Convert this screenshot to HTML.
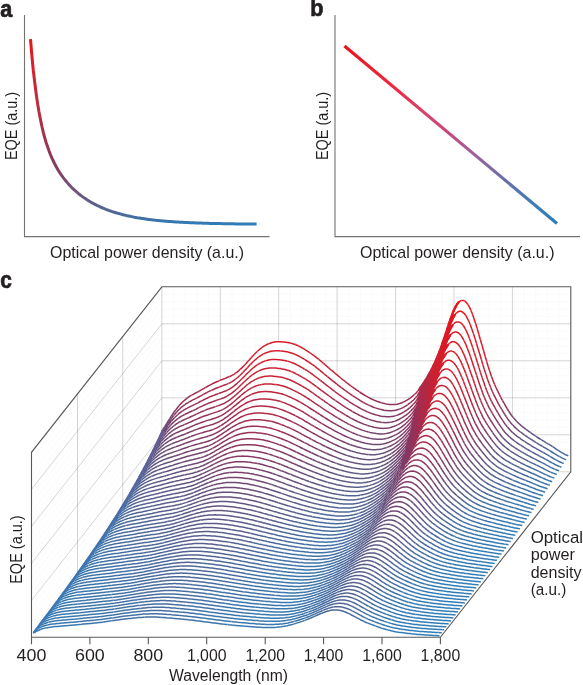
<!DOCTYPE html>
<html><head><meta charset="utf-8"><style>html,body{margin:0;padding:0;background:#fff;width:583px;height:685px;overflow:hidden}svg{display:block}</style></head>
<body><svg width="583" height="685" viewBox="0 0 583 685">
<defs><linearGradient id="ga" gradientUnits="userSpaceOnUse" x1="0" y1="224.4" x2="0" y2="39.3"><stop offset="0.0" stop-color="#2f7db9"/><stop offset="0.05" stop-color="#4a6a9a"/><stop offset="0.15" stop-color="#6a5a80"/><stop offset="0.33" stop-color="#8a3a5a"/><stop offset="0.5" stop-color="#a53248"/><stop offset="0.64" stop-color="#ba2e3e"/><stop offset="0.83" stop-color="#d6202e"/><stop offset="1.0" stop-color="#e8141c"/></linearGradient><linearGradient id="gb" gradientUnits="userSpaceOnUse" x1="344.5" y1="46" x2="557" y2="223.5"><stop offset="0.0" stop-color="#e8141c"/><stop offset="0.24" stop-color="#ec2a45"/><stop offset="0.37" stop-color="#d8426a"/><stop offset="0.5" stop-color="#c24a80"/><stop offset="0.6" stop-color="#a0609a"/><stop offset="0.75" stop-color="#6a6ea8"/><stop offset="0.9" stop-color="#3c7db8"/><stop offset="1.0" stop-color="#2e7eb6"/></linearGradient></defs>
<text x="0.3" y="16.5" font-size="23" font-weight="bold" fill="#231f20" stroke="#231f20" stroke-width="0.7" font-family="Liberation Sans, Arial, sans-serif" textLength="12" lengthAdjust="spacingAndGlyphs">a</text>
<text x="310.3" y="16.3" font-size="23" font-weight="bold" fill="#231f20" stroke="#231f20" stroke-width="0.7" font-family="Liberation Sans, Arial, sans-serif" textLength="13.2" lengthAdjust="spacingAndGlyphs">b</text>
<text x="0.3" y="287.8" font-size="23" font-weight="bold" fill="#231f20" stroke="#231f20" stroke-width="0.7" font-family="Liberation Sans, Arial, sans-serif" textLength="11.6" lengthAdjust="spacingAndGlyphs">c</text>
<path d="M24.5 15V236.6H269.5" stroke="#737373" stroke-width="1.1" fill="none"/>
<path d="M30.5 39.2 31.9 55.9 33.3 70.4 34.8 83 36.2 94 37.6 103.6 39 112.1 40.5 119.6 41.9 126.3 43.3 132.3 44.7 137.6 46.1 142.5 47.6 146.8 49 150.8 50.4 154.5 51.8 157.9 53.3 161 54.7 163.8 56.1 166.5 57.5 169 58.9 171.4 60.4 173.6 61.8 175.6 63.2 177.6 64.6 179.4 66.1 181.2 67.5 182.9 68.9 184.5 70.3 186 71.7 187.5 73.2 188.9 74.6 190.2 76 191.5 77.4 192.7 78.8 193.9 80.3 195 81.7 196.1 83.1 197.1 84.5 198.1 86 199.1 87.4 200 88.8 200.9 90.2 201.7 91.6 202.6 93.1 203.3 94.5 204.1 95.9 204.8 97.3 205.6 98.8 206.2 100.2 206.9 101.6 207.5 103 208.1 104.4 208.7 105.9 209.3 107.3 209.8 108.7 210.4 110.1 210.9 111.6 211.4 113 211.8 114.4 212.3 115.8 212.7 117.2 213.1 118.7 213.5 120.1 213.9 121.5 214.3 122.9 214.7 124.4 215 125.8 215.4 127.2 215.7 128.6 216 130 216.3 131.5 216.6 132.9 216.9 134.3 217.2 135.7 217.4 137.2 217.7 138.6 217.9 140 218.1 141.4 218.4 142.8 218.6 144.3 218.8 145.7 219 147.1 219.2 148.5 219.4 149.9 219.6 151.4 219.7 152.8 219.9 154.2 220.1 155.6 220.2 157.1 220.4 158.5 220.5 159.9 220.7 161.3 220.8 162.7 220.9 164.2 221 165.6 221.2 167 221.3 168.4 221.4 169.9 221.5 171.3 221.6 172.7 221.7 174.1 221.8 175.5 221.9 177 222 178.4 222.1 179.8 222.2 181.2 222.2 182.7 222.3 184.1 222.4 185.5 222.5 186.9 222.5 188.3 222.6 189.8 222.7 191.2 222.7 192.6 222.8 194 222.8 195.5 222.9 196.9 223 198.3 223 199.7 223.1 201.1 223.1 202.6 223.2 204 223.2 205.4 223.2 206.8 223.3 208.3 223.3 209.7 223.4 211.1 223.4 212.5 223.4 213.9 223.5 215.4 223.5 216.8 223.5 218.2 223.6 219.6 223.6 221 223.6 222.5 223.7 223.9 223.7 225.3 223.7 226.7 223.7 228.2 223.8 229.6 223.8 231 223.8 232.4 223.8 233.8 223.8 235.3 223.9 236.7 223.9 238.1 223.9 239.5 223.9 241 223.9 242.4 224 243.8 224 245.2 224 246.6 224 248.1 224 249.5 224 250.9 224 252.3 224.1 253.8 224.1 255.2 224.1 256.6 224.1" stroke="url(#ga)" stroke-width="3" fill="none"/>
<text x="50" y="257.9" font-size="16.2" fill="#231f20" font-family="Liberation Sans, Arial, sans-serif" textLength="194" lengthAdjust="spacingAndGlyphs">Optical power density (a.u.)</text>
<text transform="translate(17.2,160) rotate(-90)" font-size="16" fill="#231f20" font-family="Liberation Sans, Arial, sans-serif" textLength="68" lengthAdjust="spacingAndGlyphs">EQE (a.u.)</text>
<path d="M335 15V236.6H580" stroke="#737373" stroke-width="1.1" fill="none"/>
<path d="M344.5 46L557 223.5" stroke="url(#gb)" stroke-width="3.2" fill="none"/>
<text x="360" y="257.9" font-size="16.2" fill="#231f20" font-family="Liberation Sans, Arial, sans-serif" textLength="194.5" lengthAdjust="spacingAndGlyphs">Optical power density (a.u.)</text>
<text transform="translate(327.7,160) rotate(-90)" font-size="16" fill="#231f20" font-family="Liberation Sans, Arial, sans-serif" textLength="68" lengthAdjust="spacingAndGlyphs">EQE (a.u.)</text>
<path d="M173.6 286.8V471.8M185.3 286.8V471.8M196.9 286.8V471.8M208.6 286.8V471.8M232 286.8V471.8M243.7 286.8V471.8M255.4 286.8V471.8M267 286.8V471.8M290.4 286.8V471.8M302.1 286.8V471.8M313.8 286.8V471.8M325.5 286.8V471.8M348.8 286.8V471.8M360.5 286.8V471.8M372.2 286.8V471.8M383.9 286.8V471.8M407.2 286.8V471.8M418.9 286.8V471.8M430.6 286.8V471.8M442.3 286.8V471.8M465.7 286.8V471.8M477.3 286.8V471.8M489 286.8V471.8M500.7 286.8V471.8M524.1 286.8V471.8M535.8 286.8V471.8M547.4 286.8V471.8M559.1 286.8V471.8M161.9 464.4H570.8M161.9 457H570.8M161.9 449.6H570.8M161.9 442.2H570.8M161.9 427.4H570.8M161.9 420H570.8M161.9 412.6H570.8M161.9 405.2H570.8M161.9 390.4H570.8M161.9 383H570.8M161.9 375.6H570.8M161.9 368.2H570.8M161.9 353.4H570.8M161.9 346H570.8M161.9 338.6H570.8M161.9 331.2H570.8M161.9 316.4H570.8M161.9 309H570.8M161.9 301.6H570.8M161.9 294.2H570.8M31.5 629.9L161.9 464.4M31.5 622.5L161.9 457M31.5 615.1L161.9 449.6M31.5 607.7L161.9 442.2M31.5 592.9L161.9 427.4M31.5 585.5L161.9 420M31.5 578.1L161.9 412.6M31.5 570.7L161.9 405.2M31.5 555.9L161.9 390.4M31.5 548.5L161.9 383M31.5 541.1L161.9 375.6M31.5 533.7L161.9 368.2M31.5 518.9L161.9 353.4M31.5 511.5L161.9 346M31.5 504.1L161.9 338.6M31.5 496.7L161.9 331.2M31.5 481.9L161.9 316.4M31.5 474.5L161.9 309M31.5 467.1L161.9 301.6M31.5 459.7L161.9 294.2" stroke="#eceef0" stroke-width="0.7" stroke-dasharray="0.8 1.4" fill="none"/>
<path d="M161.9 286.8V471.8M220.3 286.8V471.8M278.7 286.8V471.8M337.1 286.8V471.8M395.6 286.8V471.8M454 286.8V471.8M512.4 286.8V471.8M161.9 471.8H570.8M161.9 434.8H570.8M161.9 397.8H570.8M161.9 360.8H570.8M161.9 323.8H570.8M31.5 600.3L161.9 434.8M31.5 563.3L161.9 397.8M31.5 526.3L161.9 360.8M31.5 489.3L161.9 323.8M77.5 578.9L77.5 393.9M122.8 521.4L122.8 336.4" stroke="#000" stroke-opacity="0.19" stroke-width="0.9" fill="none"/>
<path d="M161.8 431.3 163.3 428.8 164.9 426.3 166.5 423.8 168 421.3 169.6 418.8 171.2 416.4 172.7 414.1 174.3 411.8 175.9 409.7 177.5 407.7 179 405.8 180.6 404 182.2 402.4 183.7 401 185.3 399.6 186.9 398.4 188.4 397.2 190 396.2 191.6 395.2 193.2 394.3 194.7 393.5 196.3 392.6 197.9 391.8 199.4 391 201 390.1 202.6 389.2 204.1 388.3 205.7 387.4 207.3 386.5 208.9 385.6 210.4 384.8 212 384 213.6 383.2 215.1 382.5 216.7 381.8 218.3 381.1 219.8 380.4 221.4 379.8 223 379.2 224.6 378.6 226.1 378 227.7 377.3 229.3 376.7 230.8 376 232.4 375.2 234 374.3 235.5 373.2 237.1 372.1 238.7 370.8 240.2 369.4 241.8 367.9 243.4 366.3 245 364.7 246.5 363 248.1 361.2 249.7 359.5 251.2 357.7 252.8 356 254.4 354.3 255.9 352.7 257.5 351.2 259.1 349.8 260.7 348.5 262.2 347.3 263.8 346.2 265.4 345.3 266.9 344.5 268.5 343.8 270.1 343.2 271.6 342.7 273.2 342.3 274.8 342 276.4 341.8 277.9 341.7 279.5 341.7 281.1 341.8 282.6 341.9 284.2 342.1 285.8 342.3 287.3 342.5 288.9 342.8 290.5 343.1 292 343.5 293.6 344 295.2 344.5 296.8 345.2 298.3 345.9 299.9 346.7 301.5 347.5 303 348.4 304.6 349.4 306.2 350.3 307.7 351.4 309.3 352.4 310.9 353.5 312.5 354.6 314 355.7 315.6 356.9 317.2 358.1 318.7 359.4 320.3 360.7 321.9 362 323.4 363.4 325 364.7 326.6 366.1 328.2 367.4 329.7 368.8 331.3 370.1 332.9 371.4 334.4 372.7 336 374.1 337.6 375.4 339.1 376.7 340.7 378 342.3 379.3 343.9 380.5 345.4 381.7 347 383 348.6 384.1 350.1 385.3 351.7 386.5 353.3 387.6 354.8 388.7 356.4 389.9 358 390.9 359.5 392 361.1 393 362.7 394 364.3 395 365.8 395.9 367.4 396.8 369 397.7 370.5 398.5 372.1 399.2 373.7 400 375.2 400.6 376.8 401.3 378.4 401.8 380 402.3 381.5 402.8 383.1 403.3 384.7 403.6 386.2 404 387.8 404.2 389.4 404.5 390.9 404.6 392.5 404.6 394.1 404.6 395.7 404.4 397.2 404.2 398.8 403.8 400.4 403.3 401.9 402.7 403.5 402 405.1 401.2 406.6 400.4 408.2 399.4 409.8 398.3 411.3 397.2 412.9 395.9 414.5 394.5 416.1 393 417.6 391.3 419.2 389.4 420.8 387.3 422.3 385.1 423.9 382.8 425.5 380.3 427 377.8 428.6 375.1 430.2 372.2 431.8 369.2 433.3 366 434.9 362.7 436.5 359.1 438 355.4 439.6 351.4 441.2 347.2 442.7 342.7 444.3 338.1 445.9 333.3 447.5 328.5 449 323.7 450.6 319 452.2 314.6 453.7 310.7 455.3 307.3 456.9 304.5 458.4 302.4 460 301.1 461.6 300.4 463.2 300.4 464.7 301.1 466.3 302.4 467.9 304.5 469.4 307.2 471 310.5 472.6 314.5 474.1 318.9 475.7 323.7 477.3 328.9 478.8 334.2 480.4 339.7 482 345.2 483.6 350.8 485.1 356.3 486.7 361.6 488.3 366.8 489.8 371.6 491.4 376.2 493 380.4 494.5 384.2 496.1 387.8 497.7 391.2 499.3 394.3 500.8 397.3 502.4 400.3 504 403.1 505.5 405.8 507.1 408.5 508.7 411.1 510.2 413.5 511.8 415.7 513.4 417.7 515 419.5 516.5 421.2 518.1 422.7 519.7 424.2 521.2 425.6 522.8 426.9 524.4 428.1 525.9 429.3 527.5 430.4 529.1 431.6 530.6 432.7 532.2 433.8 533.8 434.9 535.4 436 536.9 437 538.5 438 540.1 439 541.6 440 543.2 440.9 544.8 441.9 546.3 442.8 547.9 443.8 549.5 444.7 551.1 445.7 552.6 446.7 554.2 447.7 555.8 448.8 557.3 449.8 558.9 450.9 560.5 451.8 562 452.8 563.6 453.7 565.2 454.5 566.8 455.2 568.3 455.9 568.3 455.9 566 459.7 563.7 463.5 561.4 467.2 559.1 470.9 556.8 474.5 554.5 478.1 552.2 481.7 549.9 485.3 547.6 488.8 545.3 492.2 543 495.7 540.7 499.1 538.4 502.5 536.1 505.9 533.8 509.2 531.5 512.5 529.2 515.8 526.9 519.1 524.6 522.4 522.3 525.6 520 528.8 517.7 532 515.4 535.2 513.1 538.4 510.8 541.6 508.5 544.7 506.2 547.9 503.9 551 501.6 554.1 499.3 557.2 497 560.3 494.7 563.4 492.4 566.5 490.1 569.6 487.8 572.7 485.5 575.7 483.2 578.8 480.9 581.8 478.6 584.8 476.3 587.9 474 590.9 471.7 593.9 469.4 596.9 467.1 599.9 464.8 602.9 462.5 605.9 460.2 608.9 457.9 611.9 455.6 614.9 453.3 617.9 451 620.9 448.7 623.9 446.4 626.8 444.1 629.8 441.8 632.8 439.5 635.8 439.5 637.3 33 637.3 33 633.1 35.3 630.1 37.6 627 39.9 624 42.2 621 44.5 617.9 46.8 614.8 49.1 611.8 51.4 608.7 53.7 605.6 56 602.5 58.3 599.4 60.6 596.3 62.9 593.1 65.2 590 67.5 586.8 69.8 583.7 72.1 580.5 74.4 577.3 76.7 574.1 79 570.9 81.3 567.6 83.6 564.4 85.9 561.1 88.2 557.8 90.5 554.5 92.8 551.1 95.1 547.8 97.4 544.4 99.7 541 102 537.5 104.3 534 106.6 530.5 108.9 527 111.2 523.4 113.5 519.8 115.8 516.2 118.1 512.5 120.4 508.8 122.7 505 125 501.2 127.3 497.4 129.6 493.5 131.9 489.5 134.2 485.5 136.5 481.4 138.8 477.2 141.1 473 143.4 468.7 145.7 464.4 148 459.9 150.3 455.4 152.6 450.8 154.9 446.1 157.2 441.3 159.5 436.3 161.8 431.3Z" fill="#fff"/>
<path d="M401.3 467.1L402.9 465.1M402.1 463.9L403.6 461.8M402.8 460.5L404.4 458.5" stroke="#7c3f6a" stroke-width="2.4" fill="none" stroke-linecap="round"/>
<path d="M402.2 468.3L403.8 466.3M402.9 465.1L404.5 462.9M404.5 462.9L406.1 460.8M403.6 461.8L405.2 459.6M404.4 458.5L405.9 456.3M403.5 457.1L405.1 455.1M405.1 455.1L406.7 452.9M405.8 451.6L407.4 449.5M406.6 448.1L408.1 446" stroke="#823b66" stroke-width="2.4" fill="none" stroke-linecap="round"/>
<path d="M406.1 460.8L407.6 458.7M405.2 459.6L406.8 457.4M406.8 457.4L408.4 455.2M405.9 456.3L407.5 454M407.5 454L409.1 451.7M406.7 452.9L408.2 450.7M408.2 450.7L409.8 448.3M407.4 449.5L409 447.2M409 447.2L410.5 444.9M408.1 446L409.7 443.7M407.3 444.5L408.9 442.4M408.9 442.4L410.4 440.2M408 440.8L409.6 438.7M409.6 438.7L411.2 436.5" stroke="#883761" stroke-width="2.4" fill="none" stroke-linecap="round"/>
<path d="M407.6 458.7L409.2 456.6M408.4 455.2L409.9 453M409.9 453L411.5 450.8M409.1 451.7L410.7 449.4M410.7 449.4L412.2 447.1M409.8 448.3L411.4 445.9M410.5 444.9L412.1 442.4M409.7 443.7L411.3 441.4M411.3 441.4L412.8 438.9M410.4 440.2L412 437.9M412 437.9L413.6 435.4M411.2 436.5L412.7 434.2M410.3 434.9L411.9 432.8M411.9 432.8L413.5 430.5M411.1 431.1L412.6 428.9M411.8 427.1L413.4 425" stroke="#8f345d" stroke-width="2.4" fill="none" stroke-linecap="round"/>
<path d="M412.2 447.1L413.8 444.9M411.4 445.9L413 443.5M413 443.5L414.5 441.1M412.1 442.4L413.7 439.9M412.8 438.9L414.4 436.4M413.6 435.4L415.1 432.8M412.7 434.2L414.3 431.8M414.3 431.8L415.9 429.2M413.5 430.5L415 428.1M412.6 428.9L414.2 426.7M414.2 426.7L415.8 424.3M413.4 425L414.9 422.8M414.9 422.8L416.5 420.4M412.5 423L414.1 420.9M414.1 420.9L415.7 418.7M413.2 418.8L414.8 416.8M414.8 416.8L416.4 414.6M414 414.5L415.5 412.5" stroke="#953259" stroke-width="2.4" fill="none" stroke-linecap="round"/>
<path d="M413.8 444.9L415.4 442.8M414.5 441.1L416.1 438.8M413.7 439.9L415.3 437.4M415.3 437.4L416.8 434.9M414.4 436.4L416 433.8M416 433.8L417.6 431.1M415.1 432.8L416.7 430.2M415.9 429.2L417.4 426.6M415 428.1L416.6 425.6M416.6 425.6L418.2 422.9M415.8 424.3L417.3 421.8M417.3 421.8L418.9 419.1M416.5 420.4L418.1 417.9M415.7 418.7L417.2 416.4M417.2 416.4L418.8 414M416.4 414.6L418 412.3M415.5 412.5L417.1 410.3M417.1 410.3L418.7 408.1M414.7 410.2L416.3 408.1M416.3 408.1L417.8 406" stroke="#9b3054" stroke-width="2.4" fill="none" stroke-linecap="round"/>
<path d="M416.1 438.8L417.7 436.6M416.8 434.9L418.4 432.4M417.6 431.1L419.1 428.5M416.7 430.2L418.3 427.4M418.3 427.4L419.9 424.7M417.4 426.6L419 423.8M418.2 422.9L419.7 420.1M418.9 419.1L420.5 416.4M418.1 417.9L419.6 415.3M419.6 415.3L421.2 412.5M418.8 414L420.4 411.4M418 412.3L419.5 409.9M419.5 409.9L421.1 407.3M418.7 408.1L420.3 405.7M417.8 406L419.4 403.7M419.4 403.7L421 401.3M417 403.6L418.6 401.5M418.6 401.5L420.1 399.2M417.7 399L419.3 396.9" stroke="#a22e50" stroke-width="2.4" fill="none" stroke-linecap="round"/>
<path d="M418.4 432.4L420 430.1M420 430.1L421.5 428.1M419.1 428.5L420.7 426M419.9 424.7L421.4 421.9M419 423.8L420.6 420.9M420.6 420.9L422.2 418M419.7 420.1L421.3 417.2M420.5 416.4L422 413.4M421.2 412.5L422.8 409.6M420.4 411.4L421.9 408.6M421.9 408.6L423.5 405.7M421.1 407.3L422.7 404.6M420.3 405.7L421.8 403.1M421.8 403.1L423.4 400.4M421 401.3L422.6 398.8M420.1 399.2L421.7 396.9M421.7 396.9L423.3 394.4M419.3 396.9L420.9 394.7M420.9 394.7L422.4 392.3M418.5 394.3L420 392.2M420 392.2L421.6 390M419.2 389.4L420.8 387.3" stroke="#a82c4c" stroke-width="2.4" fill="none" stroke-linecap="round"/>
<path d="M420.7 426L422.3 423.6M422.3 423.6L423.8 421.4M421.4 421.9L423 419.3M422.2 418L423.7 415.1M421.3 417.2L422.9 414.2M422.9 414.2L424.5 411.2M422 413.4L423.6 410.4M422.8 409.6L424.3 406.6M423.5 405.7L425.1 402.7M422.7 404.6L424.2 401.7M423.4 400.4L425 397.6M422.6 398.8L424.1 396.2M424.1 396.2L425.7 393.4M423.3 394.4L424.9 391.8M422.4 392.3L424 389.8M421.6 390L423.2 387.6M423.2 387.6L424.7 385.2M420.8 387.3L422.3 385.1M422.3 385.1L423.9 382.8" stroke="#ad2a48" stroke-width="2.4" fill="none" stroke-linecap="round"/>
<path d="M423 419.3L424.6 416.8M424.6 416.8L426.1 414.5M423.7 415.1L425.3 412.4M424.5 411.2L426 408.2M423.6 410.4L425.2 407.2M425.2 407.2L426.8 404.1M424.3 406.6L425.9 403.4M425.1 402.7L426.6 399.5M424.2 401.7L425.8 398.7M425.8 398.7L427.4 395.5M425 397.6L426.5 394.6M425.7 393.4L427.3 390.4M424.9 391.8L426.4 389M424 389.8L425.6 387.2M425.6 387.2L427.2 384.5M424.7 385.2L426.3 382.6M423.9 382.8L425.5 380.3" stroke="#b32944" stroke-width="2.4" fill="none" stroke-linecap="round"/>
<path d="M425.3 412.4L426.9 409.7M426.9 409.7L428.4 407.4M426 408.2L427.6 405.2M426.8 404.1L428.3 401M425.9 403.4L427.5 400.1M426.6 399.5L428.2 396.1M427.4 395.5L428.9 392.2M426.5 394.6L428.1 391.5M427.3 390.4L428.8 387.3M426.4 389L428 386.1M428 386.1L429.6 383M427.2 384.5L428.7 381.6M426.3 382.6L427.9 379.9M425.5 380.3L427 377.8M427 377.8L428.6 375.1" stroke="#b82740" stroke-width="2.4" fill="none" stroke-linecap="round"/>
<path d="M428.4 407.4L430 405.3M427.6 405.2L429.2 402.5M428.3 401L429.9 397.9M427.5 400.1L429.1 396.8M428.2 396.1L429.8 392.7M428.9 392.2L430.5 388.7M428.1 391.5L429.7 388.1M429.7 388.1L431.2 384.6M428.8 387.3L430.4 384M429.6 383L431.1 379.7M428.7 381.6L430.3 378.5M427.9 379.9L429.5 377M429.5 377L431 374M428.6 375.1L430.2 372.2" stroke="#be253b" stroke-width="2.4" fill="none" stroke-linecap="round"/>
<path d="M429.2 402.5L430.7 400M430.7 400L432.3 397.9M429.9 397.9L431.5 395M429.1 396.8L430.6 393.5M430.6 393.5L432.2 390.3M429.8 392.7L431.4 389.2M430.5 388.7L432.1 385.1M431.2 384.6L432.8 380.9M430.4 384L432 380.5M431.1 379.7L432.7 376.2M430.3 378.5L431.9 375.3M431 374L432.6 370.7M430.2 372.2L431.8 369.2" stroke="#c42337" stroke-width="2.4" fill="none" stroke-linecap="round"/>
<path d="M431.5 395L433 392.4M432.2 390.3L433.8 387.3M431.4 389.2L432.9 385.8M432.1 385.1L433.7 381.5M432.8 380.9L434.4 377.2M432 380.5L433.5 376.8M432.7 376.2L434.3 372.6M431.9 375.3L433.4 371.9M432.6 370.7L434.2 367.3M431.8 369.2L433.3 366" stroke="#c82234" stroke-width="2.4" fill="none" stroke-linecap="round"/>
<path d="M433 392.4L434.6 390.2M433.8 387.3L435.3 384.6M432.9 385.8L434.5 382.5M433.7 381.5L435.2 377.9M434.4 377.2L436 373.4M433.5 376.8L435.1 373M434.3 372.6L435.8 368.7M433.4 371.9L435 368.2M434.2 367.3L435.7 363.7M433.3 366L434.9 362.7M434.9 362.7L436.5 359.1" stroke="#cb2132" stroke-width="2.4" fill="none" stroke-linecap="round"/>
<path d="M435.3 384.6L436.9 382.2M434.5 382.5L436.1 379.3M435.2 377.9L436.8 374.3M435.1 373L436.7 369M435.8 368.7L437.4 364.7M435 368.2L436.6 364.4M435.7 363.7L437.3 359.9M436.5 359.1L438 355.4" stroke="#ce2030" stroke-width="2.4" fill="none" stroke-linecap="round"/>
<path d="M436.1 379.3L437.6 376.5M437.6 376.5L439.2 374M436.8 374.3L438.4 371M436 373.4L437.5 369.6M436.7 369L438.3 365M437.4 364.7L439 360.6M436.6 364.4L438.1 360.4M437.3 359.9L438.9 355.9M438 355.4L439.6 351.4" stroke="#d01f2f" stroke-width="2.4" fill="none" stroke-linecap="round"/>
<path d="M438.4 371L439.9 368.1M437.5 369.6L439.1 365.9M438.3 365L439.8 361.1M439 360.6L440.6 356.4M438.1 360.4L439.7 356.1M438.9 355.9L440.4 351.7" stroke="#d21e2d" stroke-width="2.4" fill="none" stroke-linecap="round"/>
<path d="M439.9 368.1L441.5 365.5M439.1 365.9L440.7 362.5M439.8 361.1L441.4 357.2M439.7 356.1L441.3 351.8M440.4 351.7L442 347.3M439.6 351.4L441.2 347.2" stroke="#d51d2b" stroke-width="2.4" fill="none" stroke-linecap="round"/>
<path d="M441.5 365.5L443.1 363.4M440.7 362.5L442.2 359.4M442.2 359.4L443.8 356.7M441.4 357.2L443 353.6M440.6 356.4L442.1 352.2M441.3 351.8L442.9 347.4M442 347.3L443.6 342.7M441.2 347.2L442.7 342.7" stroke="#d81c2a" stroke-width="2.4" fill="none" stroke-linecap="round"/>
<path d="M443.8 356.7L445.4 354.5M443 353.6L444.5 350.3M442.1 352.2L443.7 348.2M442.9 347.4L444.4 343.1M442.7 342.7L444.3 338.1" stroke="#da1b28" stroke-width="2.4" fill="none" stroke-linecap="round"/>
<path d="M444.5 350.3L446.1 347.5M443.7 348.2L445.3 344.4M444.4 343.1L446 338.8M443.6 342.7L445.2 338.1M444.3 338.1L445.9 333.3" stroke="#dc1a26" stroke-width="2.4" fill="none" stroke-linecap="round"/>
<path d="M446.1 347.5L447.7 345.2M445.3 344.4L446.8 341M445.2 338.1L446.7 333.6" stroke="#df1925" stroke-width="2.4" fill="none" stroke-linecap="round"/>
<path d="M446.8 341L448.4 338M446 338.8L447.6 334.9M446.7 333.6L448.3 329.1M445.9 333.3L447.5 328.5" stroke="#e01924" stroke-width="2.4" fill="none" stroke-linecap="round"/>
<path d="M448.4 338L450 335.6M447.6 334.9L449.1 331.3M448.3 329.1L449.9 324.9M447.5 328.5L449 323.7" stroke="#e11823" stroke-width="2.4" fill="none" stroke-linecap="round"/>
<path d="M449.1 331.3L450.7 328.2M449 323.7L450.6 319" stroke="#e21822" stroke-width="2.4" fill="none" stroke-linecap="round"/>
<path d="M450.7 328.2L452.3 325.6M449.9 324.9L451.4 321.2M450.6 319L452.2 314.6" stroke="#e31721" stroke-width="2.4" fill="none" stroke-linecap="round"/>
<path d="M451.4 321.2L453 317.9" stroke="#e41720" stroke-width="2.4" fill="none" stroke-linecap="round"/>
<path d="M453 317.9L454.6 315.3M452.2 314.6L453.7 310.7" stroke="#e5161f" stroke-width="2.4" fill="none" stroke-linecap="round"/>
<path d="M453.7 310.7L455.3 307.3" stroke="#e6161e" stroke-width="2.4" fill="none" stroke-linecap="round"/>
<path d="M455.3 307.3L456.9 304.5M456.9 304.5L458.4 302.4" stroke="#e6151e" stroke-width="2.4" fill="none" stroke-linecap="round"/>
<path d="M434.8 635.5 436.4 635.6 438 635.7 439.5 635.8M438.7 632.6 440.3 632.7 441.8 632.8M442.6 629.7 444.1 629.8M444.9 626.7 446.4 626.8M448.7 623.9M451 620.9" stroke="#2f7db9" stroke-width="1.5" fill="none" stroke-linejoin="round"/>
<path d="M33 633.1 34.5 632.3 36.1 631.4M397.1 631.9 398.7 632.2 400.3 632.4 401.8 632.6 403.4 632.8 405 633 406.6 633.2 408.1 633.4 409.7 633.6 411.3 633.8 412.8 633.9 414.4 634.1 416 634.2 417.5 634.4 419.1 634.5 420.7 634.6 422.3 634.7 423.8 634.8 425.4 634.9 427 635 428.5 635.1 430.1 635.2 431.7 635.3 433.2 635.4 434.8 635.5M35.3 630.1 36.8 629.2 38.4 628.4M401 629.1 402.6 629.4 404.1 629.6 405.7 629.8 407.3 630 408.9 630.2 410.4 630.4 412 630.6 413.6 630.8 415.1 630.9 416.7 631.1 418.3 631.2 419.8 631.4 421.4 631.5 423 631.6 424.6 631.7 426.1 631.8 427.7 632 429.3 632.1 430.8 632.1 432.4 632.2 434 632.3 435.5 632.4 437.1 632.5 438.7 632.6M37.6 627 39.1 626.2 40.7 625.3M403.3 626.1 404.9 626.3 406.4 626.6 408 626.8 409.6 627 411.2 627.2 412.7 627.4 414.3 627.6 415.9 627.7 417.4 627.9 419 628.1 420.6 628.2 422.1 628.4 423.7 628.5 425.3 628.6 426.9 628.7 428.4 628.9 430 629 431.6 629.1 433.1 629.2 434.7 629.3 436.3 629.3 437.8 629.4 439.4 629.5 441 629.6 442.6 629.7M39.9 624 41.4 623.1 43 622.3M407.2 623.3 408.7 623.5 410.3 623.7 411.9 624 413.5 624.2 415 624.4 416.6 624.5 418.2 624.7 419.7 624.9 421.3 625.1 422.9 625.2 424.4 625.3 426 625.5 427.6 625.6 429.2 625.7 430.7 625.9 432.3 626 433.9 626.1 435.4 626.2 437 626.3 438.6 626.4 440.1 626.5 441.7 626.6 443.3 626.7 444.9 626.7M42.2 621 43.7 620.1M409.5 620.3 411 620.5 412.6 620.7 414.2 620.9 415.8 621.1 417.3 621.3 418.9 621.5 420.5 621.7 422 621.9 423.6 622 425.2 622.2 426.7 622.3 428.3 622.5 429.9 622.6 431.5 622.7 433 622.8 434.6 623 436.2 623.1 437.7 623.2 439.3 623.3 440.9 623.4 442.4 623.5 444 623.6 445.6 623.7 447.2 623.8 448.7 623.9M44.5 617.9 46 617M413.3 617.4 414.9 617.7 416.5 617.9 418.1 618.1 419.6 618.3 421.2 618.5 422.8 618.7 424.3 618.8 425.9 619 427.5 619.2 429 619.3 430.6 619.5 432.2 619.6 433.8 619.7 435.3 619.8 436.9 620 438.5 620.1 440 620.2 441.6 620.3 443.2 620.4 444.7 620.5 446.3 620.6 447.9 620.7 449.5 620.8 451 620.9M46.8 614.8 48.3 613.9M415.6 614.4 417.2 614.6 418.8 614.8 420.4 615 421.9 615.2 423.5 615.4 425.1 615.6 426.6 615.8 428.2 616 429.8 616.1 431.3 616.3 432.9 616.4 434.5 616.6 436.1 616.7 437.6 616.8 439.2 616.9 440.8 617.1 442.3 617.2 443.9 617.3 445.5 617.4 447 617.5 448.6 617.6 450.2 617.7 451.8 617.8 453.3 617.9M49.1 611.8 50.6 610.9M419.5 611.5 421.1 611.8 422.7 612 424.2 612.2 425.8 612.4 427.4 612.6 428.9 612.8 430.5 612.9 432.1 613.1 433.6 613.3 435.2 613.4 436.8 613.5 438.4 613.7 439.9 613.8 441.5 613.9 443.1 614.1 444.6 614.2 446.2 614.3 447.8 614.4 449.3 614.5 450.9 614.6 452.5 614.7 454.1 614.8 455.6 614.9M51.4 608.7 52.9 607.8M421.8 608.5 423.4 608.7 425 608.9 426.5 609.1 428.1 609.3 429.7 609.5 431.2 609.7 432.8 609.9 434.4 610.1 435.9 610.2 437.5 610.4 439.1 610.5 440.7 610.7 442.2 610.8 443.8 610.9 445.4 611 446.9 611.2 448.5 611.3 450.1 611.4 451.6 611.5 453.2 611.6 454.8 611.7 456.4 611.8 457.9 611.9M53.7 605.6 55.2 604.7M425.7 605.6 427.3 605.9 428.8 606.1 430.4 606.3 432 606.5 433.5 606.7 435.1 606.8 436.7 607 438.2 607.2 439.8 607.3 441.4 607.5 443 607.6 444.5 607.8 446.1 607.9 447.7 608 449.2 608.1 450.8 608.3 452.4 608.4 453.9 608.5 455.5 608.6 457.1 608.7 458.7 608.8 460.2 608.9M429.6 602.8 431.1 603 432.7 603.2 434.3 603.4 435.8 603.6 437.4 603.8 439 604 440.5 604.1 442.1 604.3 443.7 604.4 445.3 604.6 446.8 604.7 448.4 604.9 450 605 451.5 605.1 453.1 605.2 454.7 605.4 456.2 605.5 457.8 605.6 459.4 605.7 461 605.8 462.5 605.9M433.4 599.9 435 600.1 436.6 600.3 438.1 600.5 439.7 600.7 441.3 600.9 442.8 601.1 444.4 601.2 446 601.4 447.6 601.5 449.1 601.7 450.7 601.8 452.3 602 453.8 602.1 455.4 602.2 457 602.3 458.5 602.5 460.1 602.6 461.7 602.7 463.3 602.8 464.8 602.9M435.7 596.8 437.3 597 438.9 597.2 440.4 597.4 442 597.6 443.6 597.8 445.1 598 446.7 598.2 448.3 598.3 449.9 598.5 451.4 598.6 453 598.8 454.6 598.9 456.1 599.1 457.7 599.2 459.3 599.3 460.8 599.5 462.4 599.6 464 599.7 465.6 599.8 467.1 599.9M439.6 593.9 441.2 594.2 442.7 594.4 444.3 594.6 445.9 594.7 447.4 594.9 449 595.1 450.6 595.3 452.2 595.4 453.7 595.6 455.3 595.7 456.9 595.9 458.4 596 460 596.2 461.6 596.3 463.1 596.4 464.7 596.6 466.3 596.7 467.9 596.8 469.4 596.9M443.5 591.1 445 591.3 446.6 591.5 448.2 591.7 449.7 591.8 451.3 592 452.9 592.2 454.5 592.4 456 592.5 457.6 592.7 459.2 592.8 460.7 593 462.3 593.1 463.9 593.3 465.4 593.4 467 593.5 468.6 593.7 470.2 593.8 471.7 593.9M447.3 588.2 448.9 588.4 450.5 588.6 452 588.8 453.6 588.9 455.2 589.1 456.8 589.3 458.3 589.4 459.9 589.6 461.5 589.8 463 589.9 464.6 590.1 466.2 590.2 467.7 590.4 469.3 590.5 470.9 590.6 472.5 590.8 474 590.9M451.2 585.3 452.8 585.5 454.3 585.7 455.9 585.8 457.5 586 459.1 586.2 460.6 586.4 462.2 586.5 463.8 586.7 465.3 586.9 466.9 587 468.5 587.2 470 587.3 471.6 587.5 473.2 587.6 474.8 587.7 476.3 587.9M455.1 582.3 456.6 582.5 458.2 582.7 459.8 582.9 461.4 583.1 462.9 583.3 464.5 583.5 466.1 583.6 467.6 583.8 469.2 584 470.8 584.1 472.3 584.3 473.9 584.4 475.5 584.6 477.1 584.7 478.6 584.8M458.9 579.4 460.5 579.6 462.1 579.8 463.7 580 465.2 580.2 466.8 580.4 468.4 580.5 469.9 580.7 471.5 580.9 473.1 581.1 474.6 581.2 476.2 581.4 477.8 581.5 479.4 581.7 480.9 581.8M462.8 576.5 464.4 576.7 466 576.9 467.5 577.1 469.1 577.3 470.7 577.5 472.2 577.6 473.8 577.8 475.4 578 476.9 578.1 478.5 578.3 480.1 578.5 481.7 578.6 483.2 578.8M466.7 573.6 468.3 573.8 469.8 574 471.4 574.2 473 574.4 474.5 574.5 476.1 574.7 477.7 574.9 479.2 575.1 480.8 575.2 482.4 575.4 484 575.6 485.5 575.7M470.6 570.6 472.1 570.8 473.7 571 475.3 571.2 476.8 571.4 478.4 571.6 480 571.8 481.5 572 483.1 572.2 484.7 572.3 486.3 572.5 487.8 572.7M474.4 567.7 476 567.9 477.6 568.1 479.1 568.3 480.7 568.5 482.3 568.7 483.8 568.9 485.4 569.1 487 569.3 488.6 569.4 490.1 569.6M478.3 564.8 479.9 565 481.4 565.2 483 565.4 484.6 565.6 486.1 565.8 487.7 566 489.3 566.2 490.9 566.4 492.4 566.5M482.2 561.8 483.7 562.1 485.3 562.3 486.9 562.5 488.4 562.7 490 562.9 491.6 563.1 493.2 563.3 494.7 563.4M486 558.9 487.6 559.1 489.2 559.4 490.7 559.6 492.3 559.8 493.9 560 495.5 560.2 497 560.3M489.9 556 491.5 556.2 493 556.4 494.6 556.7 496.2 556.9 497.8 557.1 499.3 557.2M493.8 553.1 495.3 553.3 496.9 553.5 498.5 553.7 500.1 553.9 501.6 554.1M497.6 550.2 499.2 550.4 500.8 550.6 502.4 550.8 503.9 551M501.5 547.2 503.1 547.5 504.7 547.7 506.2 547.9M505.4 544.3 507 544.5 508.5 544.7M509.3 541.4 510.8 541.6M513.1 538.4" stroke="#327cb6" stroke-width="1.5" fill="none" stroke-linejoin="round"/>
<path d="M36.1 631.4 37.7 630.7 39.2 630 40.8 629.4 42.4 628.8 43.9 628.4 45.5 628M383 628.6 384.6 629 386.2 629.5 387.7 629.9 389.3 630.3 390.9 630.7 392.4 631.1 394 631.4 395.6 631.7 397.1 631.9M38.4 628.4 40 627.6 41.5 626.9 43.1 626.3 44.7 625.8 46.2 625.3 47.8 624.9M385.3 625.5 386.9 626 388.5 626.4 390 626.9 391.6 627.3 393.2 627.7 394.7 628 396.3 628.3 397.9 628.6 399.4 628.9 401 629.1M40.7 625.3 42.3 624.6 43.8 623.9 45.4 623.3 47 622.7 48.5 622.2M387.6 622.4 389.2 622.9 390.8 623.4 392.3 623.8 393.9 624.2 395.5 624.6 397 625 398.6 625.3 400.2 625.6 401.7 625.9 403.3 626.1M43 622.3 44.6 621.5 46.1 620.8 47.7 620.2 49.3 619.6 50.8 619.2M391.5 619.8 393.1 620.3 394.6 620.8 396.2 621.2 397.8 621.6 399.3 621.9 400.9 622.2 402.5 622.5 404 622.8 405.6 623.1 407.2 623.3M43.7 620.1 45.3 619.2 46.9 618.4 48.4 617.7 50 617.1 51.6 616.6 53.1 616.1M393.8 616.8 395.4 617.2 396.9 617.7 398.5 618.1 400.1 618.5 401.6 618.9 403.2 619.2 404.8 619.5 406.3 619.8 407.9 620 409.5 620.3M46 617 47.6 616.2 49.2 615.4 50.7 614.7 52.3 614 53.9 613.5M396.1 613.7 397.7 614.2 399.2 614.6 400.8 615 402.4 615.4 403.9 615.8 405.5 616.1 407.1 616.4 408.6 616.7 410.2 617 411.8 617.2 413.3 617.4M48.3 613.9 49.9 613.1 51.5 612.3 53 611.6 54.6 610.9 56.2 610.4M400 611.1 401.5 611.5 403.1 611.9 404.7 612.3 406.2 612.7 407.8 613 409.4 613.3 410.9 613.6 412.5 613.9 414.1 614.1 415.6 614.4M50.6 610.9 52.2 610 53.8 609.2 55.3 608.5 56.9 607.8 58.5 607.2M402.3 608 403.8 608.4 405.4 608.9 407 609.3 408.5 609.6 410.1 610 411.7 610.3 413.2 610.6 414.8 610.8 416.4 611.1 417.9 611.3 419.5 611.5M52.9 607.8 54.5 606.9 56.1 606.1 57.6 605.4 59.2 604.7M404.6 604.8 406.1 605.3 407.7 605.7 409.3 606.2 410.8 606.5 412.4 606.9 414 607.2 415.5 607.5 417.1 607.7 418.7 608 420.2 608.2 421.8 608.5M55.2 604.7 56.8 603.8 58.4 603 59.9 602.2 61.5 601.6M408.4 602.2 410 602.6 411.6 603 413.1 603.4 414.7 603.8 416.3 604.1 417.8 604.4 419.4 604.7 421 604.9 422.5 605.2 424.1 605.4 425.7 605.6M56 602.5 57.5 601.6 59.1 600.7 60.7 599.9 62.2 599.1 63.8 598.4M410.7 599.1 412.3 599.5 413.9 599.9 415.4 600.3 417 600.7 418.6 601 420.1 601.3 421.7 601.6 423.3 601.8 424.8 602.1 426.4 602.3 428 602.5 429.6 602.8M58.3 599.4 59.8 598.5 61.4 597.6 63 596.7 64.5 596M414.6 596.4 416.2 596.8 417.7 597.2 419.3 597.5 420.9 597.9 422.4 598.2 424 598.4 425.6 598.7 427.1 599 428.7 599.2 430.3 599.5 431.9 599.7 433.4 599.9M60.6 596.3 62.1 595.3 63.7 594.4 65.3 593.6 66.8 592.8M416.9 593.2 418.5 593.6 420 594 421.6 594.4 423.2 594.7 424.7 595 426.3 595.3 427.9 595.6 429.4 595.9 431 596.1 432.6 596.4 434.2 596.6 435.7 596.8M62.9 593.1 64.4 592.2 66 591.3 67.6 590.4 69.1 589.6M420.8 590.5 422.3 590.9 423.9 591.3 425.5 591.6 427 591.9 428.6 592.2 430.2 592.5 431.7 592.7 433.3 593 434.9 593.2 436.5 593.5 438 593.7 439.6 593.9M65.2 590 66.7 589 68.3 588.1 69.9 587.2M423.1 587.3 424.6 587.7 426.2 588.1 427.8 588.4 429.3 588.8 430.9 589.1 432.5 589.3 434 589.6 435.6 589.9 437.2 590.1 438.8 590.4 440.3 590.6 441.9 590.8 443.5 591.1M67.5 586.8 69 585.9 70.6 584.9 72.2 584.1M426.9 584.6 428.5 584.9 430.1 585.3 431.6 585.6 433.2 585.9 434.8 586.2 436.3 586.5 437.9 586.7 439.5 587 441.1 587.2 442.6 587.5 444.2 587.7 445.8 587.9 447.3 588.2M69.8 583.7 71.3 582.7 72.9 581.7 74.5 580.9M430.8 581.7 432.4 582.1 433.9 582.4 435.5 582.7 437.1 583 438.6 583.3 440.2 583.6 441.8 583.9 443.4 584.1 444.9 584.4 446.5 584.6 448.1 584.8 449.6 585 451.2 585.3M72.1 580.5 73.6 579.5 75.2 578.5 76.8 577.6M433.1 578.5 434.7 578.9 436.2 579.2 437.8 579.6 439.4 579.9 440.9 580.1 442.5 580.4 444.1 580.7 445.7 581 447.2 581.2 448.8 581.5 450.4 581.7 451.9 581.9 453.5 582.1 455.1 582.3M74.4 577.3 75.9 576.3 77.5 575.3M437 575.7 438.5 576 440.1 576.4 441.7 576.7 443.2 577 444.8 577.3 446.4 577.5 448 577.8 449.5 578.1 451.1 578.3 452.7 578.5 454.2 578.8 455.8 579 457.4 579.2 458.9 579.4M76.7 574.1 78.2 573.1 79.8 572.1M440.8 572.8 442.4 573.2 444 573.5 445.5 573.8 447.1 574.1 448.7 574.3 450.3 574.6 451.8 574.9 453.4 575.1 455 575.4 456.5 575.6 458.1 575.9 459.7 576.1 461.2 576.3 462.8 576.5M79 570.9 80.5 569.8 82.1 568.8M444.7 569.9 446.3 570.2 447.8 570.6 449.4 570.9 451 571.2 452.6 571.4 454.1 571.7 455.7 572 457.3 572.2 458.8 572.5 460.4 572.7 462 572.9 463.5 573.1 465.1 573.4 466.7 573.6M81.3 567.6 82.8 566.6M448.6 567 450.1 567.3 451.7 567.6 453.3 567.9 454.9 568.2 456.4 568.5 458 568.8 459.6 569 461.1 569.3 462.7 569.5 464.3 569.8 465.8 570 467.4 570.2 469 570.4 470.6 570.6M83.6 564.4 85.1 563.3M452.4 564.1 454 564.4 455.6 564.7 457.2 565 458.7 565.3 460.3 565.6 461.9 565.8 463.4 566.1 465 566.3 466.6 566.6 468.1 566.8 469.7 567 471.3 567.3 472.9 567.5 474.4 567.7M85.9 561.1 87.4 560M456.3 561.2 457.9 561.5 459.5 561.8 461 562.1 462.6 562.4 464.2 562.6 465.7 562.9 467.3 563.2 468.9 563.4 470.4 563.6 472 563.9 473.6 564.1 475.2 564.3 476.7 564.5 478.3 564.8M460.2 558.2 461.8 558.5 463.3 558.8 464.9 559.1 466.5 559.4 468 559.7 469.6 559.9 471.2 560.2 472.7 560.4 474.3 560.7 475.9 560.9 477.5 561.2 479 561.4 480.6 561.6 482.2 561.8M464.1 555.2 465.6 555.6 467.2 555.9 468.8 556.2 470.3 556.4 471.9 556.7 473.5 557 475 557.2 476.6 557.5 478.2 557.7 479.8 558 481.3 558.2 482.9 558.4 484.5 558.7 486 558.9M467.9 552.3 469.5 552.6 471.1 552.9 472.6 553.2 474.2 553.5 475.8 553.7 477.3 554 478.9 554.3 480.5 554.5 482.1 554.8 483.6 555 485.2 555.3 486.8 555.5 488.3 555.8 489.9 556M473.4 549.6 474.9 549.9 476.5 550.2 478.1 550.5 479.6 550.8 481.2 551 482.8 551.3 484.4 551.5 485.9 551.8 487.5 552.1 489.1 552.3 490.6 552.6 492.2 552.8 493.8 553.1M477.2 546.6 478.8 546.9 480.4 547.2 481.9 547.5 483.5 547.8 485.1 548 486.7 548.3 488.2 548.6 489.8 548.9 491.4 549.1 492.9 549.4 494.5 549.7 496.1 549.9 497.6 550.2M481.1 543.6 482.7 543.9 484.2 544.2 485.8 544.5 487.4 544.8 489 545.1 490.5 545.4 492.1 545.6 493.7 545.9 495.2 546.2 496.8 546.5 498.4 546.7 499.9 547 501.5 547.2M485 540.6 486.5 540.9 488.1 541.2 489.7 541.5 491.3 541.8 492.8 542.1 494.4 542.4 496 542.7 497.5 543 499.1 543.3 500.7 543.5 502.2 543.8 503.8 544.1 505.4 544.3M490.4 537.9 492 538.2 493.6 538.5 495.1 538.8 496.7 539.1 498.3 539.4 499.8 539.7 501.4 540 503 540.3 504.5 540.6 506.1 540.9 507.7 541.1 509.3 541.4M494.3 534.9 495.9 535.2 497.4 535.5 499 535.9 500.6 536.2 502.1 536.5 503.7 536.8 505.3 537.1 506.8 537.4 508.4 537.7 510 537.9 511.6 538.2 513.1 538.4M498.2 531.9 499.7 532.2 501.3 532.6 502.9 532.9 504.4 533.2 506 533.6 507.6 533.9 509.1 534.2 510.7 534.5 512.3 534.7 513.9 535 515.4 535.2M503.6 529.2 505.2 529.6 506.7 529.9 508.3 530.3 509.9 530.6 511.4 530.9 513 531.2 514.6 531.5 516.2 531.8 517.7 532M507.5 526.3 509 526.6 510.6 527 512.2 527.3 513.7 527.7 515.3 528 516.9 528.3 518.5 528.6 520 528.8M511.3 523.3 512.9 523.7 514.5 524 516 524.4 517.6 524.7 519.2 525 520.8 525.3 522.3 525.6M515.2 520.3 516.8 520.7 518.3 521.1 519.9 521.4 521.5 521.8 523.1 522.1 524.6 522.4M519.1 517.4 520.6 517.8 522.2 518.1 523.8 518.5 525.4 518.8 526.9 519.1M522.9 514.4 524.5 514.8 526.1 515.2 527.7 515.5 529.2 515.8M526.8 511.5 528.4 511.8 530 512.2 531.5 512.5M530.7 508.5 532.3 508.9 533.8 509.2M536.1 505.9" stroke="#357ab3" stroke-width="1.5" fill="none" stroke-linejoin="round"/>
<path d="M45.5 628 47.1 627.7 48.7 627.4 50.2 627.2 51.8 627 53.4 626.8 54.9 626.6 56.5 626.5 58.1 626.4 59.6 626.2 61.2 626.1 62.8 626 64.4 625.8 65.9 625.7 67.5 625.6 69.1 625.4 70.6 625.3 72.2 625.2 73.8 625 75.3 624.9 76.9 624.7 78.5 624.6 80.1 624.4M227.6 624.6 229.2 624.8 230.7 624.9 232.3 625.1 233.9 625.2 235.5 625.4 237 625.5 238.6 625.7 240.2 625.8 241.7 625.9 243.3 626.1 244.9 626.2 246.4 626.3 248 626.5 249.6 626.6 251.2 626.7 252.7 626.8 254.3 627 255.9 627.1 257.4 627.2 259 627.3 260.6 627.3 262.1 627.4 263.7 627.5 265.3 627.5 266.9 627.5 268.4 627.5 270 627.5 271.6 627.5 273.1 627.4 274.7 627.4 276.3 627.3 277.8 627.1 279.4 627 281 626.8 282.5 626.5 284.1 626.3 285.7 626 287.3 625.7 288.8 625.3 290.4 624.9 292 624.5M372 624.7 373.6 625.3 375.2 625.9 376.7 626.4 378.3 627 379.9 627.5 381.4 628.1 383 628.6M47.8 624.9 49.4 624.6 51 624.3 52.5 624.1 54.1 623.9 55.7 623.7 57.2 623.5 58.8 623.4 60.4 623.2 61.9 623.1 63.5 623 65.1 622.8 66.7 622.7 68.2 622.6 69.8 622.5 71.4 622.3 72.9 622.2 74.5 622 76.1 621.9 77.6 621.7 79.2 621.6M231.5 621.6 233 621.8 234.6 622 236.2 622.1 237.8 622.3 239.3 622.4 240.9 622.6 242.5 622.7 244 622.8 245.6 623 247.2 623.1 248.7 623.2 250.3 623.4 251.9 623.5 253.5 623.6 255 623.7 256.6 623.9 258.2 624 259.7 624.1 261.3 624.2 262.9 624.3 264.4 624.3 266 624.4 267.6 624.4 269.2 624.4 270.7 624.4 272.3 624.4 273.9 624.4 275.4 624.3 277 624.3 278.6 624.2 280.1 624 281.7 623.9 283.3 623.7 284.8 623.4 286.4 623.2 288 622.9 289.6 622.5 291.1 622.2 292.7 621.8 294.3 621.4M374.3 621.6 375.9 622.2 377.5 622.8 379 623.4 380.6 623.9 382.2 624.5 383.7 625 385.3 625.5M48.5 622.2 50.1 621.8 51.7 621.5 53.3 621.2 54.8 621 56.4 620.8 58 620.6 59.5 620.4 61.1 620.3 62.7 620.1 64.2 620 65.8 619.9 67.4 619.7 69 619.6 70.5 619.5 72.1 619.3 73.7 619.2 75.2 619.1 76.8 618.9 78.4 618.8 79.9 618.6M236.9 618.8 238.5 619 240.1 619.2 241.6 619.3 243.2 619.5 244.8 619.6 246.3 619.7 247.9 619.9 249.5 620 251 620.1 252.6 620.2 254.2 620.4 255.8 620.5 257.3 620.6 258.9 620.8 260.5 620.9 262 621 263.6 621.1 265.2 621.2 266.7 621.2 268.3 621.3 269.9 621.3 271.5 621.3 273 621.3 274.6 621.3 276.2 621.3 277.7 621.2 279.3 621.2 280.9 621.1 282.4 620.9 284 620.7 285.6 620.5 287.1 620.3 288.7 620 290.3 619.7 291.9 619.4 293.4 619 295 618.7M378.2 619.1 379.8 619.7 381.3 620.3 382.9 620.8 384.5 621.4 386 621.9 387.6 622.4M50.8 619.2 52.4 618.8 54 618.4 55.6 618.1 57.1 617.9 58.7 617.7 60.3 617.5 61.8 617.3 63.4 617.2 65 617 66.5 616.9 68.1 616.7 69.7 616.6 71.3 616.5 72.8 616.3 74.4 616.2 76 616 77.5 615.9 79.1 615.8M240.8 615.9 242.4 616 243.9 616.2 245.5 616.3 247.1 616.5 248.6 616.6 250.2 616.7 251.8 616.9 253.3 617 254.9 617.1 256.5 617.3 258.1 617.4 259.6 617.5 261.2 617.7 262.8 617.8 264.3 617.9 265.9 618 267.5 618 269 618.1 270.6 618.2 272.2 618.2 273.8 618.2 275.3 618.2 276.9 618.2 278.5 618.2 280 618.1 281.6 618 283.2 617.9 284.7 617.8 286.3 617.6 287.9 617.4 289.4 617.2 291 616.9 292.6 616.6 294.2 616.3 295.7 615.9 297.3 615.5M380.5 616 382.1 616.6 383.6 617.2 385.2 617.7 386.8 618.3 388.3 618.8 389.9 619.3 391.5 619.8M53.1 616.1 54.7 615.7 56.3 615.3 57.9 615 59.4 614.8 61 614.5 62.6 614.3 64.1 614.2 65.7 614 67.3 613.9 68.8 613.7 70.4 613.6 72 613.4 73.6 613.3 75.1 613.2 76.7 613 78.3 612.9 79.8 612.7M244.7 612.9 246.2 613 247.8 613.2 249.4 613.3 250.9 613.5 252.5 613.6 254.1 613.7 255.6 613.9 257.2 614 258.8 614.1 260.4 614.3 261.9 614.4 263.5 614.5 265.1 614.6 266.6 614.7 268.2 614.8 269.8 614.9 271.3 615 272.9 615 274.5 615.1 276.1 615.1 277.6 615.1 279.2 615.1 280.8 615.1 282.3 615 283.9 614.9 285.5 614.8 287 614.7 288.6 614.5 290.2 614.3 291.7 614 293.3 613.8 294.9 613.5 296.5 613.1 298 612.7M382.8 612.9 384.4 613.5 385.9 614.1 387.5 614.6 389.1 615.2 390.6 615.7 392.2 616.3 393.8 616.8M53.9 613.5 55.4 613 57 612.6 58.6 612.2 60.2 611.9 61.7 611.6 63.3 611.4 64.9 611.2 66.4 611 68 610.9 69.6 610.7 71.1 610.6 72.7 610.4 74.3 610.3 75.9 610.1 77.4 610 79 609.9M250.1 610 251.7 610.2 253.2 610.3 254.8 610.5 256.4 610.6 257.9 610.7 259.5 610.9 261.1 611 262.7 611.1 264.2 611.3 265.8 611.4 267.4 611.5 268.9 611.6 270.5 611.7 272.1 611.8 273.6 611.9 275.2 611.9 276.8 611.9 278.4 612 279.9 612 281.5 612 283.1 611.9 284.6 611.9 286.2 611.8 287.8 611.7 289.3 611.5 290.9 611.3 292.5 611.1 294 610.9 295.6 610.6 297.2 610.3 298.8 609.9 300.3 609.6M386.7 610.3 388.2 610.9 389.8 611.5 391.4 612.1 392.9 612.6 394.5 613.2 396.1 613.7M56.2 610.4 57.7 609.9 59.3 609.4 60.9 609.1 62.5 608.8 64 608.5 65.6 608.3 67.2 608.1 68.7 607.9 70.3 607.7 71.9 607.6 73.4 607.4 75 607.3 76.6 607.1 78.2 607M255.5 607.2 257.1 607.3 258.7 607.4 260.2 607.6 261.8 607.7 263.4 607.8 265 608 266.5 608.1 268.1 608.2 269.7 608.4 271.2 608.5 272.8 608.6 274.4 608.6 275.9 608.7 277.5 608.8 279.1 608.8 280.7 608.8 282.2 608.8 283.8 608.8 285.4 608.8 286.9 608.7 288.5 608.6 290.1 608.5 291.6 608.4 293.2 608.2 294.8 608 296.3 607.7 297.9 607.4 299.5 607.1 301.1 606.8M389 607.2 390.5 607.8 392.1 608.4 393.7 609 395.2 609.5 396.8 610.1 398.4 610.6 400 611.1M58.5 607.2 60 606.7 61.6 606.3 63.2 605.9 64.8 605.6 66.3 605.4 67.9 605.1 69.5 604.9 71 604.7 72.6 604.5 74.2 604.4 75.7 604.2 77.3 604.1M259.4 604.1 261 604.3 262.5 604.4 264.1 604.5 265.7 604.7 267.3 604.8 268.8 605 270.4 605.1 272 605.2 273.5 605.3 275.1 605.4 276.7 605.5 278.2 605.6 279.8 605.6 281.4 605.6 283 605.7 284.5 605.7 286.1 605.6 287.7 605.6 289.2 605.5 290.8 605.5 292.4 605.3 293.9 605.2 295.5 605 297.1 604.8 298.6 604.5 300.2 604.2 301.8 603.9M392.8 604.6 394.4 605.2 396 605.8 397.5 606.4 399.1 606.9 400.7 607.5 402.3 608M59.2 604.7 60.8 604.1 62.3 603.6 63.9 603.2 65.5 602.8 67.1 602.5 68.6 602.2 70.2 601.9 71.8 601.7 73.3 601.5 74.9 601.4 76.5 601.2 78 601M264.8 601.2 266.4 601.4 268 601.5 269.6 601.6 271.1 601.8 272.7 601.9 274.3 602 275.8 602.1 277.4 602.2 279 602.3 280.5 602.4 282.1 602.4 283.7 602.5 285.3 602.5 286.8 602.5 288.4 602.5 290 602.4 291.5 602.4 293.1 602.3 294.7 602.1 296.2 602 297.8 601.8 299.4 601.6 300.9 601.3 302.5 601M395.1 601.5 396.7 602.1 398.3 602.7 399.8 603.3 401.4 603.8 403 604.3 404.6 604.8M61.5 601.6 63.1 601 64.6 600.5 66.2 600 67.8 599.6 69.4 599.3 70.9 599 72.5 598.8 74.1 598.5 75.6 598.3 77.2 598.2M270.3 598.3 271.9 598.5 273.4 598.6 275 598.7 276.6 598.8 278.1 599 279.7 599.1 281.3 599.1 282.8 599.2 284.4 599.3 286 599.3 287.6 599.3 289.1 599.3 290.7 599.3 292.3 599.2 293.8 599.2 295.4 599.1 297 599 298.5 598.8 300.1 598.6 301.7 598.4 303.2 598.1M397.4 598.3 399 598.9 400.6 599.5 402.1 600.1 403.7 600.7 405.3 601.2 406.9 601.7 408.4 602.2M63.8 598.4 65.4 597.8 66.9 597.3 68.5 596.8 70.1 596.5 71.7 596.1 73.2 595.8 74.8 595.6 76.4 595.3M275.7 595.4 277.3 595.5 278.9 595.6 280.4 595.8 282 595.9 283.6 595.9 285.1 596 286.7 596.1 288.3 596.1 289.9 596.1 291.4 596.1 293 596.1 294.6 596 296.1 596 297.7 595.9 299.3 595.7 300.8 595.6 302.4 595.4 304 595.2M401.3 595.8 402.9 596.4 404.4 597 406 597.5 407.6 598.1 409.2 598.6 410.7 599.1M64.5 596 66.1 595.3 67.7 594.7 69.2 594.1 70.8 593.7 72.4 593.3 74 592.9 75.5 592.6 77.1 592.3M281.2 592.4 282.7 592.5 284.3 592.6 285.9 592.7 287.4 592.8 289 592.9 290.6 592.9 292.2 592.9 293.7 592.9 295.3 592.9 296.9 592.8 298.4 592.7 300 592.6 301.6 592.5 303.1 592.3M403.6 592.6 405.2 593.2 406.7 593.8 408.3 594.4 409.9 594.9 411.5 595.4 413 595.9 414.6 596.4M66.8 592.8 68.4 592.1 70 591.5 71.5 590.9 73.1 590.5 74.7 590.1 76.3 589.7 77.8 589.4M288.2 589.5 289.7 589.6 291.3 589.6 292.9 589.7 294.5 589.7 296 589.7 297.6 589.6 299.2 589.6 300.7 589.5 302.3 589.4M407.5 590 409 590.6 410.6 591.2 412.2 591.7 413.8 592.3 415.3 592.8 416.9 593.2M69.1 589.6 70.7 588.9 72.3 588.3 73.8 587.7 75.4 587.3 77 586.8 78.6 586.5M409.8 586.8 411.3 587.4 412.9 588 414.5 588.6 416.1 589.1 417.6 589.6 419.2 590.1 420.8 590.5M69.9 587.2 71.4 586.5 73 585.7 74.6 585.1 76.1 584.5 77.7 584 79.3 583.6M413.6 584.2 415.2 584.8 416.8 585.4 418.4 585.9 419.9 586.4 421.5 586.9 423.1 587.3M72.2 584.1 73.7 583.3 75.3 582.5 76.9 581.9 78.4 581.3 80 580.8 81.6 580.4M415.9 581 417.5 581.6 419.1 582.2 420.7 582.7 422.2 583.2 423.8 583.7 425.4 584.1 426.9 584.6M74.5 580.9 76 580 77.6 579.3 79.2 578.6 80.7 578.1 82.3 577.5M419.8 578.3 421.4 578.9 423 579.5 424.5 580 426.1 580.5 427.7 580.9 429.2 581.4 430.8 581.7M76.8 577.6 78.3 576.8 79.9 576.1 81.5 575.4 83 574.8M422.1 575.1 423.7 575.7 425.3 576.2 426.8 576.8 428.4 577.3 430 577.7 431.5 578.2 433.1 578.5M77.5 575.3 79.1 574.4 80.6 573.6 82.2 572.8 83.8 572.1 85.3 571.5M426 572.4 427.6 573 429.1 573.5 430.7 574 432.3 574.5 433.8 574.9 435.4 575.3 437 575.7M79.8 572.1 81.4 571.2 82.9 570.3 84.5 569.5 86.1 568.8M428.3 569.1 429.9 569.7 431.4 570.3 433 570.8 434.6 571.3 436.1 571.7 437.7 572.1 439.3 572.5 440.8 572.8M82.1 568.8 83.7 567.9 85.2 567 86.8 566.2 88.4 565.5M432.2 566.4 433.7 567 435.3 567.5 436.9 568 438.4 568.4 440 568.9 441.6 569.2 443.1 569.6 444.7 569.9M82.8 566.6 84.4 565.6 86 564.6 87.5 563.7 89.1 562.9M436 563.7 437.6 564.2 439.2 564.7 440.7 565.2 442.3 565.6 443.9 566 445.4 566.3 447 566.7 448.6 567M85.1 563.3 86.7 562.3 88.3 561.3 89.8 560.4 91.4 559.6M438.3 560.4 439.9 560.9 441.5 561.4 443 561.9 444.6 562.3 446.2 562.7 447.7 563.1 449.3 563.4 450.9 563.8 452.4 564.1M87.4 560 89 559 90.6 558 92.1 557.1M442.2 557.6 443.8 558.1 445.3 558.6 446.9 559 448.5 559.4 450 559.8 451.6 560.1 453.2 560.5 454.7 560.8 456.3 561.2M88.2 557.8 89.7 556.7 91.3 555.6 92.9 554.6 94.4 553.7M446.1 554.7 447.6 555.2 449.2 555.7 450.8 556.1 452.3 556.5 453.9 556.9 455.5 557.2 457 557.5 458.6 557.9 460.2 558.2M90.5 554.5 92 553.4 93.6 552.3 95.2 551.3M449.9 551.9 451.5 552.3 453.1 552.8 454.6 553.2 456.2 553.5 457.8 553.9 459.3 554.2 460.9 554.6 462.5 554.9 464.1 555.2M92.8 551.1 94.3 550 95.9 548.9 97.5 547.9M453.8 549 455.4 549.4 456.9 549.8 458.5 550.2 460.1 550.6 461.6 550.9 463.2 551.3 464.8 551.6 466.4 552 467.9 552.3M95.1 547.8 96.6 546.6 98.2 545.5M457.7 546 459.2 546.4 460.8 546.8 462.4 547.2 463.9 547.6 465.5 547.9 467.1 548.3 468.7 548.6 470.2 549 471.8 549.3 473.4 549.6M97.4 544.4 98.9 543.2 100.5 542.1M461.5 543 463.1 543.4 464.7 543.8 466.2 544.2 467.8 544.6 469.4 545 471 545.3 472.5 545.7 474.1 546 475.7 546.3 477.2 546.6M99.7 541 101.2 539.8M465.4 540 467 540.4 468.5 540.8 470.1 541.2 471.7 541.6 473.3 542 474.8 542.3 476.4 542.7 478 543 479.5 543.3 481.1 543.6M102 537.5 103.5 536.3M469.3 537 470.8 537.4 472.4 537.8 474 538.2 475.6 538.6 477.1 538.9 478.7 539.3 480.3 539.6 481.8 540 483.4 540.3 485 540.6M104.3 534 105.8 532.8M474.7 534.4 476.3 534.8 477.9 535.2 479.4 535.5 481 535.9 482.6 536.3 484.1 536.6 485.7 536.9 487.3 537.3 488.8 537.6 490.4 537.9M478.6 531.3 480.2 531.7 481.7 532.1 483.3 532.5 484.9 532.9 486.4 533.2 488 533.6 489.6 533.9 491.1 534.2 492.7 534.6 494.3 534.9M482.5 528.3 484 528.7 485.6 529.1 487.2 529.5 488.7 529.8 490.3 530.2 491.9 530.5 493.4 530.9 495 531.2 496.6 531.5 498.2 531.9M487.9 525.6 489.5 526 491 526.4 492.6 526.8 494.2 527.1 495.7 527.5 497.3 527.8 498.9 528.2 500.5 528.5 502 528.9 503.6 529.2M491.8 522.5 493.3 522.9 494.9 523.3 496.5 523.7 498 524.1 499.6 524.4 501.2 524.8 502.8 525.2 504.3 525.5 505.9 525.9 507.5 526.3M495.6 519.4 497.2 519.8 498.8 520.2 500.3 520.6 501.9 521 503.5 521.4 505.1 521.8 506.6 522.1 508.2 522.5 509.8 522.9 511.3 523.3M501.1 516.7 502.6 517.1 504.2 517.5 505.8 517.9 507.4 518.3 508.9 518.7 510.5 519.1 512.1 519.5 513.6 519.9 515.2 520.3M504.9 513.6 506.5 514 508.1 514.5 509.7 514.9 511.2 515.3 512.8 515.7 514.4 516.1 515.9 516.6 517.5 517 519.1 517.4M510.4 511 512 511.4 513.5 511.8 515.1 512.3 516.7 512.7 518.2 513.2 519.8 513.6 521.4 514 522.9 514.4M514.3 507.9 515.8 508.3 517.4 508.8 519 509.3 520.5 509.7 522.1 510.2 523.7 510.6 525.2 511.1 526.8 511.5M519.7 505.3 521.3 505.8 522.8 506.3 524.4 506.8 526 507.2 527.5 507.7 529.1 508.1 530.7 508.5M523.6 502.3 525.1 502.8 526.7 503.3 528.3 503.8 529.8 504.3 531.4 504.7 533 505.1 534.6 505.5 536.1 505.9M527.4 499.3 529 499.8 530.6 500.3 532.1 500.8 533.7 501.3 535.3 501.7 536.9 502.1 538.4 502.5M531.3 496.3 532.9 496.8 534.4 497.3 536 497.8 537.6 498.3 539.2 498.7 540.7 499.1M535.2 493.3 536.7 493.8 538.3 494.4 539.9 494.8 541.5 495.3 543 495.7M539 490.3 540.6 490.8 542.2 491.3 543.8 491.8 545.3 492.2M542.9 487.3 544.5 487.8 546.1 488.3 547.6 488.8M548.4 484.8 549.9 485.3M552.2 481.7" stroke="#3979b0" stroke-width="1.5" fill="none" stroke-linejoin="round"/>
<path d="M80.1 624.4 81.6 624.3 83.2 624.1 84.8 624 86.3 623.8 87.9 623.7 89.5 623.5 91 623.4 92.6 623.2 94.2 623 95.8 622.9 97.3 622.7 98.9 622.5 100.5 622.4 102 622.2 103.6 622 105.2 621.7 106.7 621.5 108.3 621.3 109.9 621.1 111.4 620.8M197.8 620.9 199.4 621.1 200.9 621.3 202.5 621.5 204.1 621.7 205.6 621.9 207.2 622.1 208.8 622.3 210.3 622.5 211.9 622.7 213.5 622.9 215.1 623.1 216.6 623.3 218.2 623.5 219.8 623.7 221.3 623.9 222.9 624.1 224.5 624.2 226 624.4 227.6 624.6M292 624.5 293.5 624.1 295.1 623.6 296.7 623.1 298.2 622.6 299.8 622.1 301.4 621.6 303 621.1 304.5 620.5M364.2 621.5 365.7 622.2 367.3 622.9 368.9 623.5 370.5 624.1 372 624.7M79.2 621.6 80.8 621.4 82.4 621.3 83.9 621.1 85.5 621 87.1 620.8 88.6 620.7 90.2 620.5 91.8 620.4 93.3 620.2 94.9 620.1 96.5 619.9 98.1 619.7 99.6 619.6 101.2 619.4 102.8 619.2 104.3 619 105.9 618.8 107.5 618.6 109 618.4 110.6 618.1 112.2 617.9M203.2 618.1 204.8 618.3 206.4 618.5 207.9 618.7 209.5 618.9 211.1 619.1 212.6 619.3 214.2 619.5 215.8 619.7 217.4 619.9 218.9 620.1 220.5 620.3 222.1 620.5 223.6 620.7 225.2 620.9 226.8 621.1 228.3 621.3 229.9 621.5 231.5 621.6M294.3 621.4 295.8 620.9 297.4 620.5 299 620 300.5 619.5 302.1 619 303.7 618.4 305.3 617.9M366.5 618.3 368 619.1 369.6 619.7 371.2 620.4 372.8 621 374.3 621.6M79.9 618.6 81.5 618.4 83.1 618.3 84.7 618.1 86.2 618 87.8 617.8 89.4 617.7 90.9 617.5 92.5 617.4 94.1 617.2 95.6 617 97.2 616.9 98.8 616.7 100.4 616.6 101.9 616.4 103.5 616.2 105.1 616 106.6 615.8 108.2 615.6 109.8 615.4 111.3 615.2 112.9 615M207.1 615.2 208.7 615.4 210.2 615.6 211.8 615.8 213.4 616 214.9 616.2 216.5 616.4 218.1 616.6 219.7 616.8 221.2 617 222.8 617.2 224.4 617.4 225.9 617.6 227.5 617.8 229.1 618 230.6 618.2 232.2 618.3 233.8 618.5 235.3 618.7 236.9 618.8M295 618.7 296.6 618.2 298.1 617.8 299.7 617.3 301.3 616.8 302.8 616.3 304.4 615.8 306 615.3 307.6 614.7M368.8 615.2 370.3 615.9 371.9 616.6 373.5 617.3 375.1 617.9 376.6 618.5 378.2 619.1M79.1 615.8 80.7 615.6 82.2 615.5 83.8 615.3 85.4 615.1 87 615 88.5 614.8 90.1 614.6 91.7 614.5 93.2 614.3 94.8 614.2 96.4 614 97.9 613.9 99.5 613.7 101.1 613.6 102.7 613.4 104.2 613.2 105.8 613 107.4 612.8 108.9 612.6 110.5 612.4 112.1 612.2 113.6 612M211 612.2 212.5 612.4 214.1 612.6 215.7 612.8 217.2 613 218.8 613.2 220.4 613.4 222 613.6 223.5 613.8 225.1 614 226.7 614.2 228.2 614.4 229.8 614.6 231.4 614.8 232.9 615 234.5 615.2 236.1 615.4 237.6 615.5 239.2 615.7 240.8 615.9M297.3 615.5 298.9 615.1 300.4 614.6 302 614.2 303.6 613.7 305.1 613.1 306.7 612.6 308.3 612.1M372.6 612.7 374.2 613.5 375.8 614.1 377.4 614.8 378.9 615.4 380.5 616M79.8 612.7 81.4 612.6 83 612.4 84.5 612.3 86.1 612.1 87.7 612 89.3 611.8 90.8 611.6 92.4 611.5 94 611.3 95.5 611.2 97.1 611 98.7 610.8 100.2 610.7 101.8 610.5 103.4 610.4 105 610.2 106.5 610 108.1 609.8 109.7 609.6 111.2 609.4 112.8 609.2 114.4 609M216.4 609.4 218 609.6 219.5 609.8 221.1 610 222.7 610.2 224.3 610.4 225.8 610.6 227.4 610.8 229 611 230.5 611.3 232.1 611.5 233.7 611.6 235.2 611.8 236.8 612 238.4 612.2 239.9 612.4 241.5 612.5 243.1 612.7 244.7 612.9M298 612.7 299.6 612.3 301.2 611.9 302.7 611.5 304.3 611 305.9 610.5 307.4 609.9 309 609.4 310.6 608.8M374.9 609.6 376.5 610.3 378.1 611 379.7 611.6 381.2 612.3 382.8 612.9M79 609.9 80.6 609.7 82.1 609.6 83.7 609.4 85.3 609.3 86.8 609.1 88.4 608.9 90 608.8 91.6 608.6 93.1 608.4 94.7 608.3 96.3 608.1 97.8 608 99.4 607.8 101 607.6 102.5 607.5 104.1 607.3 105.7 607.2 107.3 607 108.8 606.8 110.4 606.6 112 606.4 113.5 606.2M220.3 606.4 221.8 606.6 223.4 606.8 225 607 226.6 607.2 228.1 607.4 229.7 607.6 231.3 607.9 232.8 608.1 234.4 608.3 236 608.5 237.5 608.7 239.1 608.8 240.7 609 242.2 609.2 243.8 609.4 245.4 609.6 247 609.7 248.5 609.9 250.1 610M300.3 609.6 301.9 609.2 303.5 608.7 305 608.3 306.6 607.8 308.2 607.3 309.7 606.7 311.3 606.2M377.2 606.4 378.8 607.1 380.4 607.8 382 608.5 383.5 609.1 385.1 609.7 386.7 610.3M78.2 607 79.7 606.8 81.3 606.7 82.9 606.5 84.4 606.4 86 606.2 87.6 606.1 89.1 605.9 90.7 605.7 92.3 605.6 93.9 605.4 95.4 605.2 97 605.1 98.6 604.9 100.1 604.7 101.7 604.6 103.3 604.4 104.8 604.3 106.4 604.1 108 603.9 109.6 603.8 111.1 603.6 112.7 603.4 114.3 603.2M225.7 603.6 227.3 603.8 228.9 604 230.4 604.2 232 604.4 233.6 604.7 235.1 604.9 236.7 605.1 238.3 605.3 239.8 605.5 241.4 605.7 243 605.8 244.5 606 246.1 606.2 247.7 606.4 249.3 606.5 250.8 606.7 252.4 606.9 254 607 255.5 607.2M301.1 606.8 302.6 606.4 304.2 606 305.8 605.5 307.3 605.1 308.9 604.6 310.5 604.1 312 603.5 313.6 603M381.1 603.9 382.7 604.6 384.3 605.3 385.8 605.9 387.4 606.6 389 607.2M77.3 604.1 78.9 603.9 80.5 603.8 82 603.6 83.6 603.5 85.2 603.3 86.7 603.2 88.3 603 89.9 602.9 91.4 602.7 93 602.5 94.6 602.4 96.2 602.2 97.7 602 99.3 601.8 100.9 601.7 102.4 601.5 104 601.3 105.6 601.2 107.1 601 108.7 600.9 110.3 600.7 111.9 600.5 113.4 600.3M229.6 600.6 231.2 600.8 232.7 601 234.3 601.2 235.9 601.4 237.4 601.6 239 601.9 240.6 602.1 242.1 602.3 243.7 602.5 245.3 602.6 246.8 602.8 248.4 603 250 603.2 251.6 603.4 253.1 603.5 254.7 603.7 256.3 603.8 257.8 604 259.4 604.1M301.8 603.9 303.4 603.6 304.9 603.2 306.5 602.8 308.1 602.3 309.6 601.8 311.2 601.3 312.8 600.8 314.3 600.3M383.4 600.7 385 601.4 386.6 602.1 388.1 602.8 389.7 603.4 391.3 604 392.8 604.6M78 601 79.6 600.9 81.2 600.7 82.8 600.6 84.3 600.4 85.9 600.3 87.5 600.1 89 600 90.6 599.8 92.2 599.6 93.7 599.5 95.3 599.3 96.9 599.1 98.5 598.9 100 598.8 101.6 598.6 103.2 598.4 104.7 598.3 106.3 598.1 107.9 597.9 109.4 597.8 111 597.6 112.6 597.4M235 597.7 236.6 598 238.2 598.2 239.7 598.4 241.3 598.6 242.9 598.8 244.4 599 246 599.2 247.6 599.4 249.1 599.6 250.7 599.8 252.3 600 253.9 600.2 255.4 600.3 257 600.5 258.6 600.6 260.1 600.8 261.7 600.9 263.3 601.1 264.8 601.2M302.5 601 304.1 600.7 305.7 600.4 307.2 600 308.8 599.5 310.4 599.1 311.9 598.6 313.5 598.1 315.1 597.6 316.6 597M387.3 598.2 388.9 598.9 390.4 599.6 392 600.2 393.6 600.9 395.1 601.5M77.2 598.2 78.8 598 80.3 597.8 81.9 597.7 83.5 597.5 85.1 597.3 86.6 597.2 88.2 597 89.8 596.9 91.3 596.7 92.9 596.6 94.5 596.4 96 596.2 97.6 596.1 99.2 595.9 100.8 595.7 102.3 595.5 103.9 595.3 105.5 595.2 107 595 108.6 594.8 110.2 594.7 111.7 594.5M238.9 594.7 240.5 594.9 242 595.2 243.6 595.4 245.2 595.6 246.7 595.8 248.3 596 249.9 596.2 251.4 596.4 253 596.6 254.6 596.8 256.2 596.9 257.7 597.1 259.3 597.3 260.9 597.4 262.4 597.6 264 597.7 265.6 597.9 267.1 598 268.7 598.2 270.3 598.3M303.2 598.1 304.8 597.8 306.4 597.5 308 597.1 309.5 596.7 311.1 596.3 312.7 595.8 314.2 595.4 315.8 594.8 317.4 594.3M389.6 595 391.2 595.7 392.7 596.4 394.3 597 395.9 597.7 397.4 598.3M76.4 595.3 77.9 595.1 79.5 594.9 81.1 594.8 82.6 594.6 84.2 594.4 85.8 594.3 87.4 594.1 88.9 594 90.5 593.8 92.1 593.6 93.6 593.5 95.2 593.3 96.8 593.1 98.3 593 99.9 592.8 101.5 592.6 103.1 592.4 104.6 592.2 106.2 592.1 107.8 591.9 109.3 591.7 110.9 591.5M244.3 591.9 245.9 592.1 247.5 592.3 249 592.5 250.6 592.7 252.2 593 253.7 593.1 255.3 593.3 256.9 593.5 258.5 593.7 260 593.9 261.6 594.1 263.2 594.2 264.7 594.4 266.3 594.5 267.9 594.7 269.4 594.8 271 595 272.6 595.1 274.2 595.3 275.7 595.4M304 595.2 305.5 594.9 307.1 594.6 308.7 594.3 310.3 593.9 311.8 593.5 313.4 593 315 592.6 316.5 592.1 318.1 591.6M391.9 591.8 393.5 592.5 395 593.2 396.6 593.8 398.2 594.5 399.7 595.1 401.3 595.8M77.1 592.3 78.7 592.1 80.2 591.9 81.8 591.7 83.4 591.5 84.9 591.3 86.5 591.2 88.1 591 89.7 590.9 91.2 590.7 92.8 590.5 94.4 590.4 95.9 590.2 97.5 590 99.1 589.9 100.6 589.7 102.2 589.5 103.8 589.3 105.4 589.1 106.9 588.9 108.5 588.8M248.2 588.8 249.8 589 251.3 589.3 252.9 589.5 254.5 589.7 256 589.9 257.6 590.1 259.2 590.3 260.8 590.5 262.3 590.6 263.9 590.8 265.5 591 267 591.1 268.6 591.3 270.2 591.4 271.7 591.6 273.3 591.7 274.9 591.9 276.5 592 278 592.2 279.6 592.3 281.2 592.4M303.1 592.3 304.7 592.2 306.3 591.9 307.8 591.7 309.4 591.3 311 591 312.6 590.6 314.1 590.2 315.7 589.8 317.3 589.3 318.8 588.8 320.4 588.3M395.8 589.2 397.3 589.9 398.9 590.6 400.5 591.3 402 591.9 403.6 592.6M77.8 589.4 79.4 589.1 81 588.9 82.5 588.7 84.1 588.5 85.7 588.3 87.2 588.1 88.8 587.9 90.4 587.7 92 587.6 93.5 587.4 95.1 587.3 96.7 587.1 98.2 586.9 99.8 586.8 101.4 586.6 102.9 586.4 104.5 586.2 106.1 586 107.7 585.8M253.6 586 255.2 586.2 256.8 586.4 258.3 586.6 259.9 586.8 261.5 587 263.1 587.2 264.6 587.4 266.2 587.6 267.8 587.7 269.3 587.9 270.9 588 272.5 588.2 274 588.4 275.6 588.5 277.2 588.6 278.8 588.8 280.3 588.9 281.9 589.1 283.5 589.2 285 589.3 286.6 589.4 288.2 589.5M302.3 589.4 303.9 589.3 305.4 589.1 307 588.9 308.6 588.7 310.1 588.4 311.7 588.1 313.3 587.7 314.9 587.3 316.4 586.9 318 586.5 319.6 586 321.1 585.5M398.1 586 399.6 586.7 401.2 587.4 402.8 588 404.3 588.7 405.9 589.4 407.5 590M78.6 586.5 80.1 586.2 81.7 585.9 83.3 585.6 84.8 585.4 86.4 585.2 88 585 89.5 584.8 91.1 584.6 92.7 584.5 94.3 584.3 95.8 584.1 97.4 584 99 583.8 100.5 583.6 102.1 583.4 103.7 583.3 105.2 583.1 106.8 582.9M259.1 583.1 260.6 583.3 262.2 583.5 263.8 583.7 265.4 583.9 266.9 584.1 268.5 584.3 270.1 584.4 271.6 584.6 273.2 584.8 274.8 584.9 276.3 585.1 277.9 585.2 279.5 585.4 281.1 585.5 282.6 585.7 284.2 585.8 285.8 586 287.3 586.1 288.9 586.2 290.5 586.3 292 586.3 293.6 586.4 295.2 586.4 296.8 586.4 298.3 586.4 299.9 586.4 301.5 586.3 303 586.3 304.6 586.1 306.2 586 307.7 585.8 309.3 585.6 310.9 585.4 312.4 585.1 314 584.8 315.6 584.4 317.2 584.1 318.7 583.6 320.3 583.2 321.9 582.7M401.9 583.4 403.5 584.1 405.1 584.8 406.6 585.5 408.2 586.1 409.8 586.8M79.3 583.6 80.9 583.2 82.4 582.9 84 582.6 85.6 582.4 87.1 582.1 88.7 581.9 90.3 581.7 91.8 581.5 93.4 581.3 95 581.1 96.6 581 98.1 580.8 99.7 580.6 101.3 580.5 102.8 580.3 104.4 580.1 106 579.9M264.5 580.2 266.1 580.4 267.7 580.6 269.2 580.8 270.8 581 272.4 581.2 273.9 581.3 275.5 581.5 277.1 581.7 278.6 581.8 280.2 582 281.8 582.1 283.4 582.3 284.9 582.4 286.5 582.6 288.1 582.7 289.6 582.8 291.2 582.9 292.8 583 294.3 583.1 295.9 583.1 297.5 583.1 299.1 583.2 300.6 583.2 302.2 583.1 303.8 583.1 305.3 583 306.9 582.9 308.5 582.7 310 582.5 311.6 582.3 313.2 582.1 314.7 581.8 316.3 581.5 317.9 581.1 319.5 580.7 321 580.3 322.6 579.8M404.2 580.1 405.8 580.8 407.4 581.5 408.9 582.2 410.5 582.9 412.1 583.6 413.6 584.2M81.6 580.4 83.2 580 84.7 579.6 86.3 579.3 87.9 579.1 89.4 578.8 91 578.6 92.6 578.4 94.1 578.2 95.7 578 97.3 577.8 98.9 577.6 100.4 577.5 102 577.3 103.6 577.1 105.1 576.9M270 577.3 271.5 577.5 273.1 577.7 274.7 577.8 276.2 578 277.8 578.2 279.4 578.3 280.9 578.5 282.5 578.7 284.1 578.8 285.7 579 287.2 579.1 288.8 579.3 290.4 579.4 291.9 579.5 293.5 579.6 295.1 579.7 296.6 579.8 298.2 579.8 299.8 579.9 301.4 579.9 302.9 579.9 304.5 579.8 306.1 579.8 307.6 579.7 309.2 579.6 310.8 579.4 312.3 579.2 313.9 579 315.5 578.8 317 578.5 318.6 578.2 320.2 577.8 321.8 577.4 323.3 576.9M408.1 577.5 409.7 578.3 411.2 579 412.8 579.6 414.4 580.3 415.9 581M82.3 577.5 83.9 577.1 85.5 576.7 87 576.3 88.6 576 90.2 575.7 91.7 575.5 93.3 575.3 94.9 575.1 96.4 574.8 98 574.7 99.6 574.5 101.2 574.3 102.7 574.1M275.4 574.3 277 574.5 278.5 574.7 280.1 574.9 281.7 575 283.2 575.2 284.8 575.4 286.4 575.5 288 575.7 289.5 575.8 291.1 576 292.7 576.1 294.2 576.2 295.8 576.3 297.4 576.4 298.9 576.5 300.5 576.5 302.1 576.6 303.7 576.6 305.2 576.6 306.8 576.5 308.4 576.5 309.9 576.4 311.5 576.3 313.1 576.1 314.6 575.9 316.2 575.7 317.8 575.4 319.3 575.1 320.9 574.8 322.5 574.4 324.1 574M410.4 574.2 412 575 413.5 575.7 415.1 576.4 416.7 577.1 418.2 577.7 419.8 578.3M83 574.8 84.6 574.3 86.2 573.8 87.8 573.4 89.3 573 90.9 572.7 92.5 572.4 94 572.2 95.6 571.9 97.2 571.7 98.7 571.5 100.3 571.3 101.9 571.1M280.8 571.3 282.4 571.5 284 571.7 285.5 571.8 287.1 572 288.7 572.2 290.3 572.3 291.8 572.5 293.4 572.6 295 572.8 296.5 572.9 298.1 573 299.7 573.1 301.2 573.2 302.8 573.2 304.4 573.2 306 573.2 307.5 573.2 309.1 573.2 310.7 573.1 312.2 573 313.8 572.9 315.4 572.8 316.9 572.6 318.5 572.3 320.1 572.1 321.6 571.8 323.2 571.4 324.8 571.1M414.3 571.6 415.8 572.4 417.4 573.1 419 573.8 420.5 574.4 422.1 575.1M85.3 571.5 86.9 571 88.5 570.5 90.1 570.1 91.6 569.7 93.2 569.4 94.8 569.1 96.3 568.8 97.9 568.5 99.5 568.3M287.8 568.5 289.4 568.7 291 568.8 292.6 569 294.1 569.1 295.7 569.3 297.3 569.4 298.8 569.5 300.4 569.6 302 569.7 303.5 569.8 305.1 569.9 306.7 569.9 308.3 569.9 309.8 569.9 311.4 569.8 313 569.8 314.5 569.7 316.1 569.5 317.7 569.4 319.2 569.2 320.8 569 322.4 568.7 323.9 568.4 325.5 568M418.1 569 419.7 569.8 421.3 570.5 422.8 571.2 424.4 571.8 426 572.4M86.1 568.8 87.6 568.2 89.2 567.6 90.8 567.2 92.4 566.7 93.9 566.3 95.5 566 97.1 565.7 98.6 565.4M293.3 565.4 294.9 565.6 296.4 565.8 298 565.9 299.6 566 301.1 566.2 302.7 566.3 304.3 566.4 305.8 566.4 307.4 566.5 309 566.5 310.6 566.5 312.1 566.5 313.7 566.5 315.3 566.4 316.8 566.3 318.4 566.2 320 566 321.5 565.8 323.1 565.6 324.7 565.3M420.4 565.7 422 566.4 423.6 567.2 425.1 567.8 426.7 568.5 428.3 569.1M88.4 565.5 89.9 564.9 91.5 564.3 93.1 563.8 94.7 563.3 96.2 563 97.8 562.6 99.4 562.3M300.3 562.5 301.9 562.6 303.4 562.8 305 562.9 306.6 563 308.1 563 309.7 563.1 311.3 563.1 312.9 563.1 314.4 563.1 316 563.1 317.6 563 319.1 562.9 320.7 562.7 322.3 562.6 323.8 562.4M424.3 563.1 425.9 563.8 427.4 564.5 429 565.2 430.6 565.8 432.2 566.4M89.1 562.9 90.7 562.2 92.2 561.5 93.8 560.9 95.4 560.4 97 560 98.5 559.5M310.4 559.6 312 559.7 313.6 559.7 315.2 559.7 316.7 559.7 318.3 559.6 319.9 559.6M426.6 559.7 428.2 560.4 429.7 561.2 431.3 561.9 432.9 562.5 434.5 563.1 436 563.7M91.4 559.6 93 558.8 94.5 558.2 96.1 557.6 97.7 557 99.3 556.5M430.5 557.1 432 557.8 433.6 558.5 435.2 559.2 436.8 559.8 438.3 560.4M92.1 557.1 93.7 556.2 95.3 555.5 96.8 554.8 98.4 554.1 100 553.6M434.3 554.4 435.9 555.1 437.5 555.8 439.1 556.4 440.6 557 442.2 557.6M94.4 553.7 96 552.8 97.6 552.1 99.1 551.3 100.7 550.7M436.6 551 438.2 551.7 439.8 552.4 441.4 553 442.9 553.7 444.5 554.2 446.1 554.7M95.2 551.3 96.7 550.3 98.3 549.4 99.9 548.6 101.4 547.9M440.5 548.3 442.1 549 443.7 549.6 445.2 550.3 446.8 550.8 448.4 551.4 449.9 551.9M97.5 547.9 99 546.9 100.6 546 102.2 545.2 103.7 544.4M444.4 545.5 446 546.2 447.5 546.8 449.1 547.4 450.7 548 452.2 548.5 453.8 549M98.2 545.5 99.8 544.4 101.3 543.5 102.9 542.5 104.5 541.7M446.7 542.1 448.3 542.8 449.8 543.4 451.4 544 453 544.6 454.5 545.1 456.1 545.6 457.7 546M100.5 542.1 102.1 541 103.6 540 105.2 539M450.6 539.3 452.1 539.9 453.7 540.5 455.3 541.1 456.8 541.6 458.4 542.1 460 542.6 461.5 543M101.2 539.8 102.8 538.6 104.4 537.5 105.9 536.5 107.5 535.5M454.4 536.4 456 537.1 457.6 537.6 459.1 538.2 460.7 538.7 462.3 539.2 463.8 539.6 465.4 540M103.5 536.3 105.1 535.1 106.7 534 108.2 532.9M458.3 533.5 459.9 534.1 461.4 534.7 463 535.2 464.6 535.7 466.1 536.2 467.7 536.6 469.3 537M105.8 532.8 107.4 531.6 109 530.5 110.5 529.4M462.2 530.6 463.7 531.2 465.3 531.7 466.9 532.2 468.4 532.7 470 533.1 471.6 533.5 473.1 534 474.7 534.4M106.6 530.5 108.1 529.3 109.7 528.1 111.3 526.9M466 527.6 467.6 528.2 469.2 528.7 470.7 529.2 472.3 529.6 473.9 530.1 475.4 530.5 477 530.9 478.6 531.3M108.9 527 110.4 525.7 112 524.5M469.9 524.6 471.5 525.1 473 525.6 474.6 526.1 476.2 526.5 477.7 527 479.3 527.4 480.9 527.9 482.5 528.3M111.2 523.4 112.7 522.1 114.3 520.9M475.3 522 476.9 522.5 478.5 523 480 523.5 481.6 523.9 483.2 524.4 484.8 524.8 486.3 525.2 487.9 525.6M113.5 519.8 115 518.5M479.2 518.9 480.8 519.4 482.3 519.9 483.9 520.4 485.5 520.8 487.1 521.3 488.6 521.7 490.2 522.1 491.8 522.5M115.8 516.2 117.3 514.8M483.1 515.8 484.6 516.3 486.2 516.8 487.8 517.3 489.4 517.7 490.9 518.2 492.5 518.6 494.1 519 495.6 519.4M488.5 513.2 490.1 513.6 491.7 514.1 493.2 514.6 494.8 515 496.4 515.5 497.9 515.9 499.5 516.3 501.1 516.7M492.4 510 494 510.5 495.5 511 497.1 511.5 498.7 511.9 500.2 512.4 501.8 512.8 503.4 513.2 504.9 513.6M497.8 507.3 499.4 507.8 501 508.3 502.5 508.8 504.1 509.2 505.7 509.7 507.2 510.1 508.8 510.5 510.4 511M501.7 504.2 503.3 504.6 504.8 505.1 506.4 505.6 508 506.1 509.5 506.5 511.1 507 512.7 507.4 514.3 507.9M507.1 501.5 508.7 501.9 510.3 502.4 511.8 502.9 513.4 503.4 515 503.9 516.6 504.3 518.1 504.8 519.7 505.3M511 498.3 512.6 498.8 514.1 499.3 515.7 499.8 517.3 500.2 518.9 500.7 520.4 501.3 522 501.8 523.6 502.3M516.4 495.6 518 496.1 519.6 496.6 521.2 497.1 522.7 497.7 524.3 498.2 525.9 498.7 527.4 499.3M521.9 492.9 523.5 493.5 525 494 526.6 494.6 528.2 495.2 529.7 495.7 531.3 496.3M525.8 489.8 527.3 490.4 528.9 491 530.5 491.6 532 492.2 533.6 492.7 535.2 493.3M529.6 486.7 531.2 487.3 532.8 487.9 534.3 488.5 535.9 489.2 537.5 489.7 539 490.3M535.1 484.2 536.6 484.9 538.2 485.5 539.8 486.2 541.3 486.7 542.9 487.3M538.9 481.2 540.5 481.9 542.1 482.5 543.6 483.1 545.2 483.7 546.8 484.3 548.4 484.8M542.8 478.2 544.4 478.8 545.9 479.5 547.5 480.1 549.1 480.7 550.7 481.2 552.2 481.7M546.7 475.1 548.2 475.8 549.8 476.5 551.4 477.1 553 477.6 554.5 478.1M550.5 472.1 552.1 472.8 553.7 473.4 555.3 474 556.8 474.5M554.4 469.1 556 469.7 557.6 470.3 559.1 470.9M559.9 466.6 561.4 467.2M563.7 463.5" stroke="#3d75ab" stroke-width="1.5" fill="none" stroke-linejoin="round"/>
<path d="M111.4 620.8 113 620.6 114.6 620.4 116.2 620.1 117.7 619.9 119.3 619.7 120.9 619.5 122.4 619.3 124 619.1 125.6 619 127.1 618.8 128.7 618.6 130.3 618.4 131.9 618.3 133.4 618.1 135 617.9 136.6 617.8 138.1 617.6 139.7 617.5 141.3 617.4 142.8 617.3 144.4 617.2M160.1 617.3 161.7 617.4 163.2 617.5 164.8 617.6 166.4 617.8 168 617.9 169.5 618 171.1 618.1 172.7 618.3 174.2 618.4 175.8 618.5 177.4 618.7 178.9 618.8 180.5 618.9 182.1 619.1 183.7 619.2 185.2 619.4 186.8 619.6 188.4 619.8 189.9 619.9 191.5 620.1 193.1 620.3 194.6 620.5 196.2 620.7 197.8 620.9M304.5 620.5 306.1 619.9 307.7 619.3 309.2 618.6 310.8 618 312.4 617.3 313.9 616.6M356.3 617.5 357.9 618.3 359.5 619.2 361 620 362.6 620.7 364.2 621.5M112.2 617.9 113.7 617.7 115.3 617.4 116.9 617.2 118.5 616.9 120 616.7 121.6 616.5 123.2 616.3 124.7 616.1 126.3 615.9 127.9 615.7 129.4 615.6 131 615.4 132.6 615.2 134.2 615 135.7 614.9 137.3 614.7 138.9 614.5 140.4 614.4 142 614.3M167.1 614.4 168.7 614.5 170.3 614.6 171.8 614.8 173.4 614.9 175 615 176.5 615.2 178.1 615.3 179.7 615.4 181.2 615.6 182.8 615.7 184.4 615.9 186 616 187.5 616.2 189.1 616.4 190.7 616.6 192.2 616.7 193.8 616.9 195.4 617.1 196.9 617.3 198.5 617.5 200.1 617.7 201.7 617.9 203.2 618.1M305.3 617.9 306.8 617.3 308.4 616.7 310 616.1 311.5 615.4 313.1 614.8 314.7 614.1M360.2 615.1 361.8 616 363.3 616.8 364.9 617.6 366.5 618.3M112.9 615 114.5 614.7 116 614.5 117.6 614.2 119.2 614 120.8 613.7 122.3 613.5 123.9 613.3 125.5 613.1 127 612.9 128.6 612.7 130.2 612.5 131.7 612.3 133.3 612.1 134.9 612 136.5 611.8 138 611.6 139.6 611.5 141.2 611.3M174.1 611.5 175.7 611.7 177.3 611.8 178.8 611.9 180.4 612.1 182 612.2 183.5 612.3 185.1 612.5 186.7 612.6 188.3 612.8 189.8 613 191.4 613.2 193 613.3 194.5 613.5 196.1 613.7 197.7 613.9 199.2 614.1 200.8 614.3 202.4 614.5 204 614.7 205.5 615 207.1 615.2M307.6 614.7 309.1 614.1 310.7 613.5 312.3 612.9 313.8 612.2 315.4 611.5 317 610.8M362.5 611.9 364.1 612.8 365.6 613.6 367.2 614.4 368.8 615.2M113.6 612 115.2 611.8 116.8 611.5 118.3 611.3 119.9 611 121.5 610.8 123.1 610.5 124.6 610.3 126.2 610.1 127.8 609.9 129.3 609.7 130.9 609.5 132.5 609.3 134 609.1 135.6 608.9 137.2 608.7 138.8 608.5 140.3 608.4M179.6 608.5 181.1 608.7 182.7 608.8 184.3 608.9 185.8 609.1 187.4 609.2 189 609.4 190.6 609.6 192.1 609.7 193.7 609.9 195.3 610.1 196.8 610.3 198.4 610.5 200 610.7 201.5 610.9 203.1 611.1 204.7 611.3 206.3 611.5 207.8 611.7 209.4 612 211 612.2M308.3 612.1 309.9 611.5 311.4 610.9 313 610.3 314.6 609.6 316.1 609 317.7 608.3M364.8 608.7 366.4 609.6 367.9 610.4 369.5 611.2 371.1 612 372.6 612.7M114.4 609 115.9 608.8 117.5 608.5 119.1 608.3 120.6 608 122.2 607.8 123.8 607.5 125.4 607.3 126.9 607.1 128.5 606.8 130.1 606.6 131.6 606.4 133.2 606.2 134.8 606 136.3 605.8 137.9 605.6 139.5 605.4M186.6 605.7 188.1 605.8 189.7 606 191.3 606.1 192.9 606.3 194.4 606.5 196 606.7 197.6 606.9 199.1 607.1 200.7 607.3 202.3 607.5 203.8 607.7 205.4 607.9 207 608.1 208.6 608.3 210.1 608.5 211.7 608.7 213.3 608.9 214.8 609.2 216.4 609.4M310.6 608.8 312.2 608.3 313.7 607.7 315.3 607 316.9 606.4 318.4 605.7 320 605M368.7 606.4 370.2 607.2 371.8 608 373.4 608.8 374.9 609.6M113.5 606.2 115.1 606 116.7 605.8 118.2 605.6 119.8 605.3 121.4 605.1 122.9 604.8 124.5 604.5 126.1 604.3 127.7 604 129.2 603.8 130.8 603.6 132.4 603.4 133.9 603.1 135.5 602.9 137.1 602.7 138.6 602.5M192 602.7 193.6 602.8 195.2 603 196.7 603.2 198.3 603.4 199.9 603.6 201.4 603.8 203 604 204.6 604.2 206.1 604.4 207.7 604.6 209.3 604.9 210.9 605.1 212.4 605.3 214 605.5 215.6 605.7 217.1 605.9 218.7 606.1 220.3 606.4M311.3 606.2 312.9 605.6 314.5 605 316 604.4 317.6 603.8 319.2 603.1 320.7 602.4M371 603.1 372.5 604 374.1 604.8 375.7 605.6 377.2 606.4M114.3 603.2 115.8 603 117.4 602.8 119 602.6 120.5 602.3 122.1 602.1 123.7 601.8 125.2 601.6 126.8 601.3 128.4 601 130 600.8 131.5 600.5 133.1 600.3 134.7 600.1 136.2 599.9 137.8 599.6M199 599.9 200.6 600.1 202.2 600.3 203.7 600.5 205.3 600.7 206.9 600.9 208.4 601.1 210 601.4 211.6 601.6 213.2 601.8 214.7 602 216.3 602.3 217.9 602.5 219.4 602.7 221 602.9 222.6 603.1 224.1 603.3 225.7 603.6M313.6 603 315.2 602.4 316.8 601.8 318.3 601.2 319.9 600.5 321.5 599.8 323 599.1M373.3 599.9 374.8 600.8 376.4 601.6 378 602.4 379.5 603.2 381.1 603.9M113.4 600.3 115 600.2 116.6 600 118.1 599.7 119.7 599.5 121.3 599.3 122.8 599.1 124.4 598.8 126 598.6 127.5 598.3 129.1 598 130.7 597.8 132.3 597.5 133.8 597.2 135.4 597 137 596.8M204.5 597 206 597.2 207.6 597.4 209.2 597.6 210.7 597.9 212.3 598.1 213.9 598.3 215.5 598.5 217 598.8 218.6 599 220.2 599.2 221.7 599.4 223.3 599.7 224.9 599.9 226.4 600.1 228 600.3 229.6 600.6M314.3 600.3 315.9 599.7 317.5 599.1 319.1 598.5 320.6 597.9 322.2 597.2 323.8 596.5M377.1 597.5 378.7 598.4 380.3 599.2 381.8 600 383.4 600.7M112.6 597.4 114.2 597.3 115.7 597.1 117.3 596.9 118.9 596.7 120.4 596.5 122 596.3 123.6 596 125.1 595.8 126.7 595.5 128.3 595.3 129.8 595 131.4 594.7 133 594.5 134.6 594.2 136.1 593.9 137.7 593.7M209.9 594.1 211.5 594.3 213 594.5 214.6 594.8 216.2 595 217.8 595.2 219.3 595.5 220.9 595.7 222.5 595.9 224 596.2 225.6 596.4 227.2 596.6 228.7 596.8 230.3 597.1 231.9 597.3 233.5 597.5 235 597.7M316.6 597 318.2 596.4 319.8 595.8 321.4 595.2 322.9 594.6 324.5 593.9 326.1 593.2M379.4 594.2 381 595.1 382.6 595.9 384.1 596.7 385.7 597.5 387.3 598.2M111.7 594.5 113.3 594.3 114.9 594.2 116.5 594 118 593.8 119.6 593.6 121.2 593.4 122.7 593.2 124.3 593 125.9 592.7 127.4 592.5 129 592.2 130.6 592 132.1 591.7 133.7 591.4 135.3 591.1 136.9 590.9M213.8 591 215.3 591.2 216.9 591.4 218.5 591.7 220.1 591.9 221.6 592.2 223.2 592.4 224.8 592.6 226.3 592.9 227.9 593.1 229.5 593.3 231 593.6 232.6 593.8 234.2 594 235.8 594.3 237.3 594.5 238.9 594.7M317.4 594.3 318.9 593.7 320.5 593.1 322.1 592.5 323.7 591.9 325.2 591.3 326.8 590.6M383.3 591.8 384.9 592.7 386.4 593.5 388 594.3 389.6 595M110.9 591.5 112.5 591.4 114 591.2 115.6 591 117.2 590.9 118.8 590.7 120.3 590.5 121.9 590.3 123.5 590.1 125 589.9 126.6 589.7 128.2 589.4 129.7 589.2 131.3 588.9 132.9 588.6 134.4 588.4 136 588.1 137.6 587.8M219.2 588.1 220.8 588.3 222.4 588.6 223.9 588.8 225.5 589.1 227.1 589.3 228.6 589.5 230.2 589.8 231.8 590 233.3 590.2 234.9 590.5 236.5 590.7 238.1 591 239.6 591.2 241.2 591.4 242.8 591.7 244.3 591.9M318.1 591.6 319.7 591 321.2 590.4 322.8 589.8 324.4 589.2 326 588.6 327.5 587.9M385.6 588.5 387.2 589.4 388.7 590.2 390.3 591 391.9 591.8M108.5 588.8 110.1 588.6 111.6 588.4 113.2 588.2 114.8 588.1 116.3 587.9 117.9 587.7 119.5 587.5 121.1 587.4 122.6 587.2 124.2 587 125.8 586.8 127.3 586.6 128.9 586.3 130.5 586.1 132 585.8 133.6 585.6 135.2 585.3 136.7 585M224.7 585.2 226.2 585.5 227.8 585.7 229.4 585.9 230.9 586.2 232.5 586.4 234.1 586.7 235.6 586.9 237.2 587.2 238.8 587.4 240.4 587.7 241.9 587.9 243.5 588.1 245.1 588.4 246.6 588.6 248.2 588.8M320.4 588.3 322 587.7 323.5 587.1 325.1 586.5 326.7 585.9 328.3 585.2 329.8 584.5M387.9 585.2 389.5 586.1 391 586.9 392.6 587.7 394.2 588.5 395.8 589.2M107.7 585.8 109.2 585.6 110.8 585.4 112.4 585.3 113.9 585.1 115.5 584.9 117.1 584.7 118.6 584.6 120.2 584.4 121.8 584.2 123.4 584 124.9 583.8 126.5 583.6 128.1 583.4 129.6 583.2 131.2 583 132.8 582.7 134.3 582.5 135.9 582.2 137.5 581.9M230.1 582.3 231.7 582.6 233.2 582.8 234.8 583.1 236.4 583.3 237.9 583.6 239.5 583.8 241.1 584.1 242.7 584.3 244.2 584.6 245.8 584.8 247.4 585 248.9 585.3 250.5 585.5 252.1 585.7 253.6 586M321.1 585.5 322.7 584.9 324.3 584.4 325.8 583.8 327.4 583.1 329 582.5 330.6 581.8M391.8 582.8 393.3 583.6 394.9 584.4 396.5 585.2 398.1 586M106.8 582.9 108.4 582.7 110 582.5 111.5 582.3 113.1 582.1 114.7 581.9 116.2 581.7 117.8 581.6 119.4 581.4 120.9 581.2 122.5 581 124.1 580.8 125.7 580.7 127.2 580.5 128.8 580.3 130.4 580.1 131.9 579.8 133.5 579.6 135.1 579.4 136.6 579.1M235.5 579.4 237.1 579.7 238.7 579.9 240.2 580.2 241.8 580.5 243.4 580.7 245 581 246.5 581.2 248.1 581.5 249.7 581.7 251.2 582 252.8 582.2 254.4 582.4 255.9 582.7 257.5 582.9 259.1 583.1M321.9 582.7 323.4 582.1 325 581.6 326.6 581 328.1 580.4 329.7 579.8 331.3 579.1M394.1 579.4 395.6 580.3 397.2 581.1 398.8 581.9 400.4 582.7 401.9 583.4M106 579.9 107.5 579.7 109.1 579.5 110.7 579.3 112.3 579.1 113.8 578.9 115.4 578.7 117 578.6 118.5 578.4 120.1 578.2 121.7 578 123.2 577.8 124.8 577.6 126.4 577.5 128 577.3 129.5 577.1 131.1 576.9 132.7 576.7 134.2 576.4 135.8 576.2M241 576.5 242.5 576.8 244.1 577.1 245.7 577.3 247.3 577.6 248.8 577.8 250.4 578.1 252 578.4 253.5 578.6 255.1 578.8 256.7 579.1 258.2 579.3 259.8 579.5 261.4 579.8 262.9 580 264.5 580.2M322.6 579.8 324.2 579.3 325.7 578.8 327.3 578.2 328.9 577.6 330.4 577 332 576.4M397.9 577 399.5 577.8 401.1 578.6 402.7 579.4 404.2 580.1M105.1 576.9 106.7 576.7 108.3 576.6 109.8 576.4 111.4 576.2 113 576 114.6 575.8 116.1 575.6 117.7 575.4 119.3 575.2 120.8 575 122.4 574.8 124 574.6 125.5 574.4 127.1 574.2 128.7 574.1 130.3 573.9 131.8 573.7 133.4 573.5 135 573.2M246.4 573.7 248 573.9 249.6 574.2 251.1 574.5 252.7 574.7 254.3 575 255.8 575.2 257.4 575.5 259 575.7 260.5 576 262.1 576.2 263.7 576.4 265.2 576.6 266.8 576.9 268.4 577.1 270 577.3M323.3 576.9 324.9 576.5 326.5 576 328 575.4 329.6 574.8 331.2 574.2 332.7 573.6 334.3 572.9M400.2 573.6 401.8 574.4 403.4 575.3 405 576.1 406.5 576.8 408.1 577.5M102.7 574.1 104.3 573.9 105.9 573.7 107.4 573.6 109 573.4 110.6 573.2 112.1 573 113.7 572.8 115.3 572.6 116.9 572.3 118.4 572.1 120 571.9 121.6 571.7 123.1 571.6 124.7 571.4 126.3 571.2 127.8 571 129.4 570.8 131 570.6 132.6 570.4M251.9 570.8 253.4 571 255 571.3 256.6 571.6 258.1 571.8 259.7 572.1 261.3 572.3 262.8 572.6 264.4 572.8 266 573 267.5 573.3 269.1 573.5 270.7 573.7 272.3 573.9 273.8 574.1 275.4 574.3M324.1 574 325.6 573.6 327.2 573.1 328.8 572.6 330.3 572 331.9 571.4 333.5 570.8 335 570.1M404.1 571.1 405.7 571.9 407.3 572.7 408.8 573.5 410.4 574.2M101.9 571.1 103.5 570.9 105 570.7 106.6 570.5 108.2 570.3 109.7 570.2 111.3 570 112.9 569.8 114.4 569.6 116 569.3 117.6 569.1 119.2 568.9 120.7 568.7 122.3 568.5 123.9 568.3 125.4 568.1 127 567.9 128.6 567.7 130.1 567.5M257.3 567.9 258.9 568.1 260.4 568.4 262 568.7 263.6 568.9 265.1 569.2 266.7 569.4 268.3 569.6 269.8 569.9 271.4 570.1 273 570.3 274.6 570.5 276.1 570.8 277.7 571 279.3 571.1 280.8 571.3M324.8 571.1 326.4 570.6 327.9 570.2 329.5 569.7 331.1 569.1 332.6 568.6 334.2 568 335.8 567.3M406.4 567.7 408 568.5 409.6 569.3 411.1 570.1 412.7 570.9 414.3 571.6M99.5 568.3 101 568.1 102.6 567.9 104.2 567.7 105.8 567.5 107.3 567.3 108.9 567.1 110.5 566.9 112 566.7 113.6 566.5 115.2 566.3 116.7 566.1 118.3 565.9 119.9 565.7 121.5 565.5 123 565.2 124.6 565 126.2 564.8 127.7 564.6M262.7 564.9 264.3 565.2 265.9 565.5 267.4 565.7 269 566 270.6 566.2 272.1 566.5 273.7 566.7 275.3 566.9 276.9 567.1 278.4 567.4 280 567.6 281.6 567.8 283.1 567.9 284.7 568.1 286.3 568.3 287.8 568.5M325.5 568 327.1 567.6 328.7 567.2 330.2 566.7 331.8 566.2 333.4 565.7 334.9 565.1 336.5 564.5M410.3 565.1 411.9 565.9 413.4 566.7 415 567.5 416.6 568.3 418.1 569M98.6 565.4 100.2 565.1 101.8 564.9 103.3 564.7 104.9 564.5 106.5 564.3 108.1 564.1 109.6 563.9 111.2 563.7 112.8 563.5 114.3 563.3 115.9 563.1 117.5 562.9 119 562.6 120.6 562.4 122.2 562.2 123.8 562 125.3 561.8M268.2 562 269.7 562.3 271.3 562.5 272.9 562.8 274.4 563 276 563.3 277.6 563.5 279.2 563.7 280.7 563.9 282.3 564.1 283.9 564.4 285.4 564.5 287 564.7 288.6 564.9 290.1 565.1 291.7 565.3 293.3 565.4M324.7 565.3 326.2 565 327.8 564.6 329.4 564.2 331 563.8 332.5 563.3 334.1 562.8 335.7 562.2 337.2 561.6M414.2 562.5 415.7 563.3 417.3 564.1 418.9 564.9 420.4 565.7M99.4 562.3 100.9 562 102.5 561.7 104.1 561.5 105.6 561.2 107.2 561 108.8 560.8 110.4 560.6 111.9 560.4 113.5 560.2 115.1 560 116.6 559.8 118.2 559.6 119.8 559.4 121.3 559.1 122.9 558.9 124.5 558.7M273.6 559 275.2 559.3 276.7 559.5 278.3 559.8 279.9 560 281.5 560.3 283 560.5 284.6 560.7 286.2 560.9 287.7 561.1 289.3 561.3 290.9 561.5 292.4 561.7 294 561.9 295.6 562 297.2 562.2 298.7 562.4 300.3 562.5M323.8 562.4 325.4 562.1 327 561.8 328.5 561.5 330.1 561.2 331.7 560.8 333.3 560.3 334.8 559.8 336.4 559.3 338 558.7M416.5 559.1 418 559.9 419.6 560.7 421.2 561.5 422.7 562.3 424.3 563.1M98.5 559.5 100.1 559.2 101.7 558.8 103.2 558.5 104.8 558.3 106.4 558 107.9 557.8 109.5 557.5 111.1 557.3 112.7 557.1 114.2 556.9 115.8 556.7 117.4 556.5 118.9 556.3 120.5 556.1 122.1 555.8M279 556 280.6 556.3 282.2 556.5 283.8 556.8 285.3 557 286.9 557.2 288.5 557.5 290 557.7 291.6 557.9 293.2 558 294.7 558.2 296.3 558.4 297.9 558.6 299.5 558.8 301 558.9 302.6 559.1 304.2 559.2 305.7 559.4 307.3 559.5 308.9 559.6 310.4 559.6M319.9 559.6 321.4 559.5 323 559.3 324.6 559.1 326.1 558.9 327.7 558.7 329.3 558.4 330.8 558 332.4 557.7 334 557.3 335.6 556.8 337.1 556.3 338.7 555.8M420.3 556.5 421.9 557.3 423.5 558.1 425 558.9 426.6 559.7M99.3 556.5 100.8 556.1 102.4 555.7 104 555.4 105.5 555.1 107.1 554.8 108.7 554.5 110.2 554.3 111.8 554 113.4 553.8 115 553.6 116.5 553.4 118.1 553.2 119.7 552.9M284.5 553 286.1 553.3 287.6 553.5 289.2 553.7 290.8 554 292.3 554.2 293.9 554.4 295.5 554.6 297 554.8 298.6 554.9 300.2 555.1 301.8 555.3 303.3 555.5 304.9 555.6 306.5 555.8 308 555.9 309.6 556 311.2 556.1 312.7 556.2 314.3 556.2 315.9 556.3 317.5 556.3 319 556.2 320.6 556.2 322.2 556.1 323.7 556 325.3 555.8 326.9 555.7 328.4 555.4 330 555.2 331.6 554.9 333.1 554.5 334.7 554.2 336.3 553.7 337.9 553.3 339.4 552.8M424.2 553.8 425.8 554.7 427.3 555.5 428.9 556.3 430.5 557.1M100 553.6 101.6 553.1 103.1 552.6 104.7 552.2 106.3 551.9 107.8 551.6 109.4 551.3 111 551 112.5 550.7 114.1 550.5 115.7 550.2 117.3 550M291.5 550.2 293.1 550.4 294.6 550.7 296.2 550.9 297.8 551.1 299.3 551.3 300.9 551.4 302.5 551.6 304.1 551.8 305.6 552 307.2 552.1 308.8 552.3 310.3 552.4 311.9 552.5 313.5 552.6 315 552.7 316.6 552.8 318.2 552.8 319.8 552.8 321.3 552.8 322.9 552.7 324.5 552.6 326 552.5 327.6 552.3 329.2 552.1 330.7 551.9 332.3 551.7 333.9 551.3 335.4 551 337 550.6 338.6 550.2 340.2 549.7M426.5 550.3 428.1 551.2 429.6 552 431.2 552.8 432.8 553.6 434.3 554.4M100.7 550.7 102.3 550.1 103.9 549.6 105.4 549.2 107 548.7 108.6 548.4 110.1 548 111.7 547.7 113.3 547.4 114.8 547.2M298.5 547.3 300.1 547.5 301.6 547.7 303.2 547.9 304.8 548.1 306.4 548.3 307.9 548.5 309.5 548.6 311.1 548.8 312.6 548.9 314.2 549 315.8 549.1 317.3 549.2 318.9 549.3 320.5 549.3 322.1 549.3 323.6 549.2 325.2 549.2 326.8 549.1 328.3 549 329.9 548.8 331.5 548.6 333 548.4 334.6 548.1 336.2 547.8 337.7 547.4 339.3 547M430.4 547.7 431.9 548.5 433.5 549.4 435.1 550.2 436.6 551M101.4 547.9 103 547.2 104.6 546.6 106.2 546.1 107.7 545.6 109.3 545.2 110.9 544.8 112.4 544.5 114 544.1M305.5 544.4 307.1 544.5 308.7 544.7 310.2 544.9 311.8 545.1 313.4 545.2 314.9 545.4 316.5 545.5 318.1 545.6 319.6 545.7 321.2 545.7 322.8 545.7 324.4 545.7 325.9 545.7 327.5 545.6 329.1 545.5 330.6 545.4 332.2 545.2 333.8 545 335.3 544.8 336.9 544.5 338.5 544.2M434.2 545 435.8 545.9 437.4 546.7 438.9 547.5 440.5 548.3M103.7 544.4 105.3 543.7 106.9 543.1 108.5 542.6 110 542.1 111.6 541.6 113.2 541.2M312.5 541.3 314.1 541.5 315.7 541.7 317.2 541.8 318.8 541.9 320.4 542 321.9 542.1 323.5 542.1 325.1 542.2 326.7 542.2 328.2 542.1 329.8 542.1 331.4 542 332.9 541.8 334.5 541.6 336.1 541.4 337.6 541.2M436.5 541.5 438.1 542.4 439.7 543.2 441.2 544 442.8 544.8 444.4 545.5M104.5 541.7 106 540.9 107.6 540.2 109.2 539.6 110.8 539 112.3 538.5 113.9 538M324.2 538.5 325.8 538.5 327.4 538.6 329 538.5 330.5 538.5 332.1 538.4 333.7 538.3M440.4 538.8 442 539.7 443.5 540.5 445.1 541.3 446.7 542.1M105.2 539 106.8 538.2 108.3 537.4 109.9 536.6 111.5 536 113.1 535.4M444.3 536.1 445.8 537 447.4 537.8 449 538.6 450.6 539.3M107.5 535.5 109.1 534.6 110.6 533.8 112.2 533 113.8 532.4M448.1 533.4 449.7 534.2 451.3 535 452.9 535.7 454.4 536.4M108.2 532.9 109.8 531.9 111.4 531 112.9 530.2 114.5 529.4M450.4 529.8 452 530.6 453.6 531.4 455.2 532.2 456.7 532.9 458.3 533.5M110.5 529.4 112.1 528.3 113.7 527.4 115.2 526.5M454.3 527 455.9 527.8 457.5 528.6 459 529.3 460.6 530 462.2 530.6M111.3 526.9 112.8 525.8 114.4 524.7 116 523.7M458.2 524.2 459.8 525 461.3 525.7 462.9 526.4 464.5 527 466 527.6M112 524.5 113.6 523.3 115.1 522.1 116.7 521 118.3 520M462.1 521.3 463.6 522.1 465.2 522.8 466.8 523.4 468.3 524 469.9 524.6M114.3 520.9 115.9 519.6 117.4 518.4 119 517.3M465.9 518.4 467.5 519.1 469.1 519.8 470.6 520.4 472.2 521 473.8 521.5 475.3 522M115 518.5 116.6 517.2 118.2 515.9 119.7 514.7M469.8 515.4 471.4 516.1 472.9 516.7 474.5 517.3 476.1 517.9 477.6 518.4 479.2 518.9M117.3 514.8 118.9 513.5 120.5 512.2 122 510.9M473.7 512.4 475.2 513 476.8 513.6 478.4 514.2 479.9 514.8 481.5 515.3 483.1 515.8M118.1 512.5 119.6 511.1 121.2 509.7 122.8 508.4M477.5 509.3 479.1 509.9 480.7 510.5 482.2 511.1 483.8 511.6 485.4 512.1 486.9 512.6 488.5 513.2M120.4 508.8 121.9 507.4 123.5 506M483 506.7 484.5 507.3 486.1 507.9 487.7 508.4 489.2 509 490.8 509.5 492.4 510M122.7 505 124.2 503.6 125.8 502.1M486.8 503.5 488.4 504.1 490 504.7 491.5 505.2 493.1 505.8 494.7 506.3 496.3 506.8 497.8 507.3M125 501.2 126.5 499.7M492.3 500.9 493.8 501.5 495.4 502 497 502.6 498.6 503.1 500.1 503.7 501.7 504.2M496.1 497.7 497.7 498.2 499.3 498.8 500.9 499.4 502.4 499.9 504 500.4 505.6 501 507.1 501.5M501.6 495 503.2 495.6 504.7 496.1 506.3 496.7 507.9 497.2 509.4 497.8 511 498.3M505.5 491.7 507 492.3 508.6 492.9 510.2 493.5 511.7 494 513.3 494.5 514.9 495.1 516.4 495.6M510.9 489.1 512.5 489.6 514 490.2 515.6 490.8 517.2 491.3 518.7 491.8 520.3 492.4 521.9 492.9M516.3 486.4 517.9 486.9 519.5 487.5 521 488.1 522.6 488.6 524.2 489.2 525.8 489.8M520.2 483.1 521.8 483.7 523.3 484.2 524.9 484.8 526.5 485.4 528.1 486 529.6 486.7M525.6 480.4 527.2 481 528.8 481.6 530.4 482.3 531.9 482.9 533.5 483.6 535.1 484.2M529.5 477.1 531.1 477.8 532.7 478.4 534.2 479.1 535.8 479.8 537.4 480.5 538.9 481.2M535 474.5 536.5 475.2 538.1 476 539.7 476.7 541.2 477.4 542.8 478.2M538.8 471.4 540.4 472.1 542 472.9 543.5 473.7 545.1 474.4 546.7 475.1M544.3 469 545.8 469.8 547.4 470.6 549 471.4 550.5 472.1M548.1 465.9 549.7 466.8 551.3 467.6 552.8 468.3 554.4 469.1M552 462.9 553.6 463.7 555.1 464.5 556.7 465.3 558.3 466 559.9 466.6M555.9 459.8 557.4 460.7 559 461.5 560.6 462.2 562.2 462.9 563.7 463.5M559.7 456.7 561.3 457.6 562.9 458.4 564.5 459.1 566 459.7M565.2 454.5 566.8 455.2 568.3 455.9" stroke="#4271a6" stroke-width="1.5" fill="none" stroke-linejoin="round"/>
<path d="M144.4 617.2 146 617.1 147.6 617 149.1 617 150.7 617 152.3 617 153.8 617 155.4 617.1 157 617.1 158.5 617.2 160.1 617.3M313.9 616.6 315.5 615.9 317.1 615.2 318.7 614.5 320.2 613.8 321.8 613.2M350 614.2 351.6 615 353.2 615.8 354.8 616.7 356.3 617.5M142 614.3 143.6 614.1 145.1 614 146.7 613.9 148.3 613.9 149.9 613.8 151.4 613.8 153 613.8 154.6 613.8 156.1 613.8 157.7 613.8 159.3 613.9 160.8 614 162.4 614.1 164 614.2 165.5 614.3 167.1 614.4M314.7 614.1 316.2 613.4 317.8 612.6 319.4 611.9 321 611.2 322.5 610.5M352.3 610.9 353.9 611.7 355.5 612.6 357.1 613.4 358.6 614.3 360.2 615.1M141.2 611.3 142.7 611.1 144.3 611 145.9 610.9 147.4 610.8 149 610.7 150.6 610.6 152.2 610.5 153.7 610.5 155.3 610.5 156.9 610.5 158.4 610.5 160 610.6 161.6 610.6 163.1 610.7 164.7 610.8 166.3 610.9 167.8 611 169.4 611.1 171 611.3 172.6 611.4 174.1 611.5M317 610.8 318.5 610.1 320.1 609.4 321.7 608.6 323.3 607.9 324.8 607.2M356.2 608.5 357.8 609.3 359.4 610.2 360.9 611.1 362.5 611.9M140.3 608.4 141.9 608.2 143.5 608 145 607.9 146.6 607.7 148.2 607.6 149.7 607.5 151.3 607.4 152.9 607.3 154.5 607.3 156 607.2 157.6 607.2 159.2 607.2 160.7 607.2 162.3 607.3 163.9 607.3 165.4 607.4 167 607.5 168.6 607.6 170.1 607.7 171.7 607.9 173.3 608 174.9 608.1 176.4 608.3 178 608.4 179.6 608.5M317.7 608.3 319.3 607.6 320.8 606.8 322.4 606.1 324 605.3 325.6 604.6M358.5 605.2 360.1 606.1 361.7 607 363.2 607.8 364.8 608.7M139.5 605.4 141.1 605.2 142.6 605.1 144.2 604.9 145.8 604.7 147.3 604.6 148.9 604.4 150.5 604.3 152 604.2 153.6 604.1 155.2 604 156.8 604 158.3 603.9 159.9 603.9 161.5 603.9 163 603.9 164.6 604 166.2 604 167.7 604.1 169.3 604.2 170.9 604.3 172.4 604.4 174 604.6 175.6 604.7 177.2 604.8 178.7 605 180.3 605.1 181.9 605.2 183.4 605.4 185 605.5 186.6 605.7M320 605 321.6 604.3 323.1 603.5 324.7 602.8 326.3 602 327.9 601.3M362.4 602.8 364 603.7 365.5 604.6 367.1 605.5 368.7 606.4M138.6 602.5 140.2 602.3 141.8 602.1 143.4 601.9 144.9 601.8 146.5 601.6 148.1 601.4 149.6 601.3 151.2 601.1 152.8 601 154.3 600.9 155.9 600.8 157.5 600.7 159.1 600.7 160.6 600.6 162.2 600.6 163.8 600.6 165.3 600.6 166.9 600.7 168.5 600.7 170 600.8 171.6 600.9 173.2 601 174.7 601.1 176.3 601.3 177.9 601.4 179.5 601.5 181 601.7 182.6 601.8 184.2 601.9 185.7 602.1 187.3 602.2 188.9 602.4 190.4 602.5 192 602.7M320.7 602.4 322.3 601.7 323.9 601 325.4 600.2 327 599.4 328.6 598.7M364.7 599.5 366.3 600.4 367.8 601.3 369.4 602.2 371 603.1M137.8 599.6 139.4 599.4 140.9 599.2 142.5 599 144.1 598.8 145.7 598.6 147.2 598.4 148.8 598.3 150.4 598.1 151.9 597.9 153.5 597.8 155.1 597.7 156.6 597.6 158.2 597.5 159.8 597.4 161.4 597.3 162.9 597.3 164.5 597.3 166.1 597.3 167.6 597.3 169.2 597.3 170.8 597.4 172.3 597.5 173.9 597.6 175.5 597.7 177 597.8 178.6 597.9 180.2 598.1 181.8 598.2 183.3 598.3 184.9 598.5 186.5 598.6 188 598.8 189.6 598.9 191.2 599.1 192.7 599.2 194.3 599.4 195.9 599.5 197.5 599.7 199 599.9M323 599.1 324.6 598.4 326.2 597.6 327.7 596.9 329.3 596.1 330.9 595.3M367 596.2 368.6 597.1 370.1 598 371.7 599 373.3 599.9M137 596.8 138.5 596.5 140.1 596.3 141.7 596.1 143.2 595.9 144.8 595.7 146.4 595.5 148 595.3 149.5 595.1 151.1 594.9 152.7 594.7 154.2 594.6 155.8 594.4 157.4 594.3 158.9 594.2 160.5 594.1 162.1 594 163.7 593.9 165.2 593.9 166.8 593.9 168.4 593.9 169.9 593.9 171.5 594 173.1 594 174.6 594.1 176.2 594.2 177.8 594.3 179.3 594.4 180.9 594.6 182.5 594.7 184.1 594.8 185.6 595 187.2 595.1 188.8 595.3 190.3 595.4 191.9 595.6 193.5 595.7 195 595.9 196.6 596 198.2 596.2 199.8 596.4 201.3 596.6 202.9 596.8 204.5 597M323.8 596.5 325.3 595.8 326.9 595.1 328.5 594.3 330 593.5 331.6 592.7M370.9 593.8 372.4 594.7 374 595.7 375.6 596.6 377.1 597.5M137.7 593.7 139.3 593.4 140.8 593.2 142.4 593 144 592.8 145.5 592.5 147.1 592.3 148.7 592.1 150.3 591.9 151.8 591.7 153.4 591.5 155 591.4 156.5 591.2 158.1 591.1 159.7 590.9 161.2 590.8 162.8 590.7 164.4 590.6 166 590.6 167.5 590.5 169.1 590.5 170.7 590.5 172.2 590.5 173.8 590.6 175.4 590.6 176.9 590.7 178.5 590.8 180.1 590.9 181.6 591.1 183.2 591.2 184.8 591.3 186.4 591.5 187.9 591.6 189.5 591.8 191.1 591.9 192.6 592 194.2 592.2 195.8 592.4 197.3 592.5 198.9 592.7 200.5 592.9 202.1 593 203.6 593.2 205.2 593.4 206.8 593.7 208.3 593.9 209.9 594.1M326.1 593.2 327.6 592.5 329.2 591.7 330.8 590.9 332.3 590.1M373.2 590.4 374.7 591.4 376.3 592.4 377.9 593.3 379.4 594.2M136.9 590.9 138.4 590.6 140 590.3 141.6 590.1 143.1 589.9 144.7 589.6 146.3 589.4 147.8 589.2 149.4 589 151 588.7 152.6 588.5 154.1 588.3 155.7 588.1 157.3 588 158.8 587.8 160.4 587.6 162 587.5 163.5 587.4 165.1 587.3M180.8 587.4 182.4 587.5 183.9 587.6 185.5 587.8 187.1 587.9 188.7 588.1 190.2 588.2 191.8 588.4 193.4 588.5 194.9 588.7 196.5 588.8 198.1 589 199.6 589.1 201.2 589.3 202.8 589.5 204.4 589.7 205.9 589.9 207.5 590.1 209.1 590.3 210.6 590.5 212.2 590.7 213.8 591M326.8 590.6 328.4 589.9 329.9 589.1 331.5 588.3 333.1 587.5 334.6 586.7M377 588 378.6 589 380.2 590 381.7 590.9 383.3 591.8M137.6 587.8 139.2 587.5 140.7 587.2 142.3 587 143.9 586.7 145.4 586.5 147 586.2 148.6 586 150.1 585.8 151.7 585.5 153.3 585.3 154.9 585.1 156.4 584.9 158 584.7 159.6 584.5 161.1 584.4M189.4 584.5 191 584.6 192.5 584.8 194.1 584.9 195.7 585.1 197.2 585.2 198.8 585.4 200.4 585.6 201.9 585.7 203.5 585.9 205.1 586.1 206.7 586.3 208.2 586.5 209.8 586.7 211.4 586.9 212.9 587.1 214.5 587.4 216.1 587.6 217.6 587.9 219.2 588.1M327.5 587.9 329.1 587.2 330.7 586.5 332.2 585.7 333.8 584.9 335.4 584.1M379.3 584.7 380.9 585.7 382.5 586.7 384 587.6 385.6 588.5M136.7 585 138.3 584.7 139.9 584.4 141.5 584.1 143 583.9 144.6 583.6 146.2 583.3 147.7 583.1 149.3 582.8 150.9 582.6 152.4 582.3 154 582.1 155.6 581.9 157.2 581.7 158.7 581.5M198 581.6 199.5 581.8 201.1 582 202.7 582.1 204.2 582.3 205.8 582.5 207.4 582.7 209 582.9 210.5 583.1 212.1 583.3 213.7 583.5 215.2 583.7 216.8 584 218.4 584.2 219.9 584.5 221.5 584.7 223.1 585 224.7 585.2M329.8 584.5 331.4 583.8 333 583.1 334.5 582.3 336.1 581.5 337.7 580.7M383.2 582.3 384.8 583.3 386.3 584.3 387.9 585.2M137.5 581.9 139 581.6 140.6 581.3 142.2 581 143.8 580.7 145.3 580.5 146.9 580.2 148.5 579.9 150 579.7 151.6 579.4 153.2 579.1 154.7 578.9 156.3 578.7 157.9 578.4M205 578.7 206.5 578.8 208.1 579 209.7 579.2 211.3 579.4 212.8 579.6 214.4 579.9 216 580.1 217.5 580.3 219.1 580.6 220.7 580.8 222.2 581.1 223.8 581.3 225.4 581.6 227 581.8 228.5 582.1 230.1 582.3M330.6 581.8 332.1 581.1 333.7 580.4 335.3 579.7 336.8 578.9 338.4 578.1M385.5 578.9 387.1 579.9 388.6 580.9 390.2 581.9 391.8 582.8M136.6 579.1 138.2 578.8 139.8 578.5 141.3 578.2 142.9 577.9 144.5 577.6 146.1 577.3 147.6 577 149.2 576.7 150.8 576.5 152.3 576.2 153.9 575.9 155.5 575.7 157 575.4M212 575.7 213.6 575.9 215.1 576.2 216.7 576.4 218.3 576.6 219.8 576.9 221.4 577.1 223 577.4 224.5 577.6 226.1 577.9 227.7 578.1 229.3 578.4 230.8 578.7 232.4 578.9 234 579.2 235.5 579.4M331.3 579.1 332.9 578.4 334.4 577.7 336 577 337.6 576.2 339.1 575.4M389.4 576.5 390.9 577.5 392.5 578.5 394.1 579.4M135.8 576.2 137.4 576 138.9 575.7 140.5 575.4 142.1 575.1 143.6 574.8 145.2 574.5 146.8 574.2 148.4 573.9 149.9 573.6 151.5 573.3 153.1 573 154.6 572.7M219 572.9 220.6 573.1 222.1 573.4 223.7 573.6 225.3 573.9 226.8 574.2 228.4 574.4 230 574.7 231.6 575 233.1 575.2 234.7 575.5 236.3 575.8 237.8 576 239.4 576.3 241 576.5M332 576.4 333.6 575.7 335.2 575 336.7 574.3 338.3 573.5 339.9 572.7 341.4 571.9M391.7 573.1 393.2 574.1 394.8 575.1 396.4 576.1 397.9 577M135 573.2 136.5 573 138.1 572.8 139.7 572.5 141.2 572.2 142.8 572 144.4 571.7 145.9 571.3 147.5 571 149.1 570.7 150.7 570.4 152.2 570.1 153.8 569.8M224.4 569.9 226 570.1 227.6 570.4 229.1 570.7 230.7 570.9 232.3 571.2 233.9 571.5 235.4 571.8 237 572 238.6 572.3 240.1 572.6 241.7 572.8 243.3 573.1 244.8 573.4 246.4 573.7M334.3 572.9 335.9 572.3 337.5 571.5 339 570.8 340.6 570 342.2 569.2M395.5 570.7 397.1 571.7 398.7 572.7 400.2 573.6M132.6 570.4 134.1 570.2 135.7 570 137.3 569.8 138.8 569.6 140.4 569.3 142 569.1 143.5 568.8 145.1 568.5 146.7 568.2 148.2 567.9 149.8 567.5 151.4 567.2 153 566.9M231.4 567.2 233 567.4 234.6 567.7 236.2 568 237.7 568.3 239.3 568.6 240.9 568.8 242.4 569.1 244 569.4 245.6 569.7 247.1 569.9 248.7 570.2 250.3 570.5 251.9 570.8M335 570.1 336.6 569.5 338.2 568.8 339.8 568.1 341.3 567.3 342.9 566.5M397.8 567.2 399.4 568.3 401 569.2 402.5 570.2 404.1 571.1M130.1 567.5 131.7 567.3 133.3 567.1 134.9 567 136.4 566.7 138 566.5 139.6 566.3 141.1 566.1 142.7 565.8 144.3 565.6 145.8 565.3 147.4 565 149 564.7 150.5 564.3 152.1 564 153.7 563.7M236.9 564.2 238.5 564.5 240 564.7 241.6 565 243.2 565.3 244.7 565.6 246.3 565.9 247.9 566.2 249.4 566.5 251 566.7 252.6 567 254.2 567.3 255.7 567.6 257.3 567.9M335.8 567.3 337.3 566.7 338.9 566 340.5 565.3 342.1 564.5 343.6 563.8M401.7 564.8 403.3 565.8 404.8 566.8 406.4 567.7M127.7 564.6 129.3 564.4 130.9 564.2 132.4 564 134 563.8 135.6 563.7 137.2 563.5 138.7 563.2 140.3 563 141.9 562.8 143.4 562.6 145 562.3 146.6 562 148.1 561.8 149.7 561.5 151.3 561.1 152.8 560.8M242.3 561.2 243.9 561.5 245.5 561.8 247 562.1 248.6 562.4 250.2 562.7 251.7 562.9 253.3 563.2 254.9 563.5 256.5 563.8 258 564.1 259.6 564.4 261.2 564.7 262.7 564.9M336.5 564.5 338.1 563.8 339.6 563.2 341.2 562.5 342.8 561.7 344.4 561M404 561.3 405.6 562.3 407.1 563.3 408.7 564.2 410.3 565.1M125.3 561.8 126.9 561.5 128.5 561.3 130 561.1 131.6 560.9 133.2 560.7 134.7 560.5 136.3 560.3 137.9 560.1 139.5 559.9 141 559.7 142.6 559.5 144.2 559.3 145.7 559 147.3 558.8 148.9 558.5 150.4 558.2 152 557.9M247.8 558.2 249.3 558.5 250.9 558.8 252.5 559.1 254 559.4 255.6 559.7 257.2 560 258.8 560.3 260.3 560.6 261.9 560.9 263.5 561.2 265 561.4 266.6 561.7 268.2 562M337.2 561.6 338.8 561 340.4 560.3 341.9 559.6 343.5 558.9 345.1 558.2 346.7 557.4M407.9 558.8 409.4 559.8 411 560.8 412.6 561.7 414.2 562.5M124.5 558.7 126.1 558.4 127.6 558.2 129.2 558 130.8 557.8 132.3 557.6 133.9 557.4 135.5 557.2 137 557 138.6 556.8 140.2 556.6 141.8 556.4 143.3 556.1 144.9 555.9 146.5 555.7 148 555.4 149.6 555.2M253.2 555.2 254.8 555.5 256.3 555.8 257.9 556.1 259.5 556.4 261.1 556.7 262.6 557 264.2 557.3 265.8 557.6 267.3 557.9 268.9 558.2 270.5 558.5 272 558.8 273.6 559M338 558.7 339.5 558.1 341.1 557.4 342.7 556.8 344.2 556.1 345.8 555.3 347.4 554.6M410.2 555.3 411.7 556.3 413.3 557.3 414.9 558.2 416.5 559.1M122.1 555.8 123.6 555.6 125.2 555.4 126.8 555.1 128.4 554.9 129.9 554.7 131.5 554.4 133.1 554.2 134.6 554 136.2 553.8 137.8 553.6 139.3 553.4 140.9 553.2 142.5 553 144.1 552.8 145.6 552.5 147.2 552.3 148.8 552.1M260.2 552.5 261.8 552.8 263.4 553.2 264.9 553.5 266.5 553.8 268.1 554.1 269.6 554.4 271.2 554.7 272.8 555 274.3 555.2 275.9 555.5 277.5 555.8 279 556M338.7 555.8 340.3 555.2 341.8 554.5 343.4 553.9 345 553.2 346.5 552.5 348.1 551.7M414 552.8 415.6 553.8 417.2 554.7 418.8 555.6 420.3 556.5M119.7 552.9 121.2 552.7 122.8 552.5 124.4 552.3 125.9 552 127.5 551.8 129.1 551.5 130.7 551.3 132.2 551.1 133.8 550.8 135.4 550.6 136.9 550.4 138.5 550.2 140.1 550 141.6 549.8 143.2 549.5 144.8 549.3M265.7 549.5 267.2 549.9 268.8 550.2 270.4 550.5 271.9 550.8 273.5 551.1 275.1 551.4 276.6 551.7 278.2 552 279.8 552.2 281.3 552.5 282.9 552.8 284.5 553M339.4 552.8 341 552.2 342.6 551.6 344.1 550.9 345.7 550.3 347.3 549.6 348.8 548.8M417.9 550.2 419.5 551.2 421.1 552.1 422.6 553 424.2 553.8M117.3 550 118.8 549.8 120.4 549.6 122 549.4 123.5 549.1 125.1 548.9 126.7 548.7 128.2 548.4 129.8 548.2 131.4 547.9 133 547.7 134.5 547.4 136.1 547.2 137.7 547 139.2 546.7 140.8 546.5 142.4 546.3M271.1 546.5 272.7 546.8 274.2 547.2 275.8 547.5 277.4 547.8 278.9 548.1 280.5 548.4 282.1 548.7 283.6 548.9 285.2 549.2 286.8 549.5 288.4 549.7 289.9 550 291.5 550.2M340.2 549.7 341.7 549.2 343.3 548.6 344.9 548 346.4 547.3 348 546.6 349.6 545.9M420.2 546.6 421.8 547.6 423.4 548.5 424.9 549.4 426.5 550.3M114.8 547.2 116.4 546.9 118 546.7 119.6 546.4 121.1 546.2 122.7 546 124.3 545.8 125.8 545.5 127.4 545.3 129 545 130.5 544.8 132.1 544.5 133.7 544.3 135.3 544 136.8 543.8 138.4 543.5 140 543.3M278.1 543.8 279.7 544.1 281.2 544.4 282.8 544.7 284.4 545 285.9 545.3 287.5 545.6 289.1 545.9 290.7 546.1 292.2 546.4 293.8 546.6 295.4 546.9 296.9 547.1 298.5 547.3M339.3 547 340.9 546.6 342.5 546.1 344 545.6 345.6 545 347.2 544.3 348.7 543.7 350.3 542.9M424.1 544 425.7 545 427.2 545.9 428.8 546.8 430.4 547.7M114 544.1 115.6 543.8 117.1 543.6 118.7 543.3 120.3 543 121.9 542.8 123.4 542.6 125 542.3 126.6 542.1 128.1 541.9 129.7 541.6 131.3 541.4 132.8 541.1 134.4 540.8 136 540.6M283.5 540.8 285.1 541.1 286.7 541.4 288.2 541.7 289.8 542 291.4 542.3 293 542.5 294.5 542.8 296.1 543 297.7 543.3 299.2 543.5 300.8 543.7 302.4 543.9 303.9 544.2 305.5 544.4M338.5 544.2 340 543.8 341.6 543.4 343.2 543 344.8 542.5 346.3 541.9 347.9 541.3 349.5 540.6 351 539.9M428 541.4 429.5 542.3 431.1 543.2 432.7 544.1 434.2 545M113.2 541.2 114.7 540.9 116.3 540.5 117.9 540.2 119.4 539.9 121 539.6 122.6 539.4 124.2 539.1 125.7 538.9 127.3 538.7 128.9 538.4 130.4 538.2 132 537.9 133.6 537.6M289 537.7 290.5 538 292.1 538.3 293.7 538.6 295.3 538.9 296.8 539.1 298.4 539.4 300 539.6 301.5 539.9 303.1 540.1 304.7 540.3 306.2 540.5 307.8 540.8 309.4 541 311 541.1 312.5 541.3M337.6 541.2 339.2 540.9 340.8 540.6 342.3 540.2 343.9 539.8 345.5 539.3 347.1 538.8 348.6 538.2 350.2 537.6M430.3 537.7 431.8 538.7 433.4 539.6 435 540.6 436.5 541.5M113.9 538 115.5 537.6 117 537.2 118.6 536.9 120.2 536.5 121.7 536.2 123.3 536 124.9 535.7 126.5 535.4 128 535.2 129.6 534.9 131.2 534.7M296 534.9 297.6 535.2 299.1 535.5 300.7 535.7 302.3 536 303.8 536.2 305.4 536.5 307 536.7 308.5 536.9 310.1 537.1 311.7 537.3 313.3 537.5 314.8 537.7 316.4 537.9 318 538 319.5 538.2 321.1 538.3 322.7 538.4 324.2 538.5M333.7 538.3 335.2 538.2 336.8 538 338.4 537.8 339.9 537.5 341.5 537.2 343.1 536.9 344.6 536.5 346.2 536.1 347.8 535.6 349.4 535 350.9 534.5M434.1 535 435.7 536 437.3 537 438.8 537.9 440.4 538.8M113.1 535.4 114.6 534.9 116.2 534.4 117.8 533.9 119.3 533.5 120.9 533.2 122.5 532.8 124 532.5 125.6 532.2 127.2 531.9 128.8 531.7M303 532 304.6 532.3 306.1 532.5 307.7 532.8 309.3 533 310.8 533.2 312.4 533.4 314 533.7 315.6 533.9 317.1 534 318.7 534.2 320.3 534.4 321.8 534.5 323.4 534.7 325 534.8 326.5 534.8 328.1 534.9 329.7 534.9 331.3 534.9 332.8 534.9 334.4 534.8 336 534.7 337.5 534.5 339.1 534.3 340.7 534.1 342.2 533.8 343.8 533.5 345.4 533.2 346.9 532.8 348.5 532.3 350.1 531.8M438 532.3 439.6 533.3 441.1 534.3 442.7 535.2 444.3 536.1M113.8 532.4 115.4 531.7 116.9 531.2 118.5 530.7 120.1 530.2 121.6 529.8 123.2 529.4 124.8 529.1 126.3 528.8M310 529 311.6 529.3 313.1 529.5 314.7 529.7 316.3 529.9 317.9 530.1 319.4 530.3 321 530.5 322.6 530.7 324.1 530.8 325.7 531 327.3 531.1 328.8 531.1 330.4 531.2 332 531.2 333.6 531.2 335.1 531.2 336.7 531.1 338.3 531 339.8 530.8 341.4 530.6 343 530.4 344.5 530.1 346.1 529.8 347.7 529.4 349.2 529 350.8 528.5M441.9 529.6 443.4 530.6 445 531.6 446.6 532.5 448.1 533.4M114.5 529.4 116.1 528.7 117.7 528.1 119.2 527.5 120.8 527 122.4 526.5 123.9 526 125.5 525.6M318.6 526.2 320.2 526.4 321.7 526.6 323.3 526.8 324.9 527 326.4 527.1 328 527.2 329.6 527.3 331.1 527.4 332.7 527.5 334.3 527.5 335.9 527.5 337.4 527.4 339 527.3 340.6 527.2 342.1 527.1 343.7 526.8 345.3 526.6 346.8 526.3 348.4 526M445.7 526.9 447.3 527.9 448.9 528.9 450.4 529.8M115.2 526.5 116.8 525.7 118.4 525 120 524.3 121.5 523.7 123.1 523.2 124.7 522.7M327.2 523.2 328.7 523.3 330.3 523.5 331.9 523.6 333.4 523.6 335 523.7 336.6 523.7 338.2 523.7 339.7 523.6 341.3 523.6 342.9 523.4 344.4 523.3 346 523M448 523.2 449.6 524.2 451.2 525.2 452.7 526.1 454.3 527M116 523.7 117.5 522.8 119.1 522 120.7 521.2 122.3 520.6 123.8 519.9M451.9 520.4 453.5 521.5 455 522.4 456.6 523.3 458.2 524.2M118.3 520 119.8 519.1 121.4 518.2 123 517.5 124.6 516.7M455.8 517.7 457.3 518.7 458.9 519.6 460.5 520.5 462.1 521.3M119 517.3 120.6 516.3 122.1 515.3 123.7 514.4 125.3 513.6M459.6 514.9 461.2 515.9 462.8 516.8 464.4 517.6 465.9 518.4M119.7 514.7 121.3 513.6 122.9 512.5 124.4 511.5 126 510.6M463.5 512.1 465.1 513 466.7 513.9 468.2 514.7 469.8 515.4M122 510.9 123.6 509.8 125.2 508.7 126.7 507.6M467.4 509.2 469 510.1 470.5 510.9 472.1 511.6 473.7 512.4M122.8 508.4 124.3 507.1 125.9 505.9 127.5 504.8M471.3 506.2 472.8 507.1 474.4 507.9 476 508.6 477.5 509.3M123.5 506 125.1 504.6 126.6 503.3 128.2 502M475.1 503.2 476.7 504 478.3 504.8 479.8 505.5 481.4 506.1 483 506.7M125.8 502.1 127.4 500.7 128.9 499.3M479 500.1 480.6 500.9 482.1 501.6 483.7 502.3 485.3 502.9 486.8 503.5M126.5 499.7 128.1 498.2 129.7 496.8M482.9 497 484.4 497.7 486 498.4 487.6 499.1 489.1 499.7 490.7 500.3 492.3 500.9M127.3 497.4 128.8 495.8 130.4 494.3 132 492.8M488.3 494.5 489.9 495.2 491.4 495.8 493 496.4 494.6 497.1 496.1 497.7M129.6 493.5 131.1 491.9 132.7 490.3M492.2 491.2 493.7 491.9 495.3 492.5 496.9 493.2 498.4 493.8 500 494.4 501.6 495M131.9 489.5 133.4 487.9M497.6 488.6 499.2 489.2 500.7 489.9 502.3 490.5 503.9 491.1 505.5 491.7M134.2 485.5 135.7 483.8M501.5 485.2 503 485.9 504.6 486.6 506.2 487.2 507.8 487.8 509.3 488.5 510.9 489.1M506.9 482.6 508.5 483.2 510.1 483.9 511.6 484.5 513.2 485.2 514.8 485.8 516.3 486.4M512.4 479.9 513.9 480.6 515.5 481.2 517.1 481.8 518.6 482.5 520.2 483.1M516.2 476.5 517.8 477.2 519.4 477.9 520.9 478.5 522.5 479.1 524.1 479.8 525.6 480.4M521.7 473.8 523.2 474.5 524.8 475.2 526.4 475.8 527.9 476.5 529.5 477.1M527.1 471.1 528.7 471.8 530.2 472.5 531.8 473.2 533.4 473.8 535 474.5M531 467.7 532.5 468.4 534.1 469.2 535.7 469.9 537.3 470.6 538.8 471.4M536.4 465.1 538 465.8 539.6 466.6 541.1 467.4 542.7 468.2 544.3 469M541.9 462.6 543.4 463.4 545 464.2 546.6 465.1 548.1 465.9M545.7 459.3 547.3 460.2 548.9 461.1 550.4 462 552 462.9M549.6 456.1 551.2 457.1 552.7 458 554.3 458.9 555.9 459.8M555 454 556.6 454.9 558.2 455.9 559.7 456.7M558.9 450.9 560.5 451.8 562 452.8 563.6 453.7 565.2 454.5" stroke="#476da0" stroke-width="1.5" fill="none" stroke-linejoin="round"/>
<path d="M321.8 613.2 323.4 612.6 324.9 612 326.5 611.5 328.1 611 329.6 610.6 331.2 610.3 332.8 610.1 334.4 610 335.9 610 337.5 610.1 339.1 610.3 340.6 610.6 342.2 611 343.8 611.5 345.3 612 346.9 612.7 348.5 613.4 350 614.2M322.5 610.5 324.1 609.9 325.7 609.2 327.2 608.7 328.8 608.1 330.4 607.7 331.9 607.3 333.5 607M342.9 607.3 344.5 607.7 346.1 608.2 347.6 608.7 349.2 609.4 350.8 610.1 352.3 610.9M324.8 607.2 326.4 606.6 328 605.9 329.5 605.3 331.1 604.8 332.7 604.3 334.2 603.9M346.8 604.3 348.4 604.8 349.9 605.4 351.5 606.1 353.1 606.8 354.6 607.6 356.2 608.5M325.6 604.6 327.1 603.9 328.7 603.2 330.3 602.6 331.8 602 333.4 601.4 335 601M350.7 601.5 352.2 602.1 353.8 602.8 355.4 603.5 356.9 604.3 358.5 605.2M327.9 601.3 329.4 600.5 331 599.8 332.6 599.2 334.1 598.6 335.7 598M354.5 598.7 356.1 599.4 357.7 600.2 359.2 601 360.8 601.9 362.4 602.8M328.6 598.7 330.2 597.9 331.7 597.2 333.3 596.5 334.9 595.8 336.4 595.2M356.8 595.4 358.4 596.1 360 596.9 361.5 597.7 363.1 598.6 364.7 599.5M330.9 595.3 332.5 594.5 334 593.8 335.6 593.1 337.2 592.4M360.7 592.7 362.3 593.5 363.8 594.3 365.4 595.2 367 596.2M331.6 592.7 333.2 591.9 334.8 591.1 336.3 590.4 337.9 589.6 339.5 588.9M364.6 590.1 366.1 590.9 367.7 591.9 369.3 592.8 370.9 593.8M332.3 590.1 333.9 589.3 335.5 588.5 337.1 587.7 338.6 586.9 340.2 586.1M366.9 586.6 368.4 587.5 370 588.5 371.6 589.4 373.2 590.4M165.1 587.3 166.7 587.2 168.3 587.1 169.8 587.1 171.4 587.1 173 587.1 174.5 587.1 176.1 587.2 177.7 587.2 179.2 587.3 180.8 587.4M334.6 586.7 336.2 585.9 337.8 585.1 339.4 584.2 340.9 583.4M370.7 584.1 372.3 585.1 373.9 586.1 375.5 587 377 588M161.1 584.4 162.7 584.2 164.3 584.1 165.8 584 167.4 583.9 169 583.8 170.6 583.7 172.1 583.7 173.7 583.6 175.3 583.6 176.8 583.7 178.4 583.7 180 583.8 181.5 583.9 183.1 584 184.7 584.1 186.2 584.2 187.8 584.3 189.4 584.5M335.4 584.1 336.9 583.3 338.5 582.4 340.1 581.6 341.7 580.7M374.6 581.6 376.2 582.6 377.8 583.7 379.3 584.7M158.7 581.5 160.3 581.3 161.9 581.1 163.4 580.9 165 580.8 166.6 580.6 168.1 580.5 169.7 580.4 171.3 580.3 172.9 580.2 174.4 580.2 176 580.2 177.6 580.2 179.1 580.2 180.7 580.3 182.3 580.3 183.8 580.4 185.4 580.5 187 580.6 188.5 580.7 190.1 580.9 191.7 581 193.3 581.2 194.8 581.3 196.4 581.5 198 581.6M337.7 580.7 339.2 579.8 340.8 579 342.4 578.1 344 577.2M376.9 578.2 378.5 579.2 380.1 580.2 381.6 581.3 383.2 582.3M157.9 578.4 159.5 578.2 161 578 162.6 577.8 164.2 577.6 165.7 577.4 167.3 577.3 168.9 577.1 170.4 577 172 576.9 173.6 576.8 175.2 576.7 176.7 576.7 178.3 576.7 179.9 576.7 181.4 576.7 183 576.8 184.6 576.8 186.1 576.9 187.7 577 189.3 577.1 190.8 577.3 192.4 577.4 194 577.5 195.6 577.7 197.1 577.8 198.7 578 200.3 578.2 201.8 578.3 203.4 578.5 205 578.7M338.4 578.1 340 577.2 341.5 576.3 343.1 575.4 344.7 574.5M380.8 575.7 382.4 576.8 383.9 577.8 385.5 578.9M157 575.4 158.6 575.2 160.2 574.9 161.8 574.7 163.3 574.5 164.9 574.3 166.5 574.1 168 573.9 169.6 573.7 171.2 573.6 172.7 573.5 174.3 573.4 175.9 573.3 177.5 573.2 179 573.2 180.6 573.1 182.2 573.1 183.7 573.2 185.3 573.2 186.9 573.3 188.4 573.4 190 573.5 191.6 573.6 193.1 573.7 194.7 573.9 196.3 574 197.9 574.2 199.4 574.3 201 574.5 202.6 574.6 204.1 574.8 205.7 575 207.3 575.2 208.8 575.4 210.4 575.5 212 575.7M339.1 575.4 340.7 574.6 342.3 573.7 343.8 572.8 345.4 571.9M383.1 572.2 384.7 573.3 386.2 574.4 387.8 575.5 389.4 576.5M154.6 572.7 156.2 572.4 157.8 572.2 159.3 571.9 160.9 571.6 162.5 571.4 164.1 571.2 165.6 570.9 167.2 570.7 168.8 570.5 170.3 570.3 171.9 570.2 173.5 570 175 569.9 176.6 569.8 178.2 569.7 179.8 569.6 181.3 569.6 182.9 569.6 184.5 569.6 186 569.6 187.6 569.7 189.2 569.7 190.7 569.8 192.3 569.9 193.9 570 195.4 570.2 197 570.3 198.6 570.5 200.2 570.6 201.7 570.8 203.3 570.9 204.9 571.1 206.4 571.3 208 571.5 209.6 571.6 211.1 571.8 212.7 572 214.3 572.2 215.9 572.4 217.4 572.7 219 572.9M341.4 571.9 343 571.1 344.6 570.2 346.1 569.3 347.7 568.3M387 569.8 388.5 570.9 390.1 572 391.7 573.1M153.8 569.8 155.4 569.5 156.9 569.2 158.5 568.9 160.1 568.6 161.6 568.4 163.2 568.1 164.8 567.8 166.4 567.6 167.9 567.4 169.5 567.1 171.1 566.9 172.6 566.8 174.2 566.6 175.8 566.4 177.3 566.3 178.9 566.2 180.5 566.1M193 566.2 194.6 566.3 196.2 566.4 197.7 566.6 199.3 566.7 200.9 566.9 202.5 567 204 567.2 205.6 567.4 207.2 567.5 208.7 567.7 210.3 567.9 211.9 568.1 213.4 568.3 215 568.5 216.6 568.7 218.2 568.9 219.7 569.1 221.3 569.4 222.9 569.6 224.4 569.9M342.2 569.2 343.7 568.4 345.3 567.5 346.9 566.6 348.4 565.7M389.3 566.2 390.8 567.4 392.4 568.5 394 569.6 395.5 570.7M153 566.9 154.5 566.6 156.1 566.2 157.7 565.9 159.2 565.6 160.8 565.3 162.4 565.1 163.9 564.8 165.5 564.5 167.1 564.2 168.7 564 170.2 563.7 171.8 563.5 173.4 563.3 174.9 563.1M203.2 563.2 204.8 563.4 206.3 563.6 207.9 563.7 209.5 563.9 211 564.1 212.6 564.3 214.2 564.5 215.7 564.7 217.3 564.9 218.9 565.1 220.5 565.3 222 565.6 223.6 565.8 225.2 566.1 226.7 566.3 228.3 566.6 229.9 566.9 231.4 567.2M342.9 566.5 344.5 565.7 346 564.8 347.6 563.9 349.2 563M393.1 563.8 394.7 565 396.3 566.1 397.8 567.2M153.7 563.7 155.3 563.3 156.8 563 158.4 562.7 160 562.4 161.5 562 163.1 561.7 164.7 561.4 166.2 561.2 167.8 560.9 169.4 560.6 171 560.3 172.5 560.1M213.3 560.5 214.9 560.7 216.5 560.9 218 561.1 219.6 561.3 221.2 561.5 222.8 561.7 224.3 562 225.9 562.2 227.5 562.5 229 562.7 230.6 563 232.2 563.3 233.7 563.6 235.3 563.9 236.9 564.2M343.6 563.8 345.2 563 346.8 562.1 348.3 561.2 349.9 560.3M397 561.4 398.6 562.6 400.1 563.7 401.7 564.8M152.8 560.8 154.4 560.4 156 560.1 157.6 559.8 159.1 559.4 160.7 559.1 162.3 558.7 163.8 558.4 165.4 558.1 167 557.8 168.5 557.5 170.1 557.2M220.3 557.4 221.9 557.6 223.5 557.8 225.1 558.1 226.6 558.3 228.2 558.6 229.8 558.9 231.3 559.1 232.9 559.4 234.5 559.7 236 560 237.6 560.3 239.2 560.6 240.8 560.9 242.3 561.2M344.4 561 345.9 560.2 347.5 559.4 349.1 558.5 350.6 557.6 352.2 556.6M399.3 557.9 400.9 559 402.4 560.2 404 561.3M152 557.9 153.6 557.6 155.1 557.2 156.7 556.8 158.3 556.5 159.9 556.1 161.4 555.8 163 555.4 164.6 555.1 166.1 554.8 167.7 554.4M228.9 554.7 230.5 554.9 232.1 555.2 233.6 555.5 235.2 555.8 236.8 556.1 238.3 556.4 239.9 556.7 241.5 557 243.1 557.3 244.6 557.6 246.2 557.9 247.8 558.2M346.7 557.4 348.2 556.6 349.8 555.7 351.4 554.8 352.9 553.9M403.2 555.5 404.7 556.6 406.3 557.8 407.9 558.8M149.6 555.2 151.2 554.9 152.7 554.6 154.3 554.3 155.9 553.9 157.4 553.6 159 553.2 160.6 552.8 162.2 552.5 163.7 552.1 165.3 551.8 166.9 551.4M235.9 551.8 237.5 552.1 239.1 552.4 240.6 552.7 242.2 553 243.8 553.3 245.4 553.7 246.9 554 248.5 554.3 250.1 554.6 251.6 554.9 253.2 555.2M347.4 554.6 349 553.8 350.5 552.9 352.1 552.1 353.7 551.2M405.5 551.8 407 553 408.6 554.2 410.2 555.3M148.8 552.1 150.3 551.8 151.9 551.6 153.5 551.3 155 551 156.6 550.6 158.2 550.3 159.7 549.9 161.3 549.5 162.9 549.2 164.5 548.8 166 548.4M241.4 548.7 242.9 549 244.5 549.3 246.1 549.7 247.7 550 249.2 550.3 250.8 550.6 252.4 550.9 253.9 551.3 255.5 551.6 257.1 551.9 258.6 552.2 260.2 552.5M348.1 551.7 349.7 550.9 351.3 550.1 352.8 549.3 354.4 548.4M409.3 549.4 410.9 550.6 412.5 551.7 414 552.8M144.8 549.3 146.4 549.1 147.9 548.9 149.5 548.7 151.1 548.4 152.6 548.2 154.2 547.9 155.8 547.6 157.3 547.3 158.9 547 160.5 546.6 162 546.2 163.6 545.8 165.2 545.4M248.4 545.9 250 546.3 251.5 546.6 253.1 546.9 254.7 547.2 256.2 547.6 257.8 547.9 259.4 548.2 260.9 548.6 262.5 548.9 264.1 549.2 265.7 549.5M348.8 548.8 350.4 548 352 547.2 353.6 546.4 355.1 545.5M411.6 545.7 413.2 546.9 414.8 548.1 416.3 549.2 417.9 550.2M142.4 546.3 143.9 546.1 145.5 545.9 147.1 545.7 148.7 545.4 150.2 545.2 151.8 545 153.4 544.7 154.9 544.5 156.5 544.2 158.1 543.9 159.6 543.6 161.2 543.2 162.8 542.9 164.3 542.5M253.8 542.8 255.4 543.2 257 543.5 258.5 543.9 260.1 544.2 261.7 544.5 263.2 544.9 264.8 545.2 266.4 545.5 268 545.9 269.5 546.2 271.1 546.5M349.6 545.9 351.1 545.1 352.7 544.3 354.3 543.5 355.9 542.7M415.5 543.3 417.1 544.4 418.6 545.6 420.2 546.6M140 543.3 141.5 543.1 143.1 542.8 144.7 542.6 146.2 542.4 147.8 542.2 149.4 541.9 151 541.7 152.5 541.5 154.1 541.3 155.7 541 157.2 540.7 158.8 540.5 160.4 540.2 161.9 539.8M260.8 540.1 262.4 540.4 264 540.8 265.5 541.1 267.1 541.5 268.7 541.8 270.3 542.2 271.8 542.5 273.4 542.8 275 543.2 276.5 543.5 278.1 543.8M350.3 542.9 351.9 542.2 353.4 541.4 355 540.6 356.6 539.7M419.4 540.8 420.9 541.9 422.5 543 424.1 544M136 540.6 137.6 540.3 139.1 540.1 140.7 539.8 142.3 539.6 143.8 539.3 145.4 539.1 147 538.9 148.5 538.6 150.1 538.4 151.7 538.2 153.3 538 154.8 537.7 156.4 537.5 158 537.2 159.5 537 161.1 536.7M266.3 537 267.8 537.4 269.4 537.7 271 538.1 272.6 538.4 274.1 538.8 275.7 539.1 277.3 539.5 278.8 539.8 280.4 540.1 282 540.5 283.5 540.8M351 539.9 352.6 539.2 354.2 538.4 355.7 537.6 357.3 536.8M421.7 537 423.2 538.2 424.8 539.3 426.4 540.4 428 541.4M133.6 537.6 135.1 537.4 136.7 537.1 138.3 536.8 139.9 536.6 141.4 536.3 143 536 144.6 535.8 146.1 535.5 147.7 535.3 149.3 535.1 150.8 534.8 152.4 534.6 154 534.4 155.6 534.2 157.1 533.9M273.3 534.3 274.9 534.6 276.4 535 278 535.4 279.6 535.7 281.1 536.1 282.7 536.4 284.3 536.7 285.8 537.1 287.4 537.4 289 537.7M350.2 537.6 351.8 536.9 353.3 536.2 354.9 535.4 356.5 534.7 358 533.8M425.5 534.5 427.1 535.6 428.7 536.7 430.3 537.7M131.2 534.7 132.7 534.4 134.3 534.2 135.9 533.9 137.4 533.6 139 533.3 140.6 533 142.2 532.8 143.7 532.5 145.3 532.2 146.9 532 148.4 531.7 150 531.5 151.6 531.2 153.1 531M278.7 531.2 280.3 531.5 281.9 531.9 283.4 532.3 285 532.6 286.6 533 288.1 533.3 289.7 533.6 291.3 534 292.8 534.3 294.4 534.6 296 534.9M350.9 534.5 352.5 533.8 354.1 533.1 355.6 532.4 357.2 531.6 358.8 530.8M429.4 531.9 431 533 432.6 534 434.1 535M128.8 531.7 130.3 531.4 131.9 531.2 133.5 530.9 135 530.6 136.6 530.4 138.2 530.1 139.7 529.8 141.3 529.5 142.9 529.2 144.5 528.9 146 528.6 147.6 528.4 149.2 528.1M285.7 528.4 287.3 528.8 288.9 529.1 290.4 529.5 292 529.8 293.6 530.2 295.1 530.5 296.7 530.8 298.3 531.1 299.9 531.4 301.4 531.7 303 532M350.1 531.8 351.7 531.3 353.2 530.7 354.8 530 356.4 529.3 357.9 528.6 359.5 527.8M433.3 529.2 434.9 530.3 436.4 531.3 438 532.3M126.3 528.8 127.9 528.4 129.5 528.2 131.1 527.9 132.6 527.6 134.2 527.3 135.8 527.1 137.3 526.8 138.9 526.5 140.5 526.2 142 525.9 143.6 525.6 145.2 525.3 146.8 525M291.2 525.3 292.7 525.6 294.3 526 295.9 526.3 297.4 526.7 299 527 300.6 527.3 302.2 527.6 303.7 527.9 305.3 528.2 306.9 528.5 308.4 528.8 310 529M350.8 528.5 352.4 528 354 527.5 355.5 526.8 357.1 526.2 358.7 525.4 360.2 524.7M435.6 525.4 437.2 526.5 438.7 527.6 440.3 528.6 441.9 529.6M125.5 525.6 127.1 525.3 128.6 524.9 130.2 524.6 131.8 524.3 133.4 524 134.9 523.7 136.5 523.5 138.1 523.2 139.6 522.9 141.2 522.6 142.8 522.3M298.2 522.5 299.7 522.8 301.3 523.2 302.9 523.5 304.5 523.8 306 524.1 307.6 524.4 309.2 524.7 310.7 525 312.3 525.2 313.9 525.5 315.4 525.7 317 526 318.6 526.2M348.4 526 350 525.6 351.5 525.2 353.1 524.7 354.7 524.2 356.3 523.6 357.8 523 359.4 522.3M439.5 522.7 441 523.8 442.6 524.9 444.2 525.9 445.7 526.9M124.7 522.7 126.2 522.2 127.8 521.8 129.4 521.4 130.9 521.1 132.5 520.7 134.1 520.4 135.7 520.1 137.2 519.8 138.8 519.6 140.4 519.3M305.2 519.6 306.8 519.9 308.3 520.3 309.9 520.6 311.5 520.9 313 521.1 314.6 521.4 316.2 521.7 317.7 521.9 319.3 522.2 320.9 522.4 322.5 522.6 324 522.8 325.6 523 327.2 523.2M346 523 347.6 522.8 349.1 522.5 350.7 522.1 352.3 521.7 353.8 521.3 355.4 520.8 357 520.3 358.6 519.7 360.1 519M443.3 519.9 444.9 521 446.5 522.1 448 523.2M123.8 519.9 125.4 519.4 127 518.8 128.5 518.4 130.1 517.9 131.7 517.5 133.2 517.2 134.8 516.8 136.4 516.5M312.2 516.7 313.8 517 315.3 517.3 316.9 517.5 318.5 517.8 320 518.1 321.6 518.3 323.2 518.5 324.8 518.8 326.3 519 327.9 519.2 329.5 519.3 331 519.5 332.6 519.6 334.2 519.7 335.7 519.8 337.3 519.9 338.9 519.9 340.5 519.9 342 519.8 343.6 519.7 345.2 519.6 346.7 519.4 348.3 519.2 349.9 518.9 351.4 518.6 353 518.2 354.6 517.8 356.1 517.4 357.7 516.9 359.3 516.3M447.2 517.2 448.8 518.3 450.3 519.4 451.9 520.4M124.6 516.7 126.1 516.1 127.7 515.5 129.3 514.9 130.8 514.5 132.4 514 134 513.6M319.2 513.6 320.8 513.9 322.3 514.1 323.9 514.4 325.5 514.6 327.1 514.9 328.6 515.1 330.2 515.3 331.8 515.5 333.3 515.6 334.9 515.8 336.5 515.9 338 516 339.6 516 341.2 516 342.8 516 344.3 515.9 345.9 515.8 347.5 515.7 349 515.5 350.6 515.3 352.2 515 353.7 514.7 355.3 514.3 356.9 513.9 358.4 513.4M451.1 514.4 452.6 515.6 454.2 516.6 455.8 517.7M125.3 513.6 126.9 512.9 128.4 512.2 130 511.6 131.6 511 133.1 510.5M327.8 510.7 329.4 510.9 330.9 511.1 332.5 511.3 334.1 511.5 335.6 511.7 337.2 511.8 338.8 511.9 340.3 512 341.9 512.1 343.5 512.1 345.1 512.1 346.6 512 348.2 511.9 349.8 511.8 351.3 511.6 352.9 511.3 354.5 511 356 510.7 357.6 510.3M454.9 511.7 456.5 512.8 458.1 513.9 459.6 514.9M126 510.6 127.6 509.7 129.2 508.9 130.7 508.2 132.3 507.6M339.5 507.9 341.1 508 342.6 508.1 344.2 508.1 345.8 508.1 347.4 508.1 348.9 508 350.5 507.9 352.1 507.8M458.8 508.9 460.4 510 461.9 511.1 463.5 512.1M126.7 507.6 128.3 506.7 129.9 505.8 131.5 505 133 504.2M461.1 504.9 462.7 506.1 464.2 507.2 465.8 508.2 467.4 509.2M127.5 504.8 129 503.7 130.6 502.7 132.2 501.8M465 502.1 466.5 503.3 468.1 504.3 469.7 505.3 471.3 506.2M128.2 502 129.8 500.8 131.3 499.7 132.9 498.7M468.8 499.3 470.4 500.4 472 501.4 473.6 502.3 475.1 503.2M128.9 499.3 130.5 498 132.1 496.8 133.6 495.7M472.7 496.4 474.3 497.4 475.9 498.4 477.4 499.3 479 500.1M129.7 496.8 131.2 495.4 132.8 494 134.4 492.8M476.6 493.4 478.2 494.4 479.7 495.3 481.3 496.2 482.9 497M132 492.8 133.5 491.3 135.1 490M480.5 490.3 482 491.3 483.6 492.2 485.2 493 486.7 493.8 488.3 494.5M132.7 490.3 134.3 488.7 135.8 487.2M485.9 488.1 487.5 489 489 489.8 490.6 490.5 492.2 491.2M133.4 487.9 135 486.2 136.6 484.6 138.1 483.1M489.8 484.9 491.3 485.7 492.9 486.5 494.5 487.2 496 487.9 497.6 488.6M135.7 483.8 137.3 482.1 138.9 480.5M493.6 481.6 495.2 482.4 496.8 483.1 498.3 483.8 499.9 484.5 501.5 485.2M136.5 481.4 138 479.6 139.6 477.9M499.1 479 500.6 479.7 502.2 480.5 503.8 481.2 505.3 481.9 506.9 482.6M138.8 477.2 140.3 475.4M504.5 476.3 506.1 477.1 507.6 477.8 509.2 478.5 510.8 479.2 512.4 479.9M141.1 473 142.6 471.2M508.4 472.9 509.9 473.6 511.5 474.4 513.1 475.1 514.7 475.8 516.2 476.5M513.8 470.2 515.4 471 517 471.7 518.5 472.4 520.1 473.1 521.7 473.8M519.3 467.5 520.8 468.3 522.4 469 524 469.7 525.5 470.4 527.1 471.1M523.1 464 524.7 464.8 526.3 465.6 527.8 466.3 529.4 467 531 467.7M528.6 461.3 530.1 462.1 531.7 462.9 533.3 463.6 534.8 464.3 536.4 465.1M534 458.6 535.6 459.4 537.1 460.2 538.7 461 540.3 461.8 541.9 462.6M539.4 456 541 456.8 542.6 457.6 544.2 458.5 545.7 459.3M543.3 452.5 544.9 453.4 546.5 454.3 548 455.2 549.6 456.1M548.8 450 550.3 451 551.9 452 553.5 453 555 454M552.6 446.7 554.2 447.7 555.8 448.8 557.3 449.8 558.9 450.9" stroke="#4d689a" stroke-width="1.5" fill="none" stroke-linejoin="round"/>
<path d="M333.5 607 335.1 606.8 336.7 606.7 338.2 606.7 339.8 606.8 341.4 607 342.9 607.3M334.2 603.9 335.8 603.6 337.4 603.4 339 603.3 340.5 603.3 342.1 603.4 343.7 603.6 345.2 603.9 346.8 604.3M335 601 336.5 600.6 338.1 600.2 339.7 600 341.3 599.9 342.8 599.9 344.4 600 346 600.2 347.5 600.6 349.1 601 350.7 601.5M335.7 598 337.3 597.5 338.8 597.1 340.4 596.8 342 596.6 343.6 596.5 345.1 596.5 346.7 596.6 348.3 596.8 349.8 597.2 351.4 597.6 353 598.1 354.5 598.7M336.4 595.2 338 594.6 339.6 594.1 341.1 593.7 342.7 593.4 344.3 593.2 345.9 593.1 347.4 593.1 349 593.2 350.6 593.4 352.1 593.7 353.7 594.2 355.3 594.7 356.8 595.4M337.2 592.4 338.7 591.7 340.3 591.2 341.9 590.7 343.4 590.2 345 589.9 346.6 589.7 348.2 589.6 349.7 589.6 351.3 589.7 352.9 589.9 354.4 590.3 356 590.7 357.6 591.3 359.1 591.9 360.7 592.7M339.5 588.9 341 588.3 342.6 587.7 344.2 587.2 345.7 586.7 347.3 586.4 348.9 586.2 350.5 586.1 352 586.1 353.6 586.2 355.2 586.5 356.7 586.8 358.3 587.3 359.9 587.9 361.4 588.5 363 589.3 364.6 590.1M340.2 586.1 341.8 585.4 343.3 584.8 344.9 584.2 346.5 583.6 348 583.2 349.6 582.9M359 583.3 360.6 583.8 362.2 584.4 363.7 585.1 365.3 585.8 366.9 586.6M340.9 583.4 342.5 582.6 344.1 581.9 345.6 581.2 347.2 580.6 348.8 580.1 350.3 579.7M362.9 580.3 364.5 580.9 366 581.6 367.6 582.3 369.2 583.2 370.7 584.1M341.7 580.7 343.2 579.9 344.8 579.1 346.4 578.4 347.9 577.7 349.5 577M366.8 577.3 368.3 578 369.9 578.8 371.5 579.7 373 580.6 374.6 581.6M344 577.2 345.5 576.4 347.1 575.6 348.7 574.8 350.2 574.1M370.6 574.5 372.2 575.3 373.8 576.2 375.3 577.1 376.9 578.2M344.7 574.5 346.3 573.7 347.8 572.8 349.4 572 351 571.2M374.5 571.7 376.1 572.6 377.6 573.6 379.2 574.7 380.8 575.7M345.4 571.9 347 571 348.6 570.1 350.1 569.2 351.7 568.3M378.4 569.1 379.9 570.1 381.5 571.1 383.1 572.2M347.7 568.3 349.3 567.4 350.9 566.4 352.4 565.5 354 564.6M380.7 565.4 382.2 566.5 383.8 567.6 385.4 568.7 387 569.8M180.5 566.1 182.1 566 183.6 566 185.2 566 186.8 566 188.3 566 189.9 566.1 191.5 566.1 193 566.2M348.4 565.7 350 564.7 351.6 563.7 353.2 562.8 354.7 561.8M384.5 562.8 386.1 563.9 387.7 565.1 389.3 566.2M174.9 563.1 176.5 563 178.1 562.8 179.6 562.7 181.2 562.6 182.8 562.5 184.4 562.4 185.9 562.3 187.5 562.3 189.1 562.3 190.6 562.4 192.2 562.4 193.8 562.5 195.3 562.6 196.9 562.7 198.5 562.8 200 562.9 201.6 563.1 203.2 563.2M349.2 563 350.7 562 352.3 561 353.9 560 355.5 559.1M388.4 560.3 390 561.5 391.6 562.7 393.1 563.8M172.5 560.1 174.1 559.9 175.7 559.7 177.2 559.5 178.8 559.3 180.4 559.1 181.9 559 183.5 558.9 185.1 558.8 186.7 558.7 188.2 558.7 189.8 558.7 191.4 558.7 192.9 558.7 194.5 558.7 196.1 558.8 197.6 558.9 199.2 559 200.8 559.1 202.3 559.3 203.9 559.4 205.5 559.6 207.1 559.7 208.6 559.9 210.2 560.1 211.8 560.3 213.3 560.5M349.9 560.3 351.5 559.3 353 558.4 354.6 557.3 356.2 556.3M392.3 557.8 393.9 559 395.4 560.3 397 561.4M170.1 557.2 171.7 556.9 173.3 556.7 174.8 556.4 176.4 556.2 178 556 179.5 555.8 181.1 555.6 182.7 555.4 184.2 555.3 185.8 555.2 187.4 555.1 189 555 190.5 554.9 192.1 554.9 193.7 554.9 195.2 555 196.8 555 198.4 555.1 199.9 555.2 201.5 555.3 203.1 555.4 204.6 555.6 206.2 555.7 207.8 555.9 209.4 556 210.9 556.2 212.5 556.4 214.1 556.6 215.6 556.8 217.2 557 218.8 557.2 220.3 557.4M352.2 556.6 353.8 555.7 355.3 554.6 356.9 553.6M394.6 554.1 396.2 555.4 397.7 556.6 399.3 557.9M167.7 554.4 169.3 554.1 170.8 553.8 172.4 553.5 174 553.2 175.6 552.9 177.1 552.7 178.7 552.4 180.3 552.2 181.8 552 183.4 551.8 185 551.7 186.5 551.5 188.1 551.4 189.7 551.3 191.3 551.2 192.8 551.2 194.4 551.2 196 551.2 197.5 551.2 199.1 551.3 200.7 551.3 202.2 551.4 203.8 551.5 205.4 551.7 206.9 551.8 208.5 552 210.1 552.1 211.7 552.3 213.2 552.5 214.8 552.7 216.4 552.9 217.9 553.1 219.5 553.3 221.1 553.5 222.6 553.7 224.2 553.9 225.8 554.2 227.4 554.4 228.9 554.7M352.9 553.9 354.5 552.9 356.1 551.9 357.6 550.9 359.2 549.8M398.5 551.7 400 553 401.6 554.2 403.2 555.5M166.9 551.4 168.4 551.1 170 550.7 171.6 550.4 173.1 550.1 174.7 549.8 176.3 549.5 177.9 549.2 179.4 548.9 181 548.7 182.6 548.4 184.1 548.2 185.7 548 187.3 547.9M209.2 548 210.8 548.2 212.4 548.3 214 548.5 215.5 548.7 217.1 548.9 218.7 549.1 220.2 549.3 221.8 549.5 223.4 549.7 224.9 549.9 226.5 550.2 228.1 550.4 229.7 550.7 231.2 550.9 232.8 551.2 234.4 551.5 235.9 551.8M353.7 551.2 355.2 550.2 356.8 549.2 358.4 548.2 359.9 547.1M400.8 548 402.3 549.3 403.9 550.6 405.5 551.8M166 548.4 167.6 548 169.2 547.7 170.7 547.3 172.3 547 173.9 546.6 175.4 546.3 177 546 178.6 545.7 180.2 545.4 181.7 545.1 183.3 544.8M219.4 545.1 221 545.3 222.5 545.5 224.1 545.7 225.7 545.9 227.2 546.1 228.8 546.4 230.4 546.6 232 546.9 233.5 547.2 235.1 547.5 236.7 547.7 238.2 548 239.8 548.4 241.4 548.7M354.4 548.4 356 547.4 357.5 546.4 359.1 545.4 360.7 544.3M404.6 545.5 406.2 546.9 407.8 548.2 409.3 549.4M165.2 545.4 166.8 545.1 168.3 544.7 169.9 544.3 171.5 543.9 173 543.5 174.6 543.2 176.2 542.8 177.7 542.5 179.3 542.1 180.9 541.8M229.5 542.3 231.1 542.6 232.7 542.8 234.3 543.1 235.8 543.4 237.4 543.6 239 544 240.5 544.3 242.1 544.6 243.7 544.9 245.2 545.2 246.8 545.6 248.4 545.9M355.1 545.5 356.7 544.6 358.3 543.6 359.8 542.6 361.4 541.6M408.5 543.1 410.1 544.4 411.6 545.7M164.3 542.5 165.9 542.1 167.5 541.7 169.1 541.3 170.6 540.9 172.2 540.5 173.8 540.1 175.3 539.7 176.9 539.3 178.5 538.9M236.6 539.2 238.1 539.5 239.7 539.8 241.3 540.1 242.8 540.4 244.4 540.8 246 541.1 247.5 541.5 249.1 541.8 250.7 542.1 252.3 542.5 253.8 542.8M355.9 542.7 357.4 541.8 359 540.8 360.6 539.8 362.1 538.8M410.8 539.3 412.4 540.7 413.9 542 415.5 543.3M161.9 539.8 163.5 539.5 165.1 539.1 166.6 538.7 168.2 538.3 169.8 537.9 171.4 537.4 172.9 537 174.5 536.6 176.1 536.2M245.1 536.6 246.7 536.9 248.3 537.3 249.8 537.6 251.4 538 253 538.3 254.6 538.7 256.1 539 257.7 539.4 259.3 539.7 260.8 540.1M356.6 539.7 358.2 538.9 359.7 537.9 361.3 537 362.9 535.9M414.7 536.9 416.2 538.3 417.8 539.5 419.4 540.8M161.1 536.7 162.7 536.4 164.2 536 165.8 535.7 167.4 535.3 168.9 534.9 170.5 534.4 172.1 534 173.7 533.6 175.2 533.1M250.6 533.3 252.1 533.7 253.7 534.1 255.3 534.4 256.9 534.8 258.4 535.2 260 535.5 261.6 535.9 263.1 536.3 264.7 536.6 266.3 537M357.3 536.8 358.9 535.9 360.5 535 362 534.1 363.6 533.1M418.5 534.5 420.1 535.8 421.7 537M157.1 533.9 158.7 533.7 160.3 533.4 161.8 533.1 163.4 532.8 165 532.5 166.5 532.2 168.1 531.8 169.7 531.4 171.2 531 172.8 530.5 174.4 530.1M257.6 530.5 259.2 530.9 260.7 531.3 262.3 531.7 263.9 532 265.4 532.4 267 532.8 268.6 533.2 270.1 533.5 271.7 533.9 273.3 534.3M358 533.8 359.6 533 361.2 532.1 362.8 531.1 364.3 530.1M420.8 530.6 422.4 532 424 533.3 425.5 534.5M153.1 531 154.7 530.8 156.3 530.5 157.9 530.3 159.4 530 161 529.8 162.6 529.5 164.1 529.3 165.7 528.9 167.3 528.6 168.8 528.3 170.4 527.9 172 527.5M264.6 527.7 266.2 528.1 267.7 528.5 269.3 528.9 270.9 529.3 272.4 529.7 274 530 275.6 530.4 277.2 530.8 278.7 531.2M358.8 530.8 360.3 530 361.9 529.1 363.5 528.1 365.1 527.2M424.7 528.1 426.3 529.4 427.8 530.7 429.4 531.9M149.2 528.1 150.7 527.8 152.3 527.6 153.9 527.4 155.4 527.1 157 526.9 158.6 526.6 160.2 526.4 161.7 526.1 163.3 525.9 164.9 525.6 166.4 525.3 168 525 169.6 524.7 171.1 524.3M271.6 524.9 273.2 525.3 274.7 525.7 276.3 526.1 277.9 526.5 279.5 526.9 281 527.3 282.6 527.7 284.2 528.1 285.7 528.4M359.5 527.8 361.1 526.9 362.6 526 364.2 525.1 365.8 524.2M428.6 525.6 430.1 526.9 431.7 528.1 433.3 529.2M146.8 525 148.3 524.7 149.9 524.5 151.5 524.2 153 523.9 154.6 523.7 156.2 523.4 157.7 523.2 159.3 522.9 160.9 522.7 162.5 522.4 164 522.2 165.6 521.9 167.2 521.6M277 521.7 278.6 522.2 280.2 522.6 281.8 523 283.3 523.4 284.9 523.8 286.5 524.2 288 524.5 289.6 524.9 291.2 525.3M360.2 524.7 361.8 523.8 363.4 523 364.9 522.1 366.5 521.1M430.9 521.6 432.4 523 434 524.2 435.6 525.4M142.8 522.3 144.3 522 145.9 521.7 147.5 521.4 149.1 521.1 150.6 520.8 152.2 520.5 153.8 520.2 155.3 519.9 156.9 519.7 158.5 519.4 160 519.2 161.6 518.9 163.2 518.7M284.1 519 285.6 519.4 287.2 519.8 288.8 520.2 290.3 520.6 291.9 521 293.5 521.4 295 521.7 296.6 522.1 298.2 522.5M359.4 522.3 361 521.5 362.5 520.7 364.1 519.9 365.7 519 367.2 518M434.7 519 436.3 520.3 437.9 521.5 439.5 522.7M140.4 519.3 141.9 519 143.5 518.7 145.1 518.4 146.6 518 148.2 517.7 149.8 517.4 151.4 517.1 152.9 516.8 154.5 516.5 156.1 516.2 157.6 515.9 159.2 515.6M291.1 516.2 292.6 516.6 294.2 517 295.8 517.4 297.3 517.8 298.9 518.2 300.5 518.5 302 518.9 303.6 519.3 305.2 519.6M360.1 519 361.7 518.3 363.3 517.5 364.8 516.7 366.4 515.8 368 514.9M438.6 516.4 440.2 517.6 441.8 518.8 443.3 519.9M136.4 516.5 138 516.2 139.5 515.9 141.1 515.6 142.7 515.3 144.2 515 145.8 514.7 147.4 514.3 148.9 514 150.5 513.7 152.1 513.4 153.7 513 155.2 512.7M296.5 513 298.1 513.4 299.6 513.8 301.2 514.2 302.8 514.6 304.3 514.9 305.9 515.3 307.5 515.7 309.1 516 310.6 516.3 312.2 516.7M359.3 516.3 360.9 515.7 362.4 515 364 514.3 365.6 513.5 367.1 512.6M442.5 513.7 444.1 514.9 445.6 516.1 447.2 517.2M134 513.6 135.5 513.2 137.1 512.8 138.7 512.5 140.3 512.2 141.8 511.9 143.4 511.5 145 511.2 146.5 510.9 148.1 510.6 149.7 510.3 151.2 509.9M303.5 510.1 305.1 510.5 306.6 510.9 308.2 511.3 309.8 511.7 311.4 512 312.9 512.4 314.5 512.7 316.1 513 317.6 513.3 319.2 513.6M358.4 513.4 360 512.9 361.6 512.3 363.2 511.7 364.7 511 366.3 510.2 367.9 509.4M446.4 510.9 447.9 512.1 449.5 513.3 451.1 514.4M133.1 510.5 134.7 510 136.3 509.6 137.8 509.2 139.4 508.8 141 508.4 142.6 508.1 144.1 507.8 145.7 507.5 147.3 507.1 148.8 506.8M310.5 507.2 312.1 507.6 313.7 508 315.2 508.3 316.8 508.7 318.4 509 319.9 509.3 321.5 509.6 323.1 509.9 324.6 510.2 326.2 510.4 327.8 510.7M357.6 510.3 359.2 509.9 360.7 509.4 362.3 508.9 363.9 508.3 365.5 507.6 367 506.9M450.2 508.1 451.8 509.3 453.4 510.5 454.9 511.7M132.3 507.6 133.9 507 135.4 506.5 137 506 138.6 505.5 140.1 505.1 141.7 504.7 143.3 504.3 144.9 504M317.5 504.2 319.1 504.6 320.7 504.9 322.2 505.3 323.8 505.6 325.4 505.9 326.9 506.1 328.5 506.4 330.1 506.7 331.7 506.9 333.2 507.1 334.8 507.4 336.4 507.5 337.9 507.7 339.5 507.9M352.1 507.8 353.6 507.5 355.2 507.3 356.8 507 358.3 506.6 359.9 506.2 361.5 505.8 363 505.3 364.6 504.7 366.2 504.1 367.8 503.5M454.1 505.3 455.7 506.5 457.2 507.7 458.8 508.9M133 504.2 134.6 503.5 136.2 502.9 137.7 502.4 139.3 501.9 140.9 501.4 142.4 500.9M326.1 501.5 327.7 501.8 329.2 502.1 330.8 502.3 332.4 502.6 334 502.8 335.5 503.1 337.1 503.3 338.7 503.5 340.2 503.7 341.8 503.8 343.4 503.9 344.9 504 346.5 504.1 348.1 504.1 349.7 504.1 351.2 504 352.8 503.9 354.4 503.7 355.9 503.5 357.5 503.2 359.1 502.9 360.6 502.5 362.2 502.1 363.8 501.7 365.3 501.1M456.4 501.2 458 502.5 459.5 503.7 461.1 504.9M132.2 501.8 133.8 500.9 135.3 500.2 136.9 499.5 138.5 498.8 140 498.2M334.7 498.5 336.3 498.7 337.8 499 339.4 499.2 341 499.4 342.5 499.6 344.1 499.7 345.7 499.8 347.2 499.9 348.8 500 350.4 500 352 500 353.5 499.9 355.1 499.7 356.7 499.6 358.2 499.3 359.8 499.1 361.4 498.7 362.9 498.3 364.5 497.9M460.3 498.4 461.8 499.7 463.4 500.9 465 502.1M132.9 498.7 134.5 497.7 136.1 496.8 137.6 496 139.2 495.3M344.8 495.4 346.4 495.5 348 495.7 349.5 495.8 351.1 495.8 352.7 495.8 354.3 495.8 355.8 495.7 357.4 495.6 359 495.4 360.5 495.1M464.1 495.6 465.7 496.9 467.3 498.1 468.8 499.3M133.6 495.7 135.2 494.6 136.8 493.6 138.4 492.7 139.9 491.8M468 492.7 469.6 494 471.1 495.2 472.7 496.4M134.4 492.8 135.9 491.6 137.5 490.4 139.1 489.4M471.9 489.9 473.4 491.1 475 492.3 476.6 493.4M135.1 490 136.7 488.6 138.2 487.4 139.8 486.2M475.7 487 477.3 488.2 478.9 489.3 480.5 490.3M135.8 487.2 137.4 485.8 139 484.4 140.5 483.2M479.6 484 481.2 485.1 482.8 486.2 484.3 487.2 485.9 488.1M138.1 483.1 139.7 481.6 141.3 480.2M483.5 480.9 485.1 482 486.6 483 488.2 484 489.8 484.9M138.9 480.5 140.4 478.9 142 477.3M488.9 478.8 490.5 479.8 492.1 480.7 493.6 481.6M139.6 477.9 141.2 476.2 142.7 474.6M492.8 475.5 494.4 476.5 495.9 477.4 497.5 478.2 499.1 479M140.3 475.4 141.9 473.7 143.5 471.9M496.7 472.2 498.2 473.1 499.8 474 501.4 474.8 502.9 475.6 504.5 476.3M142.6 471.2 144.2 469.3 145.8 467.5M502.1 469.6 503.7 470.5 505.2 471.3 506.8 472.1 508.4 472.9M143.4 468.7 144.9 466.8 146.5 464.9M507.5 467 509.1 467.8 510.7 468.6 512.2 469.4 513.8 470.2M145.7 464.4 147.2 462.4M511.4 463.5 513 464.3 514.5 465.1 516.1 465.9 517.7 466.7 519.3 467.5M516.8 460.8 518.4 461.6 520 462.4 521.6 463.3 523.1 464M522.3 458.1 523.9 458.9 525.4 459.7 527 460.5 528.6 461.3M526.2 454.5 527.7 455.4 529.3 456.2 530.9 457 532.4 457.8 534 458.6M531.6 451.8 533.2 452.6 534.7 453.5 536.3 454.3 537.9 455.1 539.4 456M537 449.1 538.6 449.9 540.2 450.8 541.7 451.7 543.3 452.5M542.5 446.4 544 447.3 545.6 448.2 547.2 449.1 548.8 450M546.3 442.8 547.9 443.8 549.5 444.7 551.1 445.7 552.6 446.7" stroke="#526494" stroke-width="1.5" fill="none" stroke-linejoin="round"/>
<path d="M349.6 582.9 351.2 582.7 352.8 582.6 354.3 582.6 355.9 582.7 357.5 582.9 359 583.3M350.3 579.7 351.9 579.3 353.5 579.1 355.1 579 356.6 579 358.2 579.1 359.8 579.4 361.3 579.8 362.9 580.3M349.5 577 351.1 576.5 352.6 576.1 354.2 575.7 355.8 575.5 357.4 575.4 358.9 575.4 360.5 575.5 362.1 575.8 363.6 576.2 365.2 576.7 366.8 577.3M350.2 574.1 351.8 573.4 353.4 572.9 354.9 572.4 356.5 572.1 358.1 571.9 359.7 571.7 361.2 571.8 362.8 571.9 364.4 572.2 365.9 572.6 367.5 573.1 369.1 573.7 370.6 574.5M351 571.2 352.5 570.4 354.1 569.8 355.7 569.2 357.2 568.8 358.8 568.4 360.4 568.2 362 568.1 363.5 568.1 365.1 568.2 366.7 568.5 368.2 568.9 369.8 569.5 371.4 570.1 372.9 570.9 374.5 571.7M351.7 568.3 353.3 567.5 354.8 566.8 356.4 566.1 358 565.5 359.5 565 361.1 564.7M369 564.8 370.5 565.3 372.1 565.8 373.7 566.5 375.2 567.2 376.8 568.1 378.4 569.1M354 564.6 355.6 563.8 357.1 563 358.7 562.4 360.3 561.8M374.4 562.1 376 562.8 377.5 563.6 379.1 564.5 380.7 565.4M354.7 561.8 356.3 560.9 357.9 560.1 359.4 559.3 361 558.6M378.3 559 379.8 559.9 381.4 560.8 383 561.8 384.5 562.8M355.5 559.1 357 558.1 358.6 557.2 360.2 556.3 361.7 555.5M382.1 556.1 383.7 557.1 385.3 558.1 386.8 559.2 388.4 560.3M356.2 556.3 357.8 555.3 359.3 554.3 360.9 553.4 362.5 552.4M386 553.3 387.6 554.3 389.1 555.5 390.7 556.6 392.3 557.8M356.9 553.6 358.5 552.6 360.1 551.5 361.6 550.5 363.2 549.5M389.9 550.5 391.4 551.7 393 552.9 394.6 554.1M359.2 549.8 360.8 548.7 362.4 547.7 363.9 546.6M393.7 547.9 395.3 549.1 396.9 550.4 398.5 551.7M187.3 547.9 188.8 547.7 190.4 547.6 192 547.5 193.6 547.4 195.1 547.4 196.7 547.4 198.3 547.4 199.8 547.4 201.4 547.4 203 547.5 204.5 547.6 206.1 547.7 207.7 547.9 209.2 548M359.9 547.1 361.5 546 363.1 544.9 364.7 543.8M397.6 545.3 399.2 546.6 400.8 548M183.3 544.8 184.9 544.6 186.4 544.4 188 544.2 189.6 544 191.1 543.9 192.7 543.7 194.3 543.6 195.9 543.6 197.4 543.5 199 543.5 200.6 543.5 202.1 543.5 203.7 543.6 205.3 543.7 206.8 543.8 208.4 543.9 210 544 211.5 544.1 213.1 544.3 214.7 544.5 216.3 544.7 217.8 544.9 219.4 545.1M360.7 544.3 362.2 543.2 363.8 542.1 365.4 541M399.9 541.5 401.5 542.8 403.1 544.2 404.6 545.5M180.9 541.8 182.5 541.5 184 541.2 185.6 540.9 187.2 540.7 188.7 540.5 190.3 540.3 191.9 540.1 193.4 539.9 195 539.8 196.6 539.7 198.2 539.6 199.7 539.6 201.3 539.6 202.9 539.6 204.4 539.6 206 539.7 207.6 539.8 209.1 539.9 210.7 540 212.3 540.1 213.8 540.2 215.4 540.4 217 540.6 218.6 540.8 220.1 541 221.7 541.2 223.3 541.4 224.8 541.6 226.4 541.8 228 542.1 229.5 542.3M361.4 541.6 363 540.5 364.5 539.3 366.1 538.2M403.8 538.9 405.4 540.3 406.9 541.7 408.5 543.1M178.5 538.9 180 538.6 181.6 538.2 183.2 537.9 184.8 537.6 186.3 537.3 187.9 537 189.5 536.8 191 536.5 192.6 536.3 194.2 536.1 195.7 536 197.3 535.9 198.9 535.8 200.5 535.7 202 535.6 203.6 535.6 205.2 535.6 206.7 535.7 208.3 535.7 209.9 535.8 211.4 535.9 213 536 214.6 536.1 216.1 536.3 217.7 536.5 219.3 536.6 220.9 536.8 222.4 537 224 537.2 225.6 537.5 227.1 537.7 228.7 537.9 230.3 538.2 231.8 538.4 233.4 538.7 235 538.9 236.6 539.2M362.1 538.8 363.7 537.7 365.3 536.6 366.8 535.4M407.7 536.5 409.2 537.9 410.8 539.3M176.1 536.2 177.6 535.8 179.2 535.4 180.8 535 182.3 534.6 183.9 534.3 185.5 533.9 187.1 533.6 188.6 533.3 190.2 533 191.8 532.8 193.3 532.5M221.6 532.6 223.2 532.8 224.7 533 226.3 533.3 227.9 533.5 229.4 533.7 231 534 232.6 534.2 234.1 534.5 235.7 534.7 237.3 535 238.9 535.3 240.4 535.6 242 535.9 243.6 536.2 245.1 536.6M362.9 535.9 364.4 534.9 366 533.8 367.6 532.6 369.1 531.4M411.5 534 413.1 535.5 414.7 536.9M175.2 533.1 176.8 532.7 178.4 532.3 179.9 531.9 181.5 531.4 183.1 531 184.6 530.7 186.2 530.3 187.8 529.9 189.4 529.6M231.7 529.7 233.3 529.9 234.9 530.2 236.4 530.5 238 530.7 239.6 531 241.2 531.3 242.7 531.6 244.3 531.9 245.9 532.3 247.4 532.6 249 533 250.6 533.3M363.6 533.1 365.2 532 366.7 530.9 368.3 529.8 369.9 528.6M413.8 530.1 415.4 531.6 417 533.1 418.5 534.5M174.4 530.1 176 529.6 177.5 529.2 179.1 528.7 180.7 528.3 182.2 527.9 183.8 527.4 185.4 527 186.9 526.6M241.9 527 243.5 527.3 245 527.6 246.6 527.9 248.2 528.3 249.7 528.6 251.3 529 252.9 529.4 254.4 529.8 256 530.1 257.6 530.5M364.3 530.1 365.9 529.1 367.5 528 369 526.9 370.6 525.7M417.7 527.6 419.3 529.2 420.8 530.6M172 527.5 173.5 527 175.1 526.6 176.7 526.1 178.3 525.6 179.8 525.2 181.4 524.7 183 524.2 184.5 523.8M248.9 523.9 250.5 524.2 252 524.6 253.6 525 255.2 525.4 256.7 525.8 258.3 526.1 259.9 526.5 261.5 526.9 263 527.3 264.6 527.7M365.1 527.2 366.6 526.2 368.2 525.1 369.8 524 371.3 522.8M421.6 525.2 423.1 526.7 424.7 528.1M171.1 524.3 172.7 523.9 174.3 523.5 175.8 523 177.4 522.6 179 522.1 180.6 521.6 182.1 521.1 183.7 520.6M257.5 521.3 259 521.7 260.6 522.1 262.2 522.5 263.8 522.9 265.3 523.3 266.9 523.7 268.5 524.1 270 524.5 271.6 524.9M365.8 524.2 367.4 523.2 368.9 522.1 370.5 521 372.1 519.9M423.9 521.2 425.4 522.7 427 524.2 428.6 525.6M167.2 521.6 168.7 521.3 170.3 521 171.9 520.7 173.4 520.3 175 519.9 176.6 519.4 178.1 519 179.7 518.5 181.3 518 182.9 517.5M264.5 518.4 266.1 518.8 267.6 519.2 269.2 519.7 270.8 520.1 272.3 520.5 273.9 520.9 275.5 521.3 277 521.7M366.5 521.1 368.1 520.1 369.7 519.1 371.2 518 372.8 516.9M427.7 518.7 429.3 520.2 430.9 521.6M163.2 518.7 164.8 518.4 166.3 518.1 167.9 517.9 169.5 517.6 171 517.3 172.6 517 174.2 516.6 175.7 516.2 177.3 515.8 178.9 515.3 180.4 514.9M269.9 515.1 271.5 515.5 273.1 516 274.6 516.4 276.2 516.8 277.8 517.3 279.3 517.7 280.9 518.1 282.5 518.6 284.1 519M367.2 518 368.8 517.1 370.4 516.1 372 515M431.6 516.2 433.2 517.7 434.7 519M159.2 515.6 160.8 515.4 162.3 515.1 163.9 514.8 165.5 514.6 167.1 514.3 168.6 514 170.2 513.8 171.8 513.5 173.3 513.2 174.9 512.8 176.5 512.5 178 512.1M276.9 512.3 278.5 512.7 280.1 513.2 281.6 513.6 283.2 514 284.8 514.5 286.4 514.9 287.9 515.3 289.5 515.8 291.1 516.2M368 514.9 369.5 514 371.1 513 372.7 511.9M435.5 513.6 437 515 438.6 516.4M155.2 512.7 156.8 512.4 158.4 512.1 159.9 511.8 161.5 511.5 163.1 511.2 164.6 511 166.2 510.7 167.8 510.4 169.4 510.2 170.9 509.9 172.5 509.6 174.1 509.3 175.6 509M283.9 509.4 285.5 509.9 287.1 510.3 288.7 510.8 290.2 511.2 291.8 511.7 293.4 512.1 294.9 512.5 296.5 513M367.1 512.6 368.7 511.7 370.3 510.8 371.8 509.8 373.4 508.8M437.8 509.5 439.3 511 440.9 512.4 442.5 513.7M151.2 509.9 152.8 509.6 154.4 509.2 156 508.9 157.5 508.6 159.1 508.3 160.7 507.9 162.2 507.6 163.8 507.3 165.4 507.1 166.9 506.8 168.5 506.5 170.1 506.2M291 506.6 292.5 507.1 294.1 507.5 295.7 508 297.2 508.4 298.8 508.8 300.4 509.3 301.9 509.7 303.5 510.1M367.9 509.4 369.4 508.5 371 507.6 372.6 506.6 374.1 505.6M441.6 506.9 443.2 508.3 444.8 509.6 446.4 510.9M148.8 506.8 150.4 506.5 152 506.1 153.5 505.8 155.1 505.4 156.7 505.1 158.3 504.7 159.8 504.4 161.4 504 163 503.7 164.5 503.4 166.1 503.1M298 503.8 299.5 504.2 301.1 504.7 302.7 505.1 304.2 505.6 305.8 506 307.4 506.4 308.9 506.8 310.5 507.2M367 506.9 368.6 506.1 370.2 505.2 371.7 504.3 373.3 503.4M445.5 504.2 447.1 505.6 448.7 506.9 450.2 508.1M144.9 504 146.4 503.6 148 503.3 149.6 503 151.1 502.6 152.7 502.3 154.3 501.9 155.8 501.6 157.4 501.2 159 500.8 160.6 500.5M305 500.9 306.5 501.3 308.1 501.8 309.7 502.2 311.2 502.6 312.8 503.1 314.4 503.5 316 503.8 317.5 504.2M367.8 503.5 369.3 502.7 370.9 501.9 372.5 501 374 500.1M449.4 501.4 451 502.8 452.5 504.1 454.1 505.3M142.4 500.9 144 500.5 145.6 500.1 147.2 499.8 148.7 499.4 150.3 499.1 151.9 498.7 153.4 498.4 155 498 156.6 497.6 158.1 497.3M312 498 313.5 498.4 315.1 498.9 316.7 499.3 318.3 499.7 319.8 500.1 321.4 500.4 323 500.8 324.5 501.1 326.1 501.5M365.3 501.1 366.9 500.6 368.5 499.9 370.1 499.2 371.6 498.5 373.2 497.6 374.8 496.7M453.3 498.6 454.8 499.9 456.4 501.2M140 498.2 141.6 497.7 143.2 497.2 144.7 496.7 146.3 496.3 147.9 495.9 149.5 495.5 151 495.1 152.6 494.8 154.2 494.4M319 495 320.6 495.4 322.1 495.8 323.7 496.2 325.3 496.6 326.8 496.9 328.4 497.3 330 497.6 331.5 497.9 333.1 498.2 334.7 498.5M364.5 497.9 366.1 497.4 367.6 496.9 369.2 496.3 370.8 495.7 372.4 494.9 373.9 494.1M457.1 495.7 458.7 497.1 460.3 498.4M139.2 495.3 140.8 494.6 142.3 494 143.9 493.4 145.5 492.9 147 492.4 148.6 492 150.2 491.6M326 491.9 327.6 492.3 329.1 492.7 330.7 493 332.3 493.4 333.8 493.7 335.4 494 337 494.3 338.6 494.5 340.1 494.8 341.7 495 343.3 495.2 344.8 495.4M360.5 495.1 362.1 494.8 363.7 494.5 365.2 494.1 366.8 493.7 368.4 493.2 369.9 492.6 371.5 492 373.1 491.3M461 492.9 462.6 494.2 464.1 495.6M139.9 491.8 141.5 491.1 143.1 490.3 144.6 489.7 146.2 489.1 147.8 488.6M334.6 489.1 336.1 489.4 337.7 489.7 339.3 490 340.9 490.3 342.4 490.5 344 490.8 345.6 491 347.1 491.2 348.7 491.3 350.3 491.4 351.8 491.5 353.4 491.6 355 491.6 356.6 491.5 358.1 491.5 359.7 491.3 361.3 491.1 362.8 490.9 364.4 490.6 366 490.2 367.5 489.8 369.1 489.3 370.7 488.8 372.2 488.2M464.9 490 466.4 491.4 468 492.7M139.1 489.4 140.7 488.4 142.2 487.6 143.8 486.8 145.4 486 146.9 485.3M343.2 485.9 344.7 486.2 346.3 486.4 347.9 486.7 349.4 486.8 351 487 352.6 487.1 354.1 487.2 355.7 487.3 357.3 487.3 358.9 487.2 360.4 487.1 362 487 363.6 486.8 365.1 486.5 366.7 486.2 368.3 485.8M468.7 487.1 470.3 488.5 471.9 489.9M139.8 486.2 141.4 485.1 143 484.1 144.5 483.2 146.1 482.4M472.6 484.3 474.2 485.6 475.7 487M140.5 483.2 142.1 481.9 143.7 480.8 145.3 479.8M476.5 481.4 478 482.7 479.6 484M141.3 480.2 142.8 478.8 144.4 477.6 146 476.4M480.3 478.4 481.9 479.7 483.5 480.9M142 477.3 143.6 475.9 145.1 474.5 146.7 473.1M484.2 475.4 485.8 476.6 487.4 477.7 488.9 478.8M142.7 474.6 144.3 473 145.9 471.4 147.4 470M488.1 472.2 489.7 473.4 491.2 474.5 492.8 475.5M143.5 471.9 145 470.2 146.6 468.5 148.2 467M492 469 493.5 470.1 495.1 471.2 496.7 472.2M145.8 467.5 147.3 465.8 148.9 464M495.8 465.7 497.4 466.8 499 467.8 500.5 468.7 502.1 469.6M146.5 464.9 148.1 463.1 149.6 461.2M501.3 463.3 502.8 464.3 504.4 465.3 506 466.1 507.5 467M147.2 462.4 148.8 460.4 150.4 458.5M505.1 459.8 506.7 460.8 508.3 461.7 509.8 462.6 511.4 463.5M148 459.9 149.5 457.9 151.1 455.9M510.6 457.2 512.1 458.1 513.7 459 515.3 459.9 516.8 460.8M150.3 455.4 151.8 453.3M516 454.5 517.6 455.4 519.1 456.3 520.7 457.2 522.3 458.1M519.9 450.8 521.4 451.8 523 452.7 524.6 453.6 526.2 454.5M525.3 448.1 526.9 449.1 528.5 450 530 450.9 531.6 451.8M530.8 445.4 532.3 446.4 533.9 447.3 535.5 448.2 537 449.1M536.2 442.7 537.8 443.6 539.3 444.6 540.9 445.5 542.5 446.4M541.6 440 543.2 440.9 544.8 441.9 546.3 442.8" stroke="#58608e" stroke-width="1.5" fill="none" stroke-linejoin="round"/>
<path d="M361.1 564.7 362.7 564.4 364.3 564.3 365.8 564.4 367.4 564.5 369 564.8M360.3 561.8 361.8 561.3 363.4 560.9 365 560.7 366.6 560.6 368.1 560.6 369.7 560.8 371.3 561.1 372.8 561.5 374.4 562.1M361 558.6 362.6 558 364.1 557.5 365.7 557.1 367.3 556.9 368.9 556.8 370.4 556.8 372 557 373.6 557.3 375.1 557.7 376.7 558.3 378.3 559M361.7 555.5 363.3 554.8 364.9 554.1 366.4 553.6 368 553.3 369.6 553 371.2 552.9 372.7 552.9 374.3 553.1 375.9 553.5 377.4 553.9 379 554.5 380.6 555.3 382.1 556.1M362.5 552.4 364 551.6 365.6 550.9 367.2 550.2 368.7 549.7 370.3 549.3M378.2 549.6 379.7 550.1 381.3 550.7 382.9 551.4 384.4 552.3 386 553.3M363.2 549.5 364.8 548.6 366.3 547.7 367.9 546.9 369.5 546.3M383.6 546.8 385.2 547.6 386.7 548.5 388.3 549.5 389.9 550.5M363.9 546.6 365.5 545.6 367.1 544.6 368.6 543.7 370.2 543M387.5 543.6 389 544.6 390.6 545.6 392.2 546.7 393.7 547.9M364.7 543.8 366.2 542.7 367.8 541.6 369.4 540.6 370.9 539.7M392.9 541.7 394.5 542.8 396 544.1 397.6 545.3M365.4 541 367 539.8 368.5 538.7 370.1 537.6M396.8 538.9 398.3 540.2 399.9 541.5M366.1 538.2 367.7 537 369.3 535.8 370.8 534.7M399.1 534.9 400.6 536.2 402.2 537.6 403.8 538.9M366.8 535.4 368.4 534.2 370 533 371.6 531.7M402.9 532.2 404.5 533.6 406.1 535 407.7 536.5M193.3 532.5 194.9 532.3 196.5 532.1 198 532 199.6 531.8 201.2 531.7 202.8 531.7 204.3 531.6 205.9 531.6 207.5 531.6 209 531.6 210.6 531.7 212.2 531.8 213.7 531.9 215.3 532 216.9 532.1 218.4 532.3 220 532.4 221.6 532.6M369.1 531.4 370.7 530.1 372.3 528.9M406.8 529.6 408.4 531 410 532.5 411.5 534M189.4 529.6 190.9 529.3 192.5 529 194.1 528.7 195.6 528.5 197.2 528.2 198.8 528.1 200.3 527.9 201.9 527.8 203.5 527.6 205.1 527.6 206.6 527.5 208.2 527.5 209.8 527.5 211.3 527.5 212.9 527.6 214.5 527.7 216 527.8 217.6 527.9 219.2 528.1 220.7 528.2 222.3 528.4 223.9 528.6 225.5 528.8 227 529 228.6 529.2 230.2 529.4 231.7 529.7M369.9 528.6 371.4 527.3 373 526 374.6 524.7M410.7 527 412.3 528.5 413.8 530.1M186.9 526.6 188.5 526.2 190.1 525.8 191.7 525.5 193.2 525.2 194.8 524.9 196.4 524.6 197.9 524.3 199.5 524.1 201.1 523.9 202.6 523.7 204.2 523.6 205.8 523.5 207.4 523.4 208.9 523.4 210.5 523.4 212.1 523.4 213.6 523.4 215.2 523.5 216.8 523.5 218.3 523.7 219.9 523.8 221.5 523.9 223 524.1 224.6 524.2 226.2 524.4 227.8 524.6 229.3 524.9 230.9 525.1 232.5 525.3 234 525.6 235.6 525.9 237.2 526.1 238.7 526.4 240.3 526.7 241.9 527M370.6 525.7 372.2 524.5 373.7 523.2 375.3 521.8M414.6 524.5 416.1 526.1 417.7 527.6M184.5 523.8 186.1 523.3 187.7 522.9 189.2 522.5 190.8 522.1 192.4 521.7 194 521.3 195.5 521 197.1 520.7 198.7 520.4 200.2 520.1M228.5 520.2 230.1 520.5 231.6 520.7 233.2 520.9 234.8 521.2 236.3 521.4 237.9 521.7 239.5 522 241 522.3 242.6 522.6 244.2 522.9 245.8 523.2 247.3 523.5 248.9 523.9M371.3 522.8 372.9 521.6 374.5 520.3 376 519M416.9 520.4 418.4 522 420 523.6 421.6 525.2M183.7 520.6 185.3 520.1 186.8 519.7 188.4 519.2 190 518.8 191.5 518.3 193.1 517.9 194.7 517.5 196.3 517.1M240.2 517.5 241.8 517.8 243.3 518.1 244.9 518.4 246.5 518.7 248.1 519 249.6 519.4 251.2 519.7 252.8 520.1 254.3 520.5 255.9 520.9 257.5 521.3M372.1 519.9 373.6 518.7 375.2 517.4 376.8 516.1M420.7 517.9 422.3 519.6 423.9 521.2M182.9 517.5 184.4 517 186 516.5 187.6 516 189.1 515.5 190.7 515 192.3 514.5 193.8 514.1M248.8 514.5 250.4 514.8 251.9 515.2 253.5 515.5 255.1 515.9 256.6 516.3 258.2 516.7 259.8 517.1 261.3 517.6 262.9 518 264.5 518.4M372.8 516.9 374.4 515.7 375.9 514.5 377.5 513.2M424.6 515.5 426.2 517.1 427.7 518.7M180.4 514.9 182 514.4 183.6 513.8 185.2 513.3 186.7 512.8 188.3 512.3 189.9 511.7 191.4 511.2M257.4 511.6 258.9 512.1 260.5 512.5 262.1 512.9 263.6 513.4 265.2 513.8 266.8 514.2 268.4 514.7 269.9 515.1M372 515 373.5 513.9 375.1 512.7 376.7 511.5 378.2 510.2M428.5 513 430 514.6 431.6 516.2M178 512.1 179.6 511.6 181.2 511.2 182.7 510.7 184.3 510.1 185.9 509.6 187.5 509.1 189 508.5 190.6 508M264.4 508.6 265.9 509.1 267.5 509.5 269.1 510 270.7 510.5 272.2 510.9 273.8 511.4 275.4 511.8 276.9 512.3M372.7 511.9 374.3 510.8 375.8 509.7 377.4 508.4M430.8 508.8 432.3 510.5 433.9 512.1 435.5 513.6M175.6 509 177.2 508.7 178.8 508.3 180.3 507.9 181.9 507.4 183.5 506.9 185 506.4 186.6 505.9 188.2 505.3M271.4 505.7 273 506.2 274.5 506.6 276.1 507.1 277.7 507.6 279.2 508 280.8 508.5 282.4 509 283.9 509.4M373.4 508.8 375 507.7 376.6 506.5 378.1 505.4M434.6 506.3 436.2 508 437.8 509.5M170.1 506.2 171.7 506 173.2 505.7 174.8 505.4 176.4 505.1 177.9 504.8 179.5 504.4 181.1 504 182.6 503.6 184.2 503.1 185.8 502.6M278.4 502.8 280 503.3 281.5 503.8 283.1 504.2 284.7 504.7 286.2 505.2 287.8 505.7 289.4 506.1 291 506.6M374.1 505.6 375.7 504.5 377.3 503.4 378.9 502.2M438.5 503.7 440.1 505.4 441.6 506.9M166.1 503.1 167.7 502.8 169.2 502.5 170.8 502.2 172.4 502 174 501.7 175.5 501.4 177.1 501.1 178.7 500.8 180.2 500.4 181.8 500.1 183.4 499.7M285.4 499.9 287 500.4 288.5 500.9 290.1 501.4 291.7 501.9 293.3 502.4 294.8 502.8 296.4 503.3 298 503.8M373.3 503.4 374.9 502.3 376.4 501.3 378 500.2 379.6 499M442.4 501.1 443.9 502.7 445.5 504.2M160.6 500.5 162.1 500.1 163.7 499.8 165.3 499.4 166.8 499.1 168.4 498.8 170 498.5 171.5 498.2 173.1 497.9 174.7 497.6 176.3 497.3 177.8 497 179.4 496.7M292.4 497 294 497.5 295.6 498 297.1 498.5 298.7 499 300.3 499.5 301.8 500 303.4 500.4 305 500.9M374 500.1 375.6 499.1 377.2 498 378.7 496.9 380.3 495.8M444.7 496.8 446.2 498.5 447.8 500 449.4 501.4M158.1 497.3 159.7 496.9 161.3 496.5 162.9 496.1 164.4 495.7 166 495.4 167.6 495 169.1 494.7 170.7 494.4 172.3 494.1 173.8 493.8M299.4 494.1 301 494.6 302.6 495.1 304.1 495.6 305.7 496.1 307.3 496.6 308.8 497.1 310.4 497.5 312 498M374.8 496.7 376.3 495.7 377.9 494.7 379.5 493.6M448.5 494.1 450.1 495.7 451.7 497.2 453.3 498.6M154.2 494.4 155.7 494.1 157.3 493.7 158.9 493.3 160.4 492.9 162 492.5 163.6 492.1 165.2 491.7 166.7 491.3 168.3 491M306.4 491.2 308 491.7 309.6 492.2 311.1 492.7 312.7 493.2 314.3 493.7 315.8 494.1 317.4 494.6 319 495M373.9 494.1 375.5 493.3 377.1 492.3 378.6 491.3 380.2 490.2M452.4 491.4 454 492.9 455.6 494.4 457.1 495.7M150.2 491.6 151.8 491.2 153.3 490.8 154.9 490.4 156.5 490 158 489.7 159.6 489.3 161.2 488.9 162.7 488.4 164.3 488M313.4 488.3 315 488.8 316.6 489.3 318.1 489.8 319.7 490.2 321.3 490.7 322.9 491.1 324.4 491.5 326 491.9M373.1 491.3 374.7 490.6 376.2 489.7 377.8 488.8 379.4 487.9M456.3 488.5 457.9 490 459.4 491.5 461 492.9M147.8 488.6 149.3 488.1 150.9 487.6 152.5 487.2 154.1 486.7 155.6 486.3 157.2 486 158.8 485.6 160.3 485.2 161.9 484.8M320.4 485.3 322 485.8 323.6 486.3 325.2 486.7 326.7 487.1 328.3 487.6 329.9 488 331.4 488.3 333 488.7 334.6 489.1M372.2 488.2 373.8 487.6 375.4 486.9 377 486.1 378.5 485.3 380.1 484.3M460.2 485.7 461.7 487.2 463.3 488.6 464.9 490M146.9 485.3 148.5 484.7 150.1 484.1 151.6 483.6 153.2 483.1 154.8 482.7 156.4 482.2 157.9 481.8M327.5 482.2 329 482.7 330.6 483.1 332.2 483.5 333.7 483.9 335.3 484.3 336.9 484.7 338.4 485 340 485.3 341.6 485.6 343.2 485.9M368.3 485.8 369.8 485.4 371.4 484.9 373 484.4 374.5 483.8 376.1 483.1 377.7 482.4 379.3 481.6M464 482.7 465.6 484.3 467.2 485.7 468.7 487.1M146.1 482.4 147.7 481.6 149.2 480.9 150.8 480.2 152.4 479.6 153.9 479.1M336 479.4 337.6 479.8 339.2 480.2 340.7 480.6 342.3 480.9 343.9 481.2 345.5 481.5 347 481.8 348.6 482 350.2 482.3 351.7 482.5 353.3 482.6 354.9 482.8 356.4 482.9 358 482.9 359.6 482.9 361.2 482.9 362.7 482.8 364.3 482.6 365.9 482.4 367.4 482.1 369 481.8 370.6 481.4 372.1 480.9 373.7 480.4 375.3 479.9 376.8 479.2M467.9 479.8 469.5 481.3 471 482.8 472.6 484.3M145.3 479.8 146.8 478.8 148.4 477.9 150 477.1 151.5 476.4M344.6 476.4 346.2 476.7 347.8 477 349.3 477.3 350.9 477.6 352.5 477.8 354 478 355.6 478.2 357.2 478.3 358.7 478.4 360.3 478.5 361.9 478.4 363.5 478.4 365 478.3 366.6 478.1 368.2 477.9 369.7 477.6 371.3 477.2 372.9 476.8 374.4 476.4M471.8 476.9 473.3 478.4 474.9 479.9 476.5 481.4M146 476.4 147.6 475.3 149.1 474.3 150.7 473.4M357.9 473.6 359.5 473.8 361 473.9 362.6 473.9 364.2 473.9 365.8 473.8 367.3 473.7 368.9 473.5 370.5 473.3M475.6 473.9 477.2 475.5 478.8 477 480.3 478.4M146.7 473.1 148.3 471.9 149.9 470.8 151.4 469.7M479.5 471 481.1 472.5 482.6 474 484.2 475.4M147.4 470 149 468.6 150.6 467.3M483.4 468 484.9 469.5 486.5 470.9 488.1 472.2M148.2 467 149.7 465.4 151.3 464M487.2 465 488.8 466.4 490.4 467.8 492 469M148.9 464 150.5 462.4 152 460.8M491.1 461.8 492.7 463.2 494.3 464.5 495.8 465.7M149.6 461.2 151.2 459.4 152.8 457.7M496.6 459.9 498.1 461.1 499.7 462.3 501.3 463.3M150.4 458.5 151.9 456.6 153.5 454.7M500.4 456.5 502 457.7 503.6 458.8 505.1 459.8M151.1 455.9 152.7 453.9 154.2 451.9M505.9 454.2 507.4 455.2 509 456.2 510.6 457.2M151.8 453.3 153.4 451.2 155 449.1M509.7 450.5 511.3 451.6 512.9 452.6 514.4 453.6 516 454.5M152.6 450.8 154.1 448.6 155.7 446.4M515.2 447.9 516.7 448.9 518.3 449.9 519.9 450.8M154.9 446.1 156.4 443.8M520.6 445.2 522.2 446.2 523.7 447.2 525.3 448.1M524.5 441.4 526 442.4 527.6 443.5 529.2 444.4 530.8 445.4M529.9 438.7 531.5 439.7 533.1 440.7 534.6 441.7 536.2 442.7M535.4 436 536.9 437 538.5 438 540.1 439 541.6 440" stroke="#5c5c89" stroke-width="1.5" fill="none" stroke-linejoin="round"/>
<path d="M370.3 549.3 371.9 549.1 373.5 549 375 549 376.6 549.2 378.2 549.6M369.5 546.3 371 545.8 372.6 545.4 374.2 545.1 375.8 545 377.3 545.1 378.9 545.3 380.5 545.6 382 546.1 383.6 546.8M370.2 543 371.8 542.3 373.3 541.8 374.9 541.4 376.5 541.1 378.1 541 379.6 541.1 381.2 541.3 382.8 541.6 384.3 542.2 385.9 542.8 387.5 543.6M370.9 539.7 372.5 538.9 374.1 538.2 375.6 537.7 377.2 537.3 378.8 537 380.4 536.9M381.9 537 383.5 537.2 385.1 537.6 386.6 538.1 388.2 538.8 389.8 539.6 391.3 540.6 392.9 541.7M370.1 537.6 371.7 536.6 373.2 535.6 374.8 534.8 376.4 534.1 377.9 533.5M390.5 534.7 392.1 535.6 393.6 536.6 395.2 537.7 396.8 538.9M370.8 534.7 372.4 533.5 374 532.5 375.5 531.5 377.1 530.6M394.4 531.5 395.9 532.5 397.5 533.7 399.1 534.9M371.6 531.7 373.1 530.5 374.7 529.4 376.3 528.3 377.8 527.3M398.2 528.4 399.8 529.6 401.4 530.8 402.9 532.2M372.3 528.9 373.9 527.6 375.4 526.4 377 525.2M402.1 525.4 403.7 526.7 405.2 528.1 406.8 529.6M374.6 524.7 376.2 523.4 377.7 522.1M406 522.5 407.5 524 409.1 525.5 410.7 527M375.3 521.8 376.9 520.5 378.5 519.1M409.8 519.8 411.4 521.3 413 522.9 414.6 524.5M200.2 520.1 201.8 519.9 203.4 519.7 204.9 519.5 206.5 519.4 208.1 519.3 209.7 519.2 211.2 519.2 212.8 519.1 214.4 519.1 215.9 519.2 217.5 519.2 219.1 519.3 220.6 519.4 222.2 519.6 223.8 519.7 225.3 519.9 226.9 520.1 228.5 520.2M376 519 377.6 517.6 379.2 516.2M413.7 517.1 415.3 518.7 416.9 520.4M196.3 517.1 197.8 516.8 199.4 516.4 201 516.1 202.5 515.9 204.1 515.6 205.7 515.4 207.2 515.3 208.8 515.1 210.4 515 212 514.9 213.5 514.9 215.1 514.8 216.7 514.9 218.2 514.9 219.8 515 221.4 515.1 222.9 515.2 224.5 515.3 226.1 515.4 227.6 515.6 229.2 515.8 230.8 516 232.4 516.2 233.9 516.4 235.5 516.7 237.1 516.9 238.6 517.2 240.2 517.5M376.8 516.1 378.3 514.7 379.9 513.3M417.6 514.5 419.2 516.2 420.7 517.9M193.8 514.1 195.4 513.6 197 513.2 198.6 512.8 200.1 512.5 201.7 512.1 203.3 511.8 204.8 511.5 206.4 511.3 208 511.1 209.5 510.9 211.1 510.8 212.7 510.6M225.2 510.8 226.8 510.9 228.4 511.1 229.9 511.2 231.5 511.4 233.1 511.6 234.7 511.9 236.2 512.1 237.8 512.4 239.4 512.6 240.9 512.9 242.5 513.2 244.1 513.5 245.6 513.8 247.2 514.1 248.8 514.5M377.5 513.2 379.1 511.8 380.6 510.4M421.5 512 423 513.7 424.6 515.5M191.4 511.2 193 510.7 194.6 510.2 196.1 509.8 197.7 509.3 199.3 508.9 200.9 508.5 202.4 508.1 204 507.7M240.1 508 241.7 508.3 243.2 508.5 244.8 508.8 246.4 509.2 247.9 509.5 249.5 509.8 251.1 510.1 252.7 510.5 254.2 510.9 255.8 511.3 257.4 511.6M378.2 510.2 379.8 508.8 381.4 507.4M425.3 509.5 426.9 511.3 428.5 513M190.6 508 192.2 507.4 193.7 506.9 195.3 506.4 196.9 505.9 198.4 505.4 200 504.9 201.6 504.4M250.2 505.1 251.8 505.4 253.4 505.8 255 506.1 256.5 506.5 258.1 506.9 259.7 507.3 261.2 507.7 262.8 508.2 264.4 508.6M377.4 508.4 379 507.2 380.5 505.8 382.1 504.4M427.6 505.2 429.2 507 430.8 508.8M188.2 505.3 189.8 504.8 191.3 504.2 192.9 503.6 194.5 503 196 502.5 197.6 501.9 199.2 501.4M258.8 502.1 260.4 502.5 262 502.9 263.5 503.4 265.1 503.8 266.7 504.3 268.2 504.7 269.8 505.2 271.4 505.7M378.1 505.4 379.7 504.1 381.3 502.8 382.8 501.4M431.5 502.7 433.1 504.5 434.6 506.3M185.8 502.6 187.3 502.1 188.9 501.5 190.5 501 192.1 500.4 193.6 499.8 195.2 499.2 196.8 498.6M267.4 499.4 269 499.8 270.5 500.3 272.1 500.8 273.7 501.3 275.3 501.8 276.8 502.3 278.4 502.8M378.9 502.2 380.4 501 382 499.7 383.6 498.3M435.4 500.2 436.9 502 438.5 503.7M183.4 499.7 184.9 499.2 186.5 498.8 188.1 498.2 189.6 497.7 191.2 497.1 192.8 496.5 194.4 495.9M274.4 496.3 276 496.9 277.6 497.4 279.1 497.9 280.7 498.4 282.3 498.9 283.8 499.4 285.4 499.9M379.6 499 381.2 497.8 382.7 496.5 384.3 495.2M439.2 497.7 440.8 499.5 442.4 501.1M179.4 496.7 181 496.4 182.5 496 184.1 495.7 185.7 495.3 187.2 494.8 188.8 494.3 190.4 493.8 191.9 493.2 193.5 492.6M281.4 493.4 283 493.9 284.6 494.4 286.1 494.9 287.7 495.5 289.3 496 290.8 496.5 292.4 497M380.3 495.8 381.9 494.6 383.5 493.3 385 492M441.5 493.2 443.1 495.1 444.7 496.8M173.8 493.8 175.4 493.5 177 493.2 178.6 492.9 180.1 492.6 181.7 492.3 183.3 491.9 184.8 491.6 186.4 491.2 188 490.8 189.5 490.3 191.1 489.8M288.4 490.4 290 491 291.6 491.5 293.1 492 294.7 492.6 296.3 493.1 297.9 493.6 299.4 494.1M379.5 493.6 381 492.5 382.6 491.3 384.2 490M445.4 490.7 447 492.5 448.5 494.1M168.3 491 169.9 490.6 171.4 490.2 173 489.9 174.6 489.6 176.1 489.3 177.7 489 179.3 488.7 180.9 488.3 182.4 488 184 487.7 185.6 487.4 187.1 487M295.4 487.5 297 488 298.6 488.6 300.2 489.1 301.7 489.7 303.3 490.2 304.9 490.7 306.4 491.2M380.2 490.2 381.8 489.1 383.3 487.9 384.9 486.7M449.3 488 450.8 489.7 452.4 491.4M164.3 488 165.9 487.6 167.5 487.2 169 486.8 170.6 486.4 172.2 486.1 173.7 485.7 175.3 485.4 176.9 485 178.4 484.7 180 484.4M302.5 484.6 304 485.1 305.6 485.7 307.2 486.2 308.7 486.7 310.3 487.3 311.9 487.8 313.4 488.3M379.4 487.9 380.9 486.8 382.5 485.7 384.1 484.5 385.6 483.3M453.1 485.3 454.7 487 456.3 488.5M161.9 484.8 163.5 484.3 165 483.9 166.6 483.5 168.2 483 169.8 482.6 171.3 482.2 172.9 481.8 174.5 481.4M309.5 481.6 311 482.2 312.6 482.7 314.2 483.2 315.7 483.8 317.3 484.3 318.9 484.8 320.4 485.3M380.1 484.3 381.7 483.3 383.2 482.2 384.8 481.1M457 482.5 458.6 484.1 460.2 485.7M157.9 481.8 159.5 481.4 161.1 481 162.6 480.6 164.2 480.2 165.8 479.7 167.3 479.3 168.9 478.8 170.5 478.4M316.5 478.6 318 479.2 319.6 479.7 321.2 480.2 322.7 480.8 324.3 481.3 325.9 481.8 327.5 482.2M379.3 481.6 380.8 480.7 382.4 479.7 384 478.7 385.5 477.5M460.9 479.6 462.5 481.2 464 482.7M153.9 479.1 155.5 478.6 157.1 478.1 158.7 477.6 160.2 477.2 161.8 476.8 163.4 476.4 164.9 475.9 166.5 475.5M325 476.1 326.6 476.7 328.2 477.2 329.8 477.7 331.3 478.1 332.9 478.6 334.5 479 336 479.4M376.8 479.2 378.4 478.6 380 477.8 381.6 477 383.1 476.1 384.7 475M464.8 476.6 466.3 478.3 467.9 479.8M151.5 476.4 153.1 475.7 154.7 475 156.2 474.5 157.8 473.9 159.4 473.4 161 473 162.5 472.5M332.1 473 333.6 473.5 335.2 474 336.8 474.4 338.3 474.9 339.9 475.3 341.5 475.7 343 476 344.6 476.4M374.4 476.4 376 475.8 377.6 475.3 379.1 474.6 380.7 473.9 382.3 473.1 383.9 472.3M468.6 473.7 470.2 475.3 471.8 476.9M150.7 473.4 152.3 472.5 153.8 471.7 155.4 471 157 470.4 158.5 469.8M340.6 470.2 342.2 470.6 343.8 471 345.3 471.4 346.9 471.8 348.5 472.1 350.1 472.4 351.6 472.7 353.2 473 354.8 473.2 356.3 473.4 357.9 473.6M370.5 473.3 372 473 373.6 472.6 375.2 472.2 376.7 471.7 378.3 471.2 379.9 470.6 381.4 469.9 383 469.2M472.5 470.7 474.1 472.3 475.6 473.9M151.4 469.7 153 468.7 154.6 467.8 156.1 467 157.7 466.3M349.2 467.1 350.8 467.4 352.4 467.8 353.9 468.1 355.5 468.3 357.1 468.6 358.6 468.8 360.2 469 361.8 469.1 363.3 469.2 364.9 469.3 366.5 469.3 368.1 469.2 369.6 469.1 371.2 468.9 372.8 468.6 374.3 468.3 375.9 467.9 377.5 467.5 379 467 380.6 466.4M476.4 467.7 477.9 469.4 479.5 471M150.6 467.3 152.2 466.1 153.7 465 155.3 464 156.9 463.1M360.9 464.1 362.5 464.2 364.1 464.4 365.6 464.5 367.2 464.5 368.8 464.5 370.4 464.5 371.9 464.3 373.5 464.1 375.1 463.9M480.2 464.7 481.8 466.4 483.4 468M151.3 464 152.9 462.7 154.5 461.4 156 460.2M484.1 461.7 485.7 463.4 487.2 465M152 460.8 153.6 459.3 155.2 457.9M488 458.7 489.5 460.3 491.1 461.8M152.8 457.7 154.3 456.1 155.9 454.5M491.8 455.6 493.4 457.1 495 458.6 496.6 459.9M153.5 454.7 155.1 452.9 156.6 451.2M495.7 452.4 497.3 453.9 498.9 455.2 500.4 456.5M154.2 451.9 155.8 449.9 157.4 448.1M501.2 450.5 502.7 451.8 504.3 453 505.9 454.2M155 449.1 156.5 447.1 158.1 445M505 447 506.6 448.2 508.2 449.4 509.7 450.5M155.7 446.4 157.3 444.3 158.8 442.1M510.5 444.6 512 445.8 513.6 446.9 515.2 447.9M156.4 443.8 158 441.6 159.6 439.3M514.3 440.9 515.9 442 517.5 443.1 519 444.2 520.6 445.2M157.2 441.3 158.7 438.9 160.3 436.6M519.8 438.2 521.3 439.3 522.9 440.4 524.5 441.4M159.5 436.3 161 433.9M525.2 435.5 526.8 436.5 528.3 437.6 529.9 438.7M530.6 432.7 532.2 433.8 533.8 434.9 535.4 436" stroke="#605885" stroke-width="1.5" fill="none" stroke-linejoin="round"/>
<path d="M380.4 536.9 381.9 537M377.9 533.5 379.5 533.1 381.1 532.9 382.7 532.8 384.2 532.8 385.8 533.1 387.4 533.5 388.9 534 390.5 534.7M377.1 530.6 378.7 529.9 380.2 529.3 381.8 528.9 383.4 528.6 385 528.5 386.5 528.6 388.1 528.9 389.7 529.3 391.2 529.9 392.8 530.6 394.4 531.5M377.8 527.3 379.4 526.4 381 525.7 382.5 525.1 384.1 524.6 385.7 524.4M390.4 524.6 392 525 393.5 525.6 395.1 526.4 396.7 527.3 398.2 528.4M377 525.2 378.6 524 380.1 523 381.7 522.1 383.3 521.3M397.4 522.1 399 523.1 400.5 524.2 402.1 525.4M377.7 522.1 379.3 520.9 380.9 519.7 382.4 518.7M401.3 518.8 402.8 519.9 404.4 521.2 406 522.5M378.5 519.1 380 517.8 381.6 516.5 383.2 515.3M406.7 516.9 408.3 518.3 409.8 519.8M379.2 516.2 380.8 514.8 382.3 513.4 383.9 512.1M410.6 514 412.1 515.5 413.7 517.1M379.9 513.3 381.5 511.8 383.1 510.4 384.6 509M414.4 511.2 416 512.8 417.6 514.5M212.7 510.6 214.3 510.6 215.8 510.5 217.4 510.5 219 510.5 220.5 510.5 222.1 510.6 223.7 510.7 225.2 510.8M380.6 510.4 382.2 508.9 383.8 507.4 385.4 505.9M418.3 508.5 419.9 510.2 421.5 512M204 507.7 205.6 507.4 207.1 507.1 208.7 506.9 210.3 506.7 211.8 506.5 213.4 506.3 215 506.2 216.6 506.1 218.1 506.1 219.7 506 221.3 506.1 222.8 506.1 224.4 506.2 226 506.3 227.5 506.4 229.1 506.5 230.7 506.7 232.2 506.8 233.8 507 235.4 507.2 237 507.5 238.5 507.7 240.1 508M381.4 507.4 382.9 505.9 384.5 504.4 386.1 502.8M422.2 505.8 423.8 507.7 425.3 509.5M201.6 504.4 203.2 504 204.7 503.6 206.3 503.3 207.9 502.9 209.4 502.6 211 502.4 212.6 502.1 214.1 501.9 215.7 501.8 217.3 501.7 218.9 501.6 220.4 501.5 222 501.5 223.6 501.5 225.1 501.6 226.7 501.6 228.3 501.7 229.8 501.8 231.4 502 233 502.1 234.5 502.3 236.1 502.5 237.7 502.7 239.3 503 240.8 503.2 242.4 503.5 244 503.8 245.5 504.1 247.1 504.4 248.7 504.7 250.2 505.1M382.1 504.4 383.7 503 385.2 501.4 386.8 499.8M424.5 501.4 426.1 503.3 427.6 505.2M199.2 501.4 200.7 500.9 202.3 500.4 203.9 499.9 205.5 499.5 207 499.1 208.6 498.7 210.2 498.3 211.7 498M241.6 498.4 243.1 498.7 244.7 498.9 246.3 499.2 247.8 499.6 249.4 499.9 251 500.2 252.5 500.6 254.1 500.9 255.7 501.3 257.3 501.7 258.8 502.1M382.8 501.4 384.4 499.9 386 498.4 387.5 496.8M428.4 498.8 429.9 500.8 431.5 502.7M196.8 498.6 198.3 498 199.9 497.4 201.5 496.9 203 496.3 204.6 495.8 206.2 495.3M253.3 495.6 254.8 496 256.4 496.4 258 496.7 259.6 497.1 261.1 497.5 262.7 498 264.3 498.4 265.8 498.9 267.4 499.4M383.6 498.3 385.1 496.9 386.7 495.4 388.3 493.8M432.2 496.3 433.8 498.3 435.4 500.2M194.4 495.9 195.9 495.3 197.5 494.7 199.1 494 200.6 493.4 202.2 492.8 203.8 492.2M261.9 492.5 263.4 492.9 265 493.4 266.6 493.8 268.1 494.3 269.7 494.8 271.3 495.3 272.8 495.8 274.4 496.3M384.3 495.2 385.9 493.8 387.4 492.3M436.1 493.8 437.7 495.8 439.2 497.7M193.5 492.6 195.1 492 196.7 491.3 198.2 490.7 199.8 490 201.4 489.4M270.4 489.7 272 490.2 273.6 490.7 275.1 491.2 276.7 491.8 278.3 492.3 279.9 492.8 281.4 493.4M385 492 386.6 490.6 388.2 489.1M440 491.3 441.5 493.2M191.1 489.8 192.7 489.2 194.2 488.6 195.8 488 197.4 487.4 199 486.7 200.5 486M279 487.1 280.6 487.7 282.2 488.2 283.7 488.8 285.3 489.3 286.9 489.9 288.4 490.4M384.2 490 385.8 488.7 387.3 487.4 388.9 485.9M442.3 486.7 443.8 488.7 445.4 490.7M187.1 487 188.7 486.6 190.3 486.2 191.8 485.7 193.4 485.2 195 484.6 196.5 484 198.1 483.3M286 484.1 287.6 484.7 289.2 485.2 290.7 485.8 292.3 486.4 293.9 486.9 295.4 487.5M384.9 486.7 386.5 485.4 388.1 484.1 389.6 482.6M446.1 484.1 447.7 486.1 449.3 488M180 484.4 181.6 484.1 183.2 483.7 184.7 483.4 186.3 483.1 187.9 482.7 189.4 482.4 191 482 192.6 481.5 194.1 481 195.7 480.4M293 481.1 294.6 481.7 296.2 482.3 297.7 482.8 299.3 483.4 300.9 484 302.5 484.6M385.6 483.3 387.2 482 388.8 480.7M450 481.5 451.6 483.5 453.1 485.3M174.5 481.4 176 481.1 177.6 480.7 179.2 480.4 180.7 480 182.3 479.7 183.9 479.4 185.5 479 187 478.7 188.6 478.4 190.2 478 191.7 477.6M300 478.1 301.6 478.7 303.2 479.3 304.8 479.9 306.3 480.5 307.9 481 309.5 481.6M384.8 481.1 386.4 479.9 387.9 478.6 389.5 477.3M453.9 478.8 455.4 480.7 457 482.5M170.5 478.4 172.1 478 173.6 477.5 175.2 477.1 176.8 476.7 178.3 476.3 179.9 476 181.5 475.6 183 475.3 184.6 474.9M307.1 475.1 308.6 475.7 310.2 476.3 311.8 476.9 313.3 477.5 314.9 478.1 316.5 478.6M385.5 477.5 387.1 476.3 388.7 475.1 390.2 473.8M457.7 476.1 459.3 477.9 460.9 479.6M166.5 475.5 168.1 475 169.6 474.6 171.2 474.1 172.8 473.6 174.4 473.2 175.9 472.7 177.5 472.3 179.1 471.9M314.1 472.1 315.6 472.7 317.2 473.3 318.8 473.9 320.3 474.5 321.9 475 323.5 475.6 325 476.1M384.7 475 386.3 473.9 387.8 472.8 389.4 471.5M461.6 473.2 463.2 475 464.8 476.6M162.5 472.5 164.1 472.1 165.7 471.6 167.2 471.2 168.8 470.7 170.4 470.2 171.9 469.8 173.5 469.3 175.1 468.8M321.1 469.1 322.6 469.7 324.2 470.3 325.8 470.9 327.3 471.4 328.9 472 330.5 472.5 332.1 473M383.9 472.3 385.4 471.3 387 470.3 388.6 469.1 390.1 467.9M465.5 470.3 467.1 472 468.6 473.7M158.5 469.8 160.1 469.2 161.7 468.7 163.3 468.2 164.8 467.7 166.4 467.2 168 466.8 169.5 466.3 171.1 465.8M329.6 466.6 331.2 467.2 332.8 467.7 334.4 468.3 335.9 468.8 337.5 469.3 339.1 469.8 340.6 470.2M383 469.2 384.6 468.4 386.2 467.5 387.7 466.5 389.3 465.4M469.4 467.3 470.9 469 472.5 470.7M157.7 466.3 159.3 465.6 160.8 464.9 162.4 464.4 164 463.8 165.6 463.3 167.1 462.8M336.7 463.4 338.2 464 339.8 464.5 341.4 465 342.9 465.4 344.5 465.9 346.1 466.3 347.6 466.7 349.2 467.1M380.6 466.4 382.2 465.8 383.7 465.1 385.3 464.3 386.9 463.5 388.5 462.5M473.2 464.3 474.8 466 476.4 467.7M156.9 463.1 158.4 462.2 160 461.4 161.6 460.7 163.1 460M345.2 460.6 346.8 461 348.4 461.5 349.9 461.9 351.5 462.3 353.1 462.6 354.7 463 356.2 463.3 357.8 463.6 359.4 463.8 360.9 464.1M375.1 463.9 376.6 463.5 378.2 463.1 379.8 462.7 381.3 462.1 382.9 461.5 384.5 460.9 386 460.2M477.1 461.2 478.7 463 480.2 464.7M156 460.2 157.6 459.2 159.2 458.2 160.7 457.3M355.4 457.8 357 458.1 358.5 458.4 360.1 458.7 361.7 459 363.2 459.2 364.8 459.4 366.4 459.6 367.9 459.7 369.5 459.7 371.1 459.7 372.7 459.6 374.2 459.5 375.8 459.3 377.4 459 378.9 458.6 380.5 458.2 382.1 457.7 383.6 457.2M481 458.2 482.5 460 484.1 461.7M155.2 457.9 156.8 456.6 158.3 455.4 159.9 454.2M368.7 454.6 370.2 454.7 371.8 454.8 373.4 454.8 375 454.7 376.5 454.5 378.1 454.3M484.8 455.1 486.4 456.9 488 458.7M155.9 454.5 157.5 453 159.1 451.7 160.6 450.4M488.7 452 490.3 453.9 491.8 455.6M156.6 451.2 158.2 449.6 159.8 448.1M492.6 448.9 494.1 450.7 495.7 452.4M157.4 448.1 158.9 446.3 160.5 444.6M496.4 445.8 498 447.5 499.6 449 501.2 450.5M158.1 445 159.7 443.1 161.2 441.2M501.9 444.1 503.5 445.6 505 447M158.8 442.1 160.4 440 162 438M505.8 440.6 507.3 442 508.9 443.4 510.5 444.6M159.6 439.3 161.1 437.1 162.7 434.9M509.6 437 511.2 438.4 512.8 439.7 514.3 440.9M160.3 436.6 161.9 434.3 163.4 432M515.1 434.6 516.6 435.9 518.2 437.1 519.8 438.2M161 433.9 162.6 431.5 164.2 429.1M520.5 432 522.1 433.2 523.6 434.3 525.2 435.5M161.8 431.3 163.3 428.8 164.9 426.3M525.9 429.3 527.5 430.4 529.1 431.6 530.6 432.7" stroke="#65537f" stroke-width="1.5" fill="none" stroke-linejoin="round"/>
<path d="M385.7 524.4 387.3 524.3 388.8 524.3 390.4 524.6M383.3 521.3 384.8 520.7 386.4 520.3 388 520 389.6 519.9 391.1 520 392.7 520.2 394.3 520.7 395.8 521.3 397.4 522.1M382.4 518.7 384 517.7 385.6 516.9 387.1 516.3 388.7 515.8 390.3 515.5 391.9 515.4 393.4 515.5 395 515.8 396.6 516.3 398.1 516.9 399.7 517.8 401.3 518.8M383.2 515.3 384.7 514.2 386.3 513.2 387.9 512.4 389.4 511.8M400.4 512.5 402 513.4 403.6 514.4 405.1 515.6 406.7 516.9M383.9 512.1 385.5 510.8 387 509.7 388.6 508.7M405.9 509.9 407.4 511.1 409 512.5 410.6 514M384.6 509 386.2 507.6 387.8 506.3M409.7 506.6 411.3 508 412.9 509.6 414.4 511.2M385.4 505.9 386.9 504.4 388.5 503M413.6 503.5 415.2 505.1 416.7 506.7 418.3 508.5M386.1 502.8 387.7 501.3 389.2 499.8M417.5 500.5 419 502.2 420.6 504 422.2 505.8M386.8 499.8 388.4 498.2 390 496.6M421.3 497.6 422.9 499.5 424.5 501.4M211.7 498 213.3 497.8 214.9 497.5 216.4 497.3 218 497.2 219.6 497.1 221.2 497 222.7 496.9 224.3 496.9 225.9 496.9 227.4 497 229 497 230.6 497.1 232.1 497.2 233.7 497.4 235.3 497.5 236.8 497.7 238.4 497.9 240 498.1 241.6 498.4M387.5 496.8 389.1 495.2 390.7 493.5M425.2 494.9 426.8 496.8 428.4 498.8M206.2 495.3 207.8 494.9 209.3 494.4 210.9 494 212.5 493.7 214 493.4 215.6 493.1 217.2 492.8 218.7 492.6 220.3 492.5 221.9 492.3 223.5 492.3 225 492.2 226.6 492.2 228.2 492.2 229.7 492.2 231.3 492.3 232.9 492.4 234.4 492.5 236 492.7 237.6 492.8 239.1 493 240.7 493.2 242.3 493.5 243.9 493.7 245.4 494 247 494.3 248.6 494.6 250.1 494.9 251.7 495.3 253.3 495.6M388.3 493.8 389.8 492.1 391.4 490.4M429.1 492.2 430.7 494.2 432.2 496.3M203.8 492.2 205.3 491.7 206.9 491.1 208.5 490.6 210.1 490.1 211.6 489.7 213.2 489.3 214.8 488.9 216.3 488.6M246.2 489 247.7 489.3 249.3 489.6 250.9 489.9 252.4 490.2 254 490.6 255.6 490.9 257.1 491.3 258.7 491.7 260.3 492.1 261.9 492.5M387.4 492.3 389 490.7 390.6 489.1 392.1 487.4M433 489.6 434.5 491.7 436.1 493.8M201.4 489.4 202.9 488.8 204.5 488.1 206.1 487.5 207.6 486.9 209.2 486.4 210.8 485.8M257.9 486.1 259.4 486.5 261 486.9 262.6 487.4 264.2 487.8 265.7 488.2 267.3 488.7 268.9 489.2 270.4 489.7M388.2 489.1 389.7 487.6 391.3 486 392.9 484.3M436.8 487 438.4 489.2 440 491.3M200.5 486 202.1 485.3 203.7 484.7 205.2 484 206.8 483.3 208.4 482.7M268 483.4 269.6 483.9 271.2 484.4 272.7 484.9 274.3 485.5 275.9 486 277.4 486.6 279 487.1M388.9 485.9 390.5 484.4 392 482.8M440.7 484.5 442.3 486.7M198.1 483.3 199.7 482.6 201.3 481.9 202.8 481.2 204.4 480.5 206 479.8M275 480.1 276.6 480.6 278.2 481.2 279.7 481.8 281.3 482.4 282.9 482.9 284.5 483.5 286 484.1M389.6 482.6 391.2 481.1 392.8 479.5M444.6 482 446.1 484.1M195.7 480.4 197.3 479.8 198.8 479.2 200.4 478.5 202 477.8 203.6 477.1M283.6 477.5 285.2 478.1 286.8 478.7 288.3 479.3 289.9 479.9 291.5 480.5 293 481.1M388.8 480.7 390.4 479.3 391.9 477.8 393.5 476.2M446.9 477.2 448.4 479.4 450 481.5M191.7 477.6 193.3 477.2 194.9 476.7 196.4 476.2 198 475.6 199.6 475 201.1 474.3 202.7 473.6M290.6 474.4 292.2 475 293.8 475.7 295.3 476.3 296.9 476.9 298.5 477.5 300 478.1M389.5 477.3 391.1 475.9 392.7 474.4 394.2 472.9M450.7 474.6 452.3 476.8 453.9 478.8M184.6 474.9 186.2 474.6 187.8 474.2 189.3 473.9 190.9 473.5 192.5 473.2 194 472.8 195.6 472.3 197.2 471.9 198.7 471.3 200.3 470.7M297.6 471.4 299.2 472 300.8 472.6 302.3 473.3 303.9 473.9 305.5 474.5 307.1 475.1M390.2 473.8 391.8 472.4 393.4 471M454.6 472 456.2 474.1 457.7 476.1M179.1 471.9 180.6 471.5 182.2 471.1 183.8 470.7 185.3 470.4 186.9 470 188.5 469.7 190.1 469.3 191.6 469 193.2 468.6 194.8 468.2M306.2 469 307.8 469.6 309.4 470.3 310.9 470.9 312.5 471.5 314.1 472.1M389.4 471.5 391 470.2 392.5 468.9 394.1 467.4M458.5 469.3 460 471.3 461.6 473.2M175.1 468.8 176.7 468.3 178.2 467.9 179.8 467.4 181.4 467 182.9 466.6 184.5 466.2 186.1 465.8 187.6 465.4M313.2 466 314.8 466.6 316.4 467.2 317.9 467.9 319.5 468.5 321.1 469.1M390.1 467.9 391.7 466.6 393.3 465.2M462.3 466.5 463.9 468.4 465.5 470.3M171.1 465.8 172.7 465.4 174.2 464.8 175.8 464.3 177.4 463.8 179 463.3 180.5 462.9 182.1 462.4M320.2 462.9 321.8 463.5 323.4 464.2 324.9 464.8 326.5 465.4 328.1 466 329.6 466.6M389.3 465.4 390.9 464.2 392.4 462.9 394 461.6M466.2 463.5 467.8 465.5 469.4 467.3M167.1 462.8 168.7 462.3 170.3 461.9 171.8 461.4 173.4 460.9 175 460.3 176.5 459.8 178.1 459.3M327.2 459.8 328.8 460.4 330.4 461.1 331.9 461.7 333.5 462.3 335.1 462.9 336.7 463.4M388.5 462.5 390 461.5 391.6 460.4 393.2 459.1M470.1 460.6 471.7 462.4 473.2 464.3M163.1 460 164.7 459.4 166.3 458.8 167.9 458.3 169.4 457.8 171 457.3 172.6 456.8 174.1 456.3M335.8 457.3 337.4 457.9 339 458.5 340.5 459 342.1 459.6 343.7 460.1 345.2 460.6M386 460.2 387.6 459.4 389.2 458.5 390.8 457.5 392.3 456.4M474 457.5 475.5 459.4 477.1 461.2M160.7 457.3 162.3 456.5 163.9 455.7 165.4 455 167 454.4 168.6 453.8 170.2 453.2M342.8 454 344.4 454.5 346 455.1 347.5 455.6 349.1 456.1 350.7 456.5 352.2 457 353.8 457.4 355.4 457.8M383.6 457.2 385.2 456.5 386.8 455.9 388.3 455.1 389.9 454.3 391.5 453.4M477.8 454.4 479.4 456.3 481 458.2M159.9 454.2 161.5 453.2 163 452.3 164.6 451.4 166.2 450.6M351.4 451 353 451.5 354.5 451.9 356.1 452.4 357.7 452.8 359.3 453.1 360.8 453.5 362.4 453.8 364 454 365.5 454.3 367.1 454.5 368.7 454.6M378.1 454.3 379.7 454 381.2 453.6 382.8 453.2 384.4 452.7 385.9 452.1 387.5 451.5 389.1 450.7M481.7 451.3 483.3 453.2 484.8 455.1M160.6 450.4 162.2 449.2 163.8 448.1 165.3 447.1M361.6 448 363.1 448.4 364.7 448.7 366.3 449 367.8 449.2 369.4 449.4 371 449.6 372.5 449.7 374.1 449.8 375.7 449.7 377.3 449.6 378.8 449.5 380.4 449.2 382 448.9 383.5 448.5 385.1 448.1 386.7 447.5M485.6 448.2 487.1 450.1 488.7 452M159.8 448.1 161.4 446.6 162.9 445.3 164.5 444M489.4 445.1 491 447 492.6 448.9M160.5 444.6 162.1 443 163.7 441.5M494.9 443.9 496.4 445.8M161.2 441.2 162.8 439.4 164.4 437.8M498.7 440.7 500.3 442.5 501.9 444.1M162 438 163.5 436.1M502.6 437.4 504.2 439.1 505.8 440.6M162.7 434.9 164.3 432.8M506.5 433.9 508.1 435.5 509.6 437M163.4 432 165 429.7M511.9 431.9 513.5 433.3 515.1 434.6M164.2 429.1 165.7 426.7M515.8 428.1 517.4 429.5 518.9 430.8 520.5 432M164.9 426.3 166.5 423.8M521.2 425.6 522.8 426.9 524.4 428.1 525.9 429.3" stroke="#6a4e7a" stroke-width="1.5" fill="none" stroke-linejoin="round"/>
<path d="M389.4 511.8 391 511.3 392.6 511 394.2 510.9 395.7 511 397.3 511.3 398.9 511.8 400.4 512.5M388.6 508.7 390.2 507.8 391.7 507.2 393.3 506.7 394.9 506.4 396.5 506.3 398 506.4 399.6 506.7 401.2 507.2 402.7 507.9 404.3 508.8 405.9 509.9M387.8 506.3 389.3 505.1 390.9 504 392.5 503.2 394 502.5M405 503.3 406.6 504.2 408.2 505.4 409.7 506.6M388.5 503 390.1 501.6 391.6 500.4 393.2 499.3M410.5 500.7 412 502 413.6 503.5M389.2 499.8 390.8 498.3 392.4 496.9 393.9 495.6M414.3 497.4 415.9 498.9 417.5 500.5M390 496.6 391.5 495 393.1 493.5M418.2 494.2 419.8 495.8 421.3 497.6M390.7 493.5 392.3 491.8 393.8 490.2M422.1 491.1 423.6 492.9 425.2 494.9M391.4 490.4 393 488.7 394.6 487M425.9 488.2 427.5 490.2 429.1 492.2M216.3 488.6 217.9 488.3 219.5 488.1 221 487.8 222.6 487.7 224.2 487.5 225.8 487.5 227.3 487.4 228.9 487.4 230.5 487.4 232 487.4 233.6 487.5 235.2 487.6 236.7 487.7 238.3 487.9 239.9 488.1 241.4 488.2 243 488.5 244.6 488.7 246.2 489M392.1 487.4 393.7 485.6 395.3 483.8M429.8 485.3 431.4 487.5 433 489.6M210.8 485.8 212.4 485.3 213.9 484.9 215.5 484.4 217.1 484.1 218.6 483.7 220.2 483.4 221.8 483.2 223.3 482.9 224.9 482.8 226.5 482.6 228.1 482.5 229.6 482.5 231.2 482.5 232.8 482.5 234.3 482.5 235.9 482.6 237.5 482.7 239 482.8 240.6 483 242.2 483.2 243.7 483.4 245.3 483.6 246.9 483.8 248.5 484.1 250 484.4 251.6 484.7 253.2 485 254.7 485.4 256.3 485.8 257.9 486.1M392.9 484.3 394.4 482.5 396 480.6M433.7 482.6 435.3 484.8 436.8 487M208.4 482.7 209.9 482.1 211.5 481.5 213.1 480.9 214.7 480.4 216.2 479.9 217.8 479.5 219.4 479.1M252.3 479.4 253.9 479.8 255.5 480.1 257 480.5 258.6 480.9 260.2 481.3 261.7 481.7 263.3 482.1 264.9 482.5 266.5 483 268 483.4M392 482.8 393.6 481.1 395.2 479.3 396.7 477.5M437.6 480 439.1 482.3 440.7 484.5M206 479.8 207.5 479.1 209.1 478.4 210.7 477.8 212.2 477.1 213.8 476.5 215.4 475.9M264 476.7 265.6 477.1 267.2 477.6 268.8 478 270.3 478.5 271.9 479 273.5 479.5 275 480.1M392.8 479.5 394.3 477.9 395.9 476.1M441.4 477.4 443 479.7 444.6 482M203.6 477.1 205.1 476.4 206.7 475.6 208.3 474.9 209.8 474.2 211.4 473.4M272.6 473.5 274.2 474 275.8 474.6 277.3 475.1 278.9 475.7 280.5 476.3 282 476.9 283.6 477.5M393.5 476.2 395.1 474.6 396.6 472.9M445.3 474.9 446.9 477.2M202.7 473.6 204.3 472.9 205.9 472.1 207.4 471.4 209 470.6 210.6 469.8M281.2 470.7 282.8 471.3 284.3 471.9 285.9 472.5 287.5 473.2 289.1 473.8 290.6 474.4M394.2 472.9 395.8 471.3 397.4 469.6M449.2 472.3 450.7 474.6M200.3 470.7 201.9 470.1 203.4 469.4 205 468.6 206.6 467.9 208.2 467.1M289.8 468.1 291.4 468.8 292.9 469.4 294.5 470.1 296.1 470.7 297.6 471.4M393.4 471 395 469.4 396.5 467.8 398.1 466.2M453 469.7 454.6 472M194.8 468.2 196.3 467.8 197.9 467.4 199.5 466.9 201 466.3 202.6 465.7 204.2 465 205.7 464.3M296.8 465 298.4 465.7 299.9 466.3 301.5 467 303.1 467.7 304.6 468.3 306.2 469M394.1 467.4 395.7 465.9 397.3 464.3M455.3 464.7 456.9 467.1 458.5 469.3M187.6 465.4 189.2 465 190.8 464.7 192.4 464.3 193.9 463.9 195.5 463.6 197.1 463.2 198.6 462.8 200.2 462.3 201.8 461.8M303.8 461.9 305.4 462.6 306.9 463.3 308.5 464 310.1 464.6 311.7 465.3 313.2 466M393.3 465.2 394.8 463.8 396.4 462.3 398 460.8M459.2 462.1 460.8 464.3 462.3 466.5M182.1 462.4 183.7 461.9 185.2 461.5 186.8 461.1 188.4 460.7 189.9 460.3 191.5 459.9 193.1 459.6 194.7 459.2 196.2 458.8M312.4 459.5 314 460.2 315.5 460.9 317.1 461.6 318.7 462.2 320.2 462.9M394 461.6 395.6 460.2 397.1 458.7M463.1 459.3 464.6 461.5 466.2 463.5M178.1 459.3 179.7 458.8 181.3 458.2 182.8 457.7 184.4 457.3 186 456.8 187.5 456.3 189.1 455.9M319.4 456.4 321 457.1 322.5 457.8 324.1 458.5 325.7 459.1 327.2 459.8M393.2 459.1 394.7 457.8 396.3 456.4 397.9 454.9M466.9 456.4 468.5 458.6 470.1 460.6M174.1 456.3 175.7 455.8 177.3 455.2 178.8 454.7 180.4 454.1 182 453.6 183.6 453M326.4 453.3 328 454 329.5 454.7 331.1 455.3 332.7 456 334.2 456.6 335.8 457.3M392.3 456.4 393.9 455.2 395.5 454 397 452.6M470.8 453.5 472.4 455.5 474 457.5M170.2 453.2 171.7 452.7 173.3 452.1 174.9 451.6 176.4 451.1 178 450.6 179.6 450M333.4 450.1 335 450.8 336.5 451.5 338.1 452.1 339.7 452.8 341.3 453.4 342.8 454M391.5 453.4 393.1 452.4 394.6 451.2 396.2 450M474.7 450.4 476.3 452.5 477.8 454.4M166.2 450.6 167.7 449.9 169.3 449.2 170.9 448.6 172.5 448 174 447.4 175.6 446.9M342 447.6 343.6 448.2 345.1 448.8 346.7 449.4 348.3 450 349.8 450.5 351.4 451M389.1 450.7 390.6 450 392.2 449.1 393.8 448.2 395.4 447.1M478.6 447.3 480.1 449.3 481.7 451.3M165.3 447.1 166.9 446.2 168.5 445.4 170 444.6 171.6 443.9M350.6 444.7 352.1 445.3 353.7 445.8 355.3 446.3 356.8 446.8 358.4 447.2 360 447.6 361.6 448M386.7 447.5 388.2 446.9 389.8 446.2 391.4 445.5 392.9 444.7 394.5 443.8M484 446.2 485.6 448.2M164.5 444 166.1 442.9 167.6 441.9 169.2 440.9M359.1 441.5 360.7 442 362.3 442.4 363.9 442.8 365.4 443.2 367 443.5 368.6 443.8 370.1 444 371.7 444.3 373.3 444.4 374.8 444.5 376.4 444.6 378 444.6 379.6 444.5 381.1 444.3 382.7 444.1 384.3 443.7 385.8 443.3 387.4 442.8 389 442.3 390.5 441.6 392.1 440.9M487.9 443 489.4 445.1M163.7 441.5 165.2 440.1 166.8 438.8 168.4 437.6M370.9 438.5 372.4 438.8 374 439 375.6 439.1 377.1 439.3 378.7 439.3 380.3 439.3 381.9 439.2 383.4 439 385 438.7 386.6 438.4M491.7 439.9 493.3 441.9 494.9 443.9M164.4 437.8 166 436.2 167.5 434.7M495.6 436.7 497.2 438.8 498.7 440.7M163.5 436.1 165.1 434.2 166.7 432.4M499.5 433.5 501 435.5 502.6 437.4M164.3 432.8 165.8 430.8 167.4 428.8M503.3 430.2 504.9 432.2 506.5 433.9M165 429.7 166.6 427.5 168.1 425.3M507.2 426.8 508.8 428.6 510.4 430.3 511.9 431.9M165.7 426.7 167.3 424.3 168.9 422M512.7 425 514.2 426.6 515.8 428.1M166.5 423.8 168 421.3 169.6 418.8M516.5 421.2 518.1 422.7 519.7 424.2 521.2 425.6" stroke="#704874" stroke-width="1.5" fill="none" stroke-linejoin="round"/>
<path d="M394 502.5 395.6 502 397.2 501.7 398.8 501.6 400.3 501.7 401.9 502 403.5 502.6 405 503.3M393.2 499.3 394.8 498.4 396.3 497.7 397.9 497.2 399.5 496.9 401.1 496.8 402.6 496.9 404.2 497.3 405.8 497.8 407.3 498.6 408.9 499.6 410.5 500.7M393.9 495.6 395.5 494.5 397.1 493.5 398.6 492.8M409.6 493.8 411.2 494.8 412.8 496 414.3 497.4M393.1 493.5 394.7 492 396.2 490.7 397.8 489.5M415.1 491.1 416.6 492.6 418.2 494.2M393.8 490.2 395.4 488.6 397 487.1M418.9 487.7 420.5 489.3 422.1 491.1M394.6 487 396.1 485.2 397.7 483.6M424.4 486.2 425.9 488.2M395.3 483.8 396.9 482 398.4 480.2M428.2 483.3 429.8 485.3M396 480.6 397.6 478.7 399.2 476.9M432.1 480.4 433.7 482.6M219.4 479.1 220.9 478.7 222.5 478.4 224.1 478.2 225.6 477.9 227.2 477.8 228.8 477.6 230.4 477.5 231.9 477.5 233.5 477.4 235.1 477.5 236.6 477.5 238.2 477.6 239.8 477.7 241.3 477.8 242.9 478 244.5 478.2 246 478.4 247.6 478.6 249.2 478.8 250.8 479.1 252.3 479.4M396.7 477.5 398.3 475.6M436 477.7 437.6 480M215.4 475.9 217 475.4 218.5 474.9 220.1 474.4 221.7 474 223.2 473.6 224.8 473.3 226.4 473 227.9 472.8 229.5 472.6M245.2 472.9 246.8 473 248.3 473.2 249.9 473.5 251.5 473.7 253.1 474 254.6 474.4 256.2 474.7 257.8 475.1 259.3 475.4 260.9 475.8 262.5 476.3 264 476.7M395.9 476.1 397.5 474.3 399 472.4M439.9 475.1 441.4 477.4M211.4 473.4 213 472.7 214.5 472.1 216.1 471.4 217.7 470.8 219.3 470.2 220.8 469.7M260.1 469.9 261.6 470.3 263.2 470.7 264.8 471.1 266.3 471.6 267.9 472 269.5 472.5 271.1 473 272.6 473.5M396.6 472.9 398.2 471.1 399.8 469.1M442.2 470 443.7 472.5 445.3 474.9M210.6 469.8 212.1 469.1 213.7 468.3 215.3 467.6 216.8 466.9M271.8 467.3 273.4 467.8 274.9 468.4 276.5 468.9 278.1 469.5 279.6 470.1 281.2 470.7M397.4 469.6 398.9 467.8 400.5 465.9M446 467.4 447.6 469.9 449.2 472.3M208.2 467.1 209.7 466.3 211.3 465.5 212.9 464.7 214.4 463.9M280.4 464.3 281.9 464.9 283.5 465.5 285.1 466.2 286.6 466.8 288.2 467.5 289.8 468.1M398.1 466.2 399.7 464.4 401.2 462.5M449.9 464.8 451.5 467.3 453 469.7M205.7 464.3 207.3 463.5 208.9 462.7 210.5 461.9 212 461.1M288.9 461.6 290.5 462.3 292.1 463 293.7 463.6 295.2 464.3 296.8 465M397.3 464.3 398.8 462.7 400.4 460.9M453.8 462.2 455.3 464.7M201.8 461.8 203.3 461.2 204.9 460.5 206.5 459.8 208 459.1 209.6 458.3 211.2 457.5M296 458.4 297.5 459.1 299.1 459.8 300.7 460.5 302.2 461.2 303.8 461.9M398 460.8 399.6 459.1 401.1 457.4M457.6 459.6 459.2 462.1M196.2 458.8 197.8 458.4 199.4 458 200.9 457.6 202.5 457.1 204.1 456.6 205.6 456 207.2 455.3 208.8 454.6M304.5 455.9 306.1 456.7 307.7 457.4 309.2 458.1 310.8 458.8 312.4 459.5M397.1 458.7 398.7 457.1 400.3 455.5 401.9 453.8M461.5 456.9 463.1 459.3M189.1 455.9 190.7 455.5 192.2 455.1 193.8 454.7 195.4 454.3 197 453.9 198.5 453.5 200.1 453.1 201.7 452.7 203.2 452.3M311.5 452.8 313.1 453.5 314.7 454.3 316.3 455 317.8 455.7 319.4 456.4M397.9 454.9 399.4 453.4 401 451.8M465.4 454.1 466.9 456.4M183.6 453 185.1 452.5 186.7 452 188.3 451.5 189.8 451.1 191.4 450.6 193 450.2 194.5 449.8 196.1 449.3M318.6 449.7 320.1 450.4 321.7 451.2 323.3 451.9 324.8 452.6 326.4 453.3M397 452.6 398.6 451.1 400.2 449.6 401.7 448M469.2 451.2 470.8 453.5M179.6 450 181.1 449.4 182.7 448.8 184.3 448.3 185.9 447.7 187.4 447.2 189 446.6 190.6 446.1M325.6 446.5 327.1 447.3 328.7 448 330.3 448.7 331.8 449.4 333.4 450.1M396.2 450 397.8 448.7 399.3 447.3 400.9 445.7M473.1 448.2 474.7 450.4M175.6 446.9 177.2 446.3 178.7 445.8 180.3 445.2 181.9 444.6 183.4 444 185 443.4M334.1 444.1 335.7 444.8 337.3 445.5 338.8 446.2 340.4 446.9 342 447.6M395.4 447.1 396.9 445.9 398.5 444.7 400.1 443.3M477 445.2 478.6 447.3M171.6 443.9 173.2 443.2 174.8 442.6 176.3 442 177.9 441.5 179.5 440.9 181 440.3M341.1 440.8 342.7 441.5 344.3 442.2 345.9 442.9 347.4 443.5 349 444.2 350.6 444.7M394.5 443.8 396.1 442.8 397.7 441.7 399.2 440.5M480.9 442 482.4 444.1 484 446.2M169.2 440.9 170.8 440 172.3 439.2 173.9 438.5 175.5 437.8 177.1 437.1M349.7 438.1 351.3 438.8 352.9 439.4 354.4 440 356 440.5 357.6 441 359.1 441.5M392.1 440.9 393.7 440.1 395.2 439.3 396.8 438.4 398.4 437.3M484.7 438.8 486.3 440.9 487.9 443M168.4 437.6 169.9 436.5 171.5 435.5 173.1 434.5M358.3 435.1 359.9 435.6 361.4 436.1 363 436.6 364.6 437.1 366.2 437.5 367.7 437.8 369.3 438.2 370.9 438.5M386.6 438.4 388.1 438 389.7 437.4 391.3 436.8 392.8 436.2 394.4 435.4 396 434.6M488.6 435.6 490.2 437.8 491.7 439.9M167.5 434.7 169.1 433.3 170.7 432.1 172.2 430.9M368.5 432 370 432.4 371.6 432.7 373.2 433.1 374.7 433.3 376.3 433.6 377.9 433.7 379.4 433.9 381 433.9 382.6 433.9 384.2 433.8 385.7 433.6 387.3 433.3 388.9 432.9 390.4 432.5 392 431.9 393.6 431.3M492.5 432.3 494 434.6 495.6 436.7M166.7 432.4 168.3 430.8 169.8 429.2 171.4 427.8M496.3 429.1 497.9 431.4 499.5 433.5M167.4 428.8 169 427 170.6 425.2M501.8 428.1 503.3 430.2M168.1 425.3 169.7 423.3 171.3 421.3M505.6 424.8 507.2 426.8M168.9 422 170.4 419.8M509.5 421.3 511.1 423.2 512.7 425M169.6 418.8 171.2 416.4M513.4 417.7 515 419.5 516.5 421.2" stroke="#76446f" stroke-width="1.5" fill="none" stroke-linejoin="round"/>
<path d="M398.6 492.8 400.2 492.3 401.8 492 403.4 491.9 404.9 492 406.5 492.4 408.1 493 409.6 493.8M397.8 489.5 399.4 488.6 400.9 487.8 402.5 487.3 404.1 486.9 405.7 486.9 407.2 487 408.8 487.4 410.4 488 411.9 488.8 413.5 489.9 415.1 491.1M397 487.1 398.5 485.7 400.1 484.5 401.7 483.5M414.2 483.8 415.8 484.9 417.4 486.2 418.9 487.7M397.7 483.6 399.3 482 400.8 480.6M419.7 481.1 421.2 482.7 422.8 484.4 424.4 486.2M398.4 480.2 400 478.4 401.6 476.8M425.1 479.4 426.7 481.3 428.2 483.3M399.2 476.9 400.7 475 402.3 473.2M429 476.2 430.5 478.3 432.1 480.4M398.3 475.6 399.9 473.6 401.5 471.6M432.8 473.2 434.4 475.4 436 477.7M229.5 472.6 231.1 472.5 232.7 472.4 234.2 472.3 235.8 472.3 237.4 472.3 238.9 472.4 240.5 472.5 242.1 472.6 243.6 472.7 245.2 472.9M399 472.4 400.6 470.4 402.2 468.3M436.7 470.3 438.3 472.7 439.9 475.1M220.8 469.7 222.4 469.2 224 468.8 225.5 468.4 227.1 468.1 228.7 467.8 230.2 467.6 231.8 467.4 233.4 467.2 235 467.1 236.5 467.1 238.1 467 239.7 467.1 241.2 467.1 242.8 467.2 244.4 467.3 245.9 467.5 247.5 467.6 249.1 467.8 250.6 468 252.2 468.3 253.8 468.5 255.4 468.8 256.9 469.2 258.5 469.5 260.1 469.9M399.8 469.1 401.3 467.1 402.9 465.1M440.6 467.5 442.2 470M216.8 466.9 218.4 466.2 220 465.6 221.6 465 223.1 464.4 224.7 463.9 226.3 463.5 227.8 463.1M257.7 463.5 259.2 463.8 260.8 464.2 262.4 464.6 263.9 465 265.5 465.5 267.1 465.9 268.6 466.4 270.2 466.8 271.8 467.3M400.5 465.9 402.1 463.9 403.6 461.8M444.5 464.8 446 467.4M214.4 463.9 216 463.1 217.6 462.3 219.1 461.6 220.7 460.9 222.3 460.2M269.4 460.5 270.9 461 272.5 461.5 274.1 462 275.7 462.6 277.2 463.1 278.8 463.7 280.4 464.3M401.2 462.5 402.8 460.5 404.4 458.5M448.3 462.2 449.9 464.8M212 461.1 213.6 460.2 215.2 459.4 216.7 458.5 218.3 457.7 219.9 456.9M279.5 457.7 281.1 458.3 282.7 458.9 284.2 459.6 285.8 460.2 287.4 460.9 288.9 461.6M400.4 460.9 402 459.1 403.5 457.1M452.2 459.6 453.8 462.2M211.2 457.5 212.8 456.6 214.3 455.7 215.9 454.8 217.5 453.9M288.1 454.8 289.7 455.5 291.2 456.2 292.8 457 294.4 457.7 296 458.4M401.1 457.4 402.7 455.6 404.3 453.7M456.1 457 457.6 459.6M208.8 454.6 210.3 453.8 211.9 452.9 213.5 452.1 215.1 451.2M296.7 452.3 298.3 453 299.8 453.7 301.4 454.5 303 455.2 304.5 455.9M401.9 453.8 403.4 452 405 450.1M458.4 451.7 459.9 454.4 461.5 456.9M203.2 452.3 204.8 451.8 206.4 451.2 207.9 450.6 209.5 449.9 211.1 449.1 212.6 448.3M303.7 449 305.3 449.8 306.8 450.5 308.4 451.3 310 452 311.5 452.8M401 451.8 402.6 450.1 404.2 448.3M462.2 449 463.8 451.7 465.4 454.1M196.1 449.3 197.7 448.9 199.3 448.5 200.8 448.1 202.4 447.7 204 447.3 205.5 446.8 207.1 446.3 208.7 445.7M310.7 445.8 312.3 446.6 313.8 447.4 315.4 448.2 317 448.9 318.6 449.7M401.7 448 403.3 446.3 404.9 444.6M466.1 446.3 467.7 448.9 469.2 451.2M190.6 446.1 192.1 445.6 193.7 445.2 195.3 444.7 196.8 444.3 198.4 443.9 200 443.4 201.6 443 203.1 442.6M319.3 443.4 320.9 444.2 322.4 445 324 445.8 325.6 446.5M400.9 445.7 402.5 444.1 404 442.5M470 443.4 471.5 445.9 473.1 448.2M185 443.4 186.6 442.8 188.2 442.2 189.7 441.7 191.3 441.1 192.9 440.6 194.4 440.1 196 439.6M326.3 440.2 327.9 441 329.4 441.8 331 442.6 332.6 443.3 334.1 444.1M400.1 443.3 401.6 441.8 403.2 440.2 404.8 438.5M473.8 440.5 475.4 442.9 477 445.2M181 440.3 182.6 439.7 184.2 439.1 185.7 438.5 187.3 437.9 188.9 437.2 190.5 436.6M333.3 437 334.9 437.8 336.4 438.6 338 439.3 339.6 440.1 341.1 440.8M399.2 440.5 400.8 439.2 402.4 437.7 403.9 436.2M477.7 437.4 479.3 439.8 480.9 442M177.1 437.1 178.6 436.5 180.2 435.9 181.8 435.3 183.3 434.7 184.9 434.1 186.5 433.5M341.9 434.5 343.4 435.3 345 436 346.6 436.8 348.2 437.4 349.7 438.1M398.4 437.3 400 436.2 401.5 434.9 403.1 433.5M481.6 434.3 483.2 436.6 484.7 438.8M173.1 434.5 174.6 433.7 176.2 432.9 177.8 432.2 179.4 431.5 180.9 430.9M350.5 431.9 352 432.6 353.6 433.2 355.2 433.9 356.7 434.5 358.3 435.1M396 434.6 397.5 433.8 399.1 432.8 400.7 431.7 402.3 430.5M487 433.3 488.6 435.6M172.2 430.9 173.8 429.9 175.4 428.9 176.9 428M357.5 428.3 359 428.9 360.6 429.5 362.2 430.1 363.7 430.6 365.3 431.1 366.9 431.6 368.5 432M393.6 431.3 395.1 430.6 396.7 429.8 398.3 429 399.8 428.1M490.9 430.1 492.5 432.3M171.4 427.8 173 426.5 174.5 425.3M367.6 425.5 369.2 425.9 370.8 426.4 372.3 426.8 373.9 427.2 375.5 427.5 377 427.8 378.6 428 380.2 428.2 381.7 428.3 383.3 428.4 384.9 428.3 386.5 428.2 388 428 389.6 427.7 391.2 427.3 392.7 426.8 394.3 426.3 395.9 425.6 397.4 424.9M494.8 426.8 496.3 429.1M170.6 425.2 172.1 423.6 173.7 422.1M382.5 422.5 384 422.6 385.6 422.7 387.2 422.6 388.8 422.5 390.3 422.3M498.6 423.5 500.2 425.9 501.8 428.1M171.3 421.3 172.9 419.5 174.4 417.8M502.5 420.2 504.1 422.6 505.6 424.8M170.4 419.8 172 417.6 173.6 415.6M506.4 416.9 507.9 419.2 509.5 421.3M171.2 416.4 172.7 414.1 174.3 411.8M511.8 415.7 513.4 417.7" stroke="#7c3f6a" stroke-width="1.5" fill="none" stroke-linejoin="round"/>
<path d="M401.7 483.5 403.2 482.7 404.8 482.1 406.4 481.8 408 481.7 409.5 481.9 411.1 482.3 412.7 482.9 414.2 483.8M400.8 480.6 402.4 479.3 404 478.3 405.5 477.4 407.1 476.9M415 477.7 416.5 478.6 418.1 479.8 419.7 481.1M401.6 476.8 403.1 475.3 404.7 474M420.4 474.5 422 476 423.5 477.6 425.1 479.4M402.3 473.2 403.9 471.5 405.4 469.9M425.8 472.4 427.4 474.2 429 476.2M401.5 471.6 403 469.7 404.6 467.8M429.7 468.9 431.3 471 432.8 473.2M402.2 468.3 403.8 466.3 405.3 464.3M433.6 465.7 435.1 467.9 436.7 470.3M402.9 465.1 404.5 462.9 406.1 460.8M437.4 462.6 439 465 440.6 467.5M227.8 463.1 229.4 462.7 231 462.4 232.5 462.2 234.1 462 235.7 461.8 237.3 461.7 238.8 461.7 240.4 461.7 242 461.7 243.5 461.7 245.1 461.8 246.7 461.9 248.2 462.1 249.8 462.2 251.4 462.4 252.9 462.7 254.5 462.9 256.1 463.2 257.7 463.5M403.6 461.8 405.2 459.6M441.3 459.6 442.9 462.2 444.5 464.8M222.3 460.2 223.9 459.6 225.4 459 227 458.5 228.6 458 230.1 457.6 231.7 457.3 233.3 456.9 234.8 456.7M252.1 456.7 253.7 456.9 255.2 457.2 256.8 457.4 258.4 457.7 260 458 261.5 458.4 263.1 458.8 264.7 459.2 266.2 459.6 267.8 460.1 269.4 460.5M404.4 458.5 405.9 456.3M445.2 456.8 446.8 459.5 448.3 462.2M219.9 456.9 221.4 456.1 223 455.4 224.6 454.7 226.2 454 227.7 453.4M268.5 454.1 270.1 454.6 271.7 455 273.2 455.6 274.8 456.1 276.4 456.6 278 457.2 279.5 457.7M403.5 457.1 405.1 455.1 406.7 452.9M449.1 454.1 450.6 456.9 452.2 459.6M217.5 453.9 219 453.1 220.6 452.2 222.2 451.4 223.7 450.5M278.7 451 280.3 451.6 281.8 452.2 283.4 452.8 285 453.5 286.5 454.1 288.1 454.8M404.3 453.7 405.8 451.6 407.4 449.5M452.9 451.4 454.5 454.3 456.1 457M215.1 451.2 216.6 450.2 218.2 449.3 219.8 448.4 221.3 447.5M288.8 448.6 290.4 449.3 292 450 293.5 450.8 295.1 451.5 296.7 452.3M405 450.1 406.6 448.1 408.1 446M456.8 448.8 458.4 451.7M212.6 448.3 214.2 447.4 215.8 446.5 217.4 445.6 218.9 444.6M295.8 445.1 297.4 445.9 299 446.7 300.6 447.5 302.1 448.2 303.7 449M404.2 448.3 405.7 446.5 407.3 444.5M460.7 446.2 462.2 449M208.7 445.7 210.2 445.1 211.8 444.4 213.4 443.6 214.9 442.7 216.5 441.8M304.4 442.6 306 443.4 307.6 444.2 309.1 445 310.7 445.8M404.9 444.6 406.5 442.7 408 440.8M464.5 443.5 466.1 446.3M203.1 442.6 204.7 442.2 206.3 441.7 207.8 441.3 209.4 440.7 211 440.1 212.5 439.4 214.1 438.7M311.4 439.3 313 440.2 314.6 441 316.1 441.8 317.7 442.6 319.3 443.4M404 442.5 405.6 440.7 407.2 438.9M468.4 440.8 470 443.4M196 439.6 197.6 439.1 199.1 438.7 200.7 438.2 202.3 437.8 203.9 437.4 205.4 436.9 207 436.5 208.6 436M320 437 321.6 437.8 323.2 438.6 324.7 439.4 326.3 440.2M404.8 438.5 406.3 436.8 407.9 435M472.3 437.9 473.8 440.5M190.5 436.6 192 436 193.6 435.5 195.2 434.9 196.7 434.4 198.3 433.9 199.9 433.4 201.4 432.9M327 433.7 328.6 434.6 330.2 435.4 331.7 436.2 333.3 437M403.9 436.2 405.5 434.5 407.1 432.8M476.1 434.9 477.7 437.4M186.5 433.5 188 432.8 189.6 432.1 191.2 431.5 192.8 430.9 194.3 430.2M334 430.5 335.6 431.3 337.2 432.1 338.7 432.9 340.3 433.7 341.9 434.5M403.1 433.5 404.7 432 406.2 430.4M480 431.8 481.6 434.3M180.9 430.9 182.5 430.2 184.1 429.6 185.6 429 187.2 428.3 188.8 427.7 190.3 427M342.6 428 344.2 428.8 345.7 429.6 347.3 430.4 348.9 431.1 350.5 431.9M402.3 430.5 403.8 429.2 405.4 427.7 407 426.2M483.9 428.6 485.5 431 487 433.3M176.9 428 178.5 427.2 180.1 426.4 181.7 425.7 183.2 425.1 184.8 424.4M349.6 424.6 351.2 425.4 352.8 426.1 354.3 426.9 355.9 427.6 357.5 428.3M399.8 428.1 401.4 427.1 403 425.9 404.6 424.7 406.1 423.3M487.8 425.3 489.3 427.7 490.9 430.1M174.5 425.3 176.1 424.2 177.7 423.1 179.2 422.2 180.8 421.3M358.2 421.8 359.8 422.5 361.3 423.1 362.9 423.8 364.5 424.4 366 424.9 367.6 425.5M397.4 424.9 399 424.1 400.6 423.2 402.1 422.2 403.7 421.2M491.6 422 493.2 424.4 494.8 426.8M173.7 422.1 175.3 420.7 176.8 419.4 178.4 418.3M368.3 419.1 369.9 419.6 371.5 420.2 373.1 420.6 374.6 421 376.2 421.4 377.8 421.8 379.3 422 380.9 422.3 382.5 422.5M390.3 422.3 391.9 422 393.5 421.6 395 421.1 396.6 420.5 398.2 419.8 399.7 419 401.3 418.2M497.1 421.1 498.6 423.5M174.4 417.8 176 416.2 177.6 414.8M380.1 415.9 381.6 416.2 383.2 416.4 384.8 416.6 386.3 416.8 387.9 416.8 389.5 416.8 391.1 416.6 392.6 416.4 394.2 416.1 395.8 415.6M500.9 417.8 502.5 420.2M173.6 415.6 175.2 413.7 176.7 411.9M504.8 414.5 506.4 416.9M174.3 411.8 175.9 409.7M508.7 411.1 510.2 413.5 511.8 415.7" stroke="#823b66" stroke-width="1.5" fill="none" stroke-linejoin="round"/>
<path d="M407.1 476.9 408.7 476.5 410.3 476.5 411.8 476.6 413.4 477 415 477.7M404.7 474 406.3 472.9 407.8 472.1 409.4 471.5 411 471.2 412.6 471.1 414.1 471.3 415.7 471.7 417.3 472.4 418.8 473.3 420.4 474.5M405.4 469.9 407 468.6 408.6 467.5M421.1 467.9 422.7 469.2 424.3 470.7 425.8 472.4M404.6 467.8 406.2 466 407.7 464.4M426.6 465.2 428.1 467 429.7 468.9M405.3 464.3 406.9 462.3 408.5 460.4M432 463.5 433.6 465.7M406.1 460.8 407.6 458.7M435.9 460.2 437.4 462.6M405.2 459.6 406.8 457.4 408.4 455.2M439.7 457.1 441.3 459.6M234.8 456.7 236.4 456.5 238 456.3 239.6 456.2 241.1 456.2 242.7 456.1 244.3 456.2 245.8 456.2 247.4 456.3 249 456.4 250.5 456.6 252.1 456.7M405.9 456.3 407.5 454 409.1 451.7M443.6 454.1 445.2 456.8M227.7 453.4 229.3 452.9 230.9 452.4 232.4 452 234 451.6 235.6 451.3 237.1 451 238.7 450.8 240.3 450.7 241.9 450.6 243.4 450.5 245 450.5 246.6 450.5 248.1 450.6 249.7 450.7 251.3 450.8 252.8 450.9 254.4 451.1 256 451.3 257.5 451.5 259.1 451.8 260.7 452.1 262.3 452.4 263.8 452.8 265.4 453.2 267 453.6 268.5 454.1M406.7 452.9 408.2 450.7 409.8 448.3M447.5 451.2 449.1 454.1M223.7 450.5 225.3 449.8 226.9 449 228.5 448.4 230 447.7 231.6 447.2M267.7 447.5 269.3 447.9 270.8 448.4 272.4 448.9 274 449.4 275.5 449.9 277.1 450.5 278.7 451M407.4 449.5 409 447.2 410.5 444.9M451.4 448.5 452.9 451.4M221.3 447.5 222.9 446.6 224.5 445.7 226 444.8 227.6 444M279.4 444.7 281 445.3 282.6 445.9 284.1 446.5 285.7 447.2 287.3 447.9 288.8 448.6M408.1 446 409.7 443.7M455.2 445.8 456.8 448.8M218.9 444.6 220.5 443.7 222.1 442.7 223.6 441.7 225.2 440.8M288 441.4 289.6 442.1 291.1 442.8 292.7 443.6 294.3 444.4 295.8 445.1M407.3 444.5 408.9 442.4 410.4 440.2M459.1 443.2 460.7 446.2M216.5 441.8 218.1 440.9 219.7 439.9 221.2 438.9 222.8 437.8M296.6 438.5 298.1 439.4 299.7 440.2 301.3 441 302.9 441.8 304.4 442.6M408 440.8 409.6 438.7 411.2 436.5M463 440.5 464.5 443.5M214.1 438.7 215.7 437.9 217.2 437 218.8 436 220.4 435M305.2 436 306.7 436.8 308.3 437.7 309.9 438.5 311.4 439.3M407.2 438.9 408.8 437 410.3 434.9M466.8 437.9 468.4 440.8M208.6 436 210.1 435.5 211.7 435 213.3 434.4 214.8 433.6 216.4 432.9 218 432M312.2 432.6 313.7 433.5 315.3 434.4 316.9 435.2 318.4 436.1 320 437M407.9 435 409.5 433.1 411.1 431.1M470.7 435.1 472.3 437.9M201.4 432.9 203 432.5 204.6 432 206.2 431.6 207.7 431.1 209.3 430.7 210.9 430.2 212.4 429.7M320.7 430.2 322.3 431.1 323.9 432 325.5 432.9 327 433.7M407.1 432.8 408.6 431 410.2 429.1M474.6 432.2 476.1 434.9M194.3 430.2 195.9 429.6 197.5 429.1 199 428.5 200.6 428 202.2 427.5 203.7 427 205.3 426.5M327.8 427 329.3 427.9 330.9 428.7 332.5 429.6 334 430.5M406.2 430.4 407.8 428.7 409.4 426.9 410.9 425M478.4 429.2 480 431.8M190.3 427 191.9 426.3 193.5 425.6 195.1 424.9 196.6 424.3 198.2 423.7M336.3 424.5 337.9 425.4 339.5 426.3 341 427.1 342.6 428M407 426.2 408.5 424.5 410.1 422.7M482.3 426 483.9 428.6M184.8 424.4 186.4 423.8 187.9 423.1 189.5 422.4 191.1 421.7 192.6 421 194.2 420.3M343.3 421.2 344.9 422.1 346.5 422.9 348 423.8 349.6 424.6M406.1 423.3 407.7 421.8 409.3 420.1M486.2 422.8 487.8 425.3M180.8 421.3 182.4 420.5 184 419.8 185.5 419.1 187.1 418.4 188.7 417.7M351.9 418.6 353.5 419.5 355.1 420.3 356.6 421 358.2 421.8M403.7 421.2 405.3 420 406.9 418.7 408.4 417.3M490.1 419.5 491.6 422M178.4 418.3 180 417.2 181.5 416.2 183.1 415.3 184.7 414.5M360.5 415.8 362.1 416.5 363.6 417.2 365.2 417.9 366.8 418.5 368.3 419.1M401.3 418.2 402.9 417.2 404.4 416.2 406 415.1 407.6 413.9M493.9 416.1 495.5 418.6 497.1 421.1M177.6 414.8 179.1 413.4 180.7 412.2 182.3 411.1M369.1 412.5 370.6 413.1 372.2 413.7 373.8 414.2 375.4 414.7 376.9 415.1 378.5 415.5 380.1 415.9M395.8 415.6 397.3 415.1 398.9 414.5 400.5 413.8 402 413 403.6 412.1M497.8 412.7 499.4 415.3 500.9 417.8M176.7 411.9 178.3 410.2 179.9 408.7M380.8 409.5 382.4 409.8 383.9 410.2 385.5 410.4 387.1 410.6 388.6 410.8 390.2 410.8 391.8 410.8 393.4 410.6 394.9 410.4 396.5 410 398.1 409.6 399.6 409M501.7 409.3 503.2 411.9 504.8 414.5M175.9 409.7 177.5 407.7 179 405.8M507.1 408.5 508.7 411.1" stroke="#883761" stroke-width="1.5" fill="none" stroke-linejoin="round"/>
<path d="M408.6 467.5 410.1 466.6 411.7 466 413.3 465.6 414.9 465.5 416.4 465.7 418 466.2 419.6 466.9 421.1 467.9M407.7 464.4 409.3 463 410.9 461.8 412.4 460.9M421.9 461.3 423.4 462.4 425 463.7 426.6 465.2M408.5 460.4 410 458.8 411.6 457.3M428.9 459.7 430.4 461.5 432 463.5M407.6 458.7 409.2 456.6 410.8 454.7M432.7 455.9 434.3 458 435.9 460.2M408.4 455.2 409.9 453 411.5 450.8M438.2 454.6 439.7 457.1M409.1 451.7 410.7 449.4 412.2 447.1M442 451.5 443.6 454.1M409.8 448.3 411.4 445.9M445.9 448.4 447.5 451.2M231.6 447.2 233.2 446.7 234.7 446.2 236.3 445.8 237.9 445.5 239.4 445.2 241 445 242.6 444.9 244.2 444.7 245.7 444.7 247.3 444.7 248.9 444.7 250.4 444.7 252 444.8 253.6 445 255.1 445.1 256.7 445.3 258.3 445.5 259.8 445.7 261.4 446 263 446.3 264.6 446.7 266.1 447.1 267.7 447.5M410.5 444.9 412.1 442.4M449.8 445.6 451.4 448.5M227.6 444 229.2 443.2 230.8 442.5 232.3 441.9 233.9 441.3 235.5 440.8 237 440.3M266.9 440.8 268.4 441.2 270 441.6 271.6 442.1 273.1 442.6 274.7 443.1 276.3 443.6 277.8 444.2 279.4 444.7M409.7 443.7 411.3 441.4 412.8 438.9M453.7 442.8 455.2 445.8M225.2 440.8 226.8 439.8 228.3 438.9 229.9 438.1 231.5 437.3M280.1 438.3 281.7 438.8 283.3 439.5 284.9 440.1 286.4 440.7 288 441.4M410.4 440.2 412 437.9 413.6 435.4M457.5 440.1 459.1 443.2M222.8 437.8 224.4 436.8 225.9 435.8 227.5 434.8 229.1 433.8M290.3 435.5 291.9 436.2 293.4 437 295 437.7 296.6 438.5M411.2 436.5 412.7 434.2M461.4 437.4 463 440.5M220.4 435 222 434 223.5 432.9 225.1 431.9M298.9 432.6 300.4 433.4 302 434.3 303.6 435.1 305.2 436M410.3 434.9 411.9 432.8 413.5 430.5M465.3 434.8 466.8 437.9M218 432 219.5 431.1 221.1 430.1 222.7 429 224.3 428M305.9 429.1 307.5 430 309 430.9 310.6 431.8 312.2 432.6M411.1 431.1 412.6 428.9M469.1 432.1 470.7 435.1M212.4 429.7 214 429.1 215.6 428.4 217.1 427.7 218.7 426.9 220.3 426M314.5 426.6 316 427.5 317.6 428.4 319.2 429.3 320.7 430.2M410.2 429.1 411.8 427.1 413.4 425M471.4 426.1 473 429.3 474.6 432.2M205.3 426.5 206.9 426.1 208.5 425.6 210 425.1 211.6 424.7 213.2 424.2 214.7 423.6 216.3 423M321.5 423.3 323 424.2 324.6 425.1 326.2 426.1 327.8 427M410.9 425 412.5 423M475.3 423.3 476.9 426.3 478.4 429.2M198.2 423.7 199.8 423.1 201.3 422.5 202.9 422 204.5 421.4 206 420.9 207.6 420.4 209.2 419.9M330.1 420.9 331.6 421.8 333.2 422.8 334.8 423.7 336.3 424.5M410.1 422.7 411.7 420.8 413.2 418.8M479.2 420.3 480.7 423.3 482.3 426M194.2 420.3 195.8 419.6 197.4 418.9 198.9 418.2 200.5 417.5 202.1 416.9M337.1 417.5 338.6 418.5 340.2 419.4 341.8 420.3 343.3 421.2M409.3 420.1 410.8 418.4 412.4 416.5M484.6 420.1 486.2 422.8M188.7 417.7 190.2 417 191.8 416.3 193.4 415.6 194.9 414.8 196.5 414.1M345.6 415.1 347.2 416 348.8 416.9 350.3 417.8 351.9 418.6M408.4 417.3 410 415.7 411.6 414M488.5 416.8 490.1 419.5M184.7 414.5 186.3 413.7 187.8 413 189.4 412.2 191 411.5 192.5 410.8M352.6 411.6 354.2 412.5 355.8 413.4 357.4 414.2 358.9 415 360.5 415.8M407.6 413.9 409.2 412.5 410.7 411M492.4 413.4 493.9 416.1M182.3 411.1 183.8 410.1 185.4 409.1 187 408.3M361.2 408.8 362.8 409.7 364.4 410.4 365.9 411.2 367.5 411.9 369.1 412.5M403.6 412.1 405.2 411.1 406.7 410.1 408.3 408.9 409.9 407.6M496.2 410 497.8 412.7M179.9 408.7 181.4 407.3 183 406 184.6 404.8M369.8 405.6 371.4 406.3 372.9 407 374.5 407.6 376.1 408.1 377.7 408.6 379.2 409.1 380.8 409.5M399.6 409 401.2 408.4 402.8 407.6 404.3 406.8 405.9 405.8 407.5 404.8M500.1 406.6 501.7 409.3M179 405.8 180.6 404 182.2 402.4M381.5 402.8 383.1 403.3 384.7 403.6 386.2 404 387.8 404.2 389.4 404.5 390.9 404.6 392.5 404.6 394.1 404.6 395.7 404.4 397.2 404.2 398.8 403.8 400.4 403.3 401.9 402.7 403.5 402M504 403.1 505.5 405.8 507.1 408.5" stroke="#8f345d" stroke-width="1.5" fill="none" stroke-linejoin="round"/>
<path d="M412.4 460.9 414 460.3 415.6 460 417.2 459.9 418.7 460.1 420.3 460.6 421.9 461.3M411.6 457.3 413.2 456.1 414.7 455.1 416.3 454.5M422.6 454.8 424.2 455.6 425.7 456.7 427.3 458 428.9 459.7M410.8 454.7 412.3 453 413.9 451.4M429.6 452.3 431.2 454 432.7 455.9M411.5 450.8 413.1 448.8 414.6 447M435 450.1 436.6 452.3 438.2 454.6M412.2 447.1 413.8 444.9M438.9 446.4 440.5 448.9 442 451.5M411.4 445.9 413 443.5 414.5 441.1M442.8 443 444.3 445.7 445.9 448.4M412.1 442.4 413.7 439.9M448.2 442.6 449.8 445.6M237 440.3 238.6 439.9 240.2 439.6 241.7 439.3 243.3 439.1 244.9 438.9 246.5 438.8 248 438.7 249.6 438.7 251.2 438.7 252.7 438.8 254.3 438.9 255.9 439 257.4 439.2 259 439.3 260.6 439.6 262.1 439.8 263.7 440.1 265.3 440.4 266.9 440.8M412.8 438.9 414.4 436.4M452.1 439.7 453.7 442.8M231.5 437.3 233.1 436.6 234.6 435.9 236.2 435.3 237.8 434.7 239.3 434.2 240.9 433.8M267.6 434.3 269.2 434.7 270.7 435.1 272.3 435.6 273.9 436.1 275.4 436.6 277 437.1 278.6 437.7 280.1 438.3M413.6 435.4 415.1 432.8M456 436.9 457.5 440.1M229.1 433.8 230.6 432.9 232.2 432 233.8 431.2 235.4 430.4M280.9 431.6 282.4 432.2 284 432.8 285.6 433.4 287.2 434.1 288.7 434.8 290.3 435.5M412.7 434.2 414.3 431.8 415.9 429.2M459.8 434.2 461.4 437.4M225.1 431.9 226.7 430.8 228.2 429.7 229.8 428.7 231.4 427.7M291 428.6 292.6 429.4 294.2 430.1 295.7 430.9 297.3 431.7 298.9 432.6M413.5 430.5 415 428.1M463.7 431.5 465.3 434.8M224.3 428 225.8 426.9 227.4 425.7 229 424.6M299.6 425.6 301.2 426.4 302.7 427.3 304.3 428.2 305.9 429.1M412.6 428.9 414.2 426.7 415.8 424.3M466 425.4 467.6 428.8 469.1 432.1M220.3 426 221.8 425 223.4 424 225 422.9 226.6 421.8M308.2 422.9 309.8 423.9 311.3 424.8 312.9 425.7 314.5 426.6M413.4 425 414.9 422.8 416.5 420.4M469.9 422.7 471.4 426.1M216.3 423 217.9 422.3 219.4 421.6 221 420.7 222.6 419.8 224.1 418.8M316.8 420.4 318.3 421.4 319.9 422.3 321.5 423.3M412.5 423 414.1 420.9 415.7 418.7M473.7 420 475.3 423.3M209.2 419.9 210.8 419.5 212.3 419 213.9 418.5 215.5 418 217 417.4 218.6 416.8 220.2 416.1M323.8 417 325.3 418 326.9 419 328.5 420 330.1 420.9M413.2 418.8 414.8 416.8 416.4 414.6M477.6 417.1 479.2 420.3M202.1 416.9 203.6 416.3 205.2 415.7 206.8 415.2 208.3 414.7 209.9 414.1 211.5 413.6 213.1 413.1M330.8 413.7 332.4 414.7 333.9 415.6 335.5 416.6 337.1 417.5M412.4 416.5 414 414.5 415.5 412.5M481.5 414.2 483 417.3 484.6 420.1M196.5 414.1 198.1 413.3 199.7 412.6 201.2 411.9 202.8 411.2 204.4 410.6M339.4 411.3 340.9 412.2 342.5 413.2 344.1 414.1 345.6 415.1M411.6 414 413.1 412.1 414.7 410.2M485.3 411 486.9 414 488.5 416.8M192.5 410.8 194.1 410.1 195.7 409.3 197.2 408.5 198.8 407.7M346.4 407.8 347.9 408.8 349.5 409.7 351.1 410.7 352.6 411.6M410.7 411 412.3 409.4 413.9 407.6M490.8 410.7 492.4 413.4M187 408.3 188.6 407.4 190.1 406.7 191.7 405.9 193.3 405.2 194.8 404.4M354.9 405.3 356.5 406.2 358.1 407.1 359.7 408 361.2 408.8M409.9 407.6 411.5 406.2 413 404.6M494.7 407.2 496.2 410M184.6 404.8 186.1 403.7 187.7 402.8 189.3 401.8M363.5 402.5 365.1 403.3 366.7 404.1 368.2 404.9 369.8 405.6M407.5 404.8 409 403.7 410.6 402.5 412.2 401.2M498.5 403.8 500.1 406.6M182.2 402.4 183.7 401 185.3 399.6 186.9 398.4M372.1 399.2 373.7 400 375.2 400.6 376.8 401.3 378.4 401.8 380 402.3 381.5 402.8M403.5 402 405.1 401.2 406.6 400.4 408.2 399.4 409.8 398.3M502.4 400.3 504 403.1" stroke="#953259" stroke-width="1.5" fill="none" stroke-linejoin="round"/>
<path d="M416.3 454.5 417.9 454.1 419.5 454.1 421 454.3 422.6 454.8M413.9 451.4 415.5 450.2 417 449.2 418.6 448.5 420.2 448.2 421.8 448.1 423.3 448.3 424.9 448.9 426.5 449.7 428 450.8 429.6 452.3M414.6 447 416.2 445.4 417.8 444.1M431.9 446.3 433.5 448.1 435 450.1M413.8 444.9 415.4 442.8 416.9 440.9M437.3 444.2 438.9 446.4M414.5 441.1 416.1 438.8M441.2 440.4 442.8 443M413.7 439.9 415.3 437.4 416.8 434.9M445.1 436.9 446.6 439.7 448.2 442.6M414.4 436.4 416 433.8 417.6 431.1M448.9 433.6 450.5 436.6 452.1 439.7M240.9 433.8 242.5 433.5 244 433.2 245.6 432.9 247.2 432.7 248.8 432.6 250.3 432.5 251.9 432.5 253.5 432.6 255 432.6 256.6 432.7 258.2 432.9 259.7 433 261.3 433.2 262.9 433.4 264.4 433.7 266 434 267.6 434.3M415.1 432.8 416.7 430.2M452.8 430.5 454.4 433.7 456 436.9M235.4 430.4 236.9 429.7 238.5 429.1 240.1 428.5 241.6 428 243.2 427.5 244.8 427.2M268.3 427.7 269.9 428.1 271.5 428.5 273 428.9 274.6 429.4 276.2 429.9 277.7 430.4 279.3 431 280.9 431.6M415.9 429.2 417.4 426.6M458.3 430.9 459.8 434.2M231.4 427.7 232.9 426.7 234.5 425.8 236.1 424.9 237.7 424.1M281.6 424.7 283.2 425.3 284.7 425.9 286.3 426.6 287.9 427.2 289.5 427.9 291 428.6M415 428.1 416.6 425.6 418.2 422.9M460.6 424.7 462.1 428.1 463.7 431.5M229 424.6 230.5 423.5 232.1 422.4 233.7 421.3M293.3 422.3 294.9 423.1 296.5 423.9 298 424.7 299.6 425.6M415.8 424.3 417.3 421.8 418.9 419.1M464.4 421.9 466 425.4M226.6 421.8 228.1 420.6 229.7 419.4 231.3 418.2M301.9 419.2 303.5 420.1 305 421.1 306.6 422 308.2 422.9M416.5 420.4 418.1 417.9M468.3 419.2 469.9 422.7M224.1 418.8 225.7 417.7 227.3 416.6 228.9 415.4M310.5 416.6 312.1 417.5 313.6 418.5 315.2 419.5 316.8 420.4M415.7 418.7 417.2 416.4 418.8 414M472.2 416.5 473.7 420M220.2 416.1 221.7 415.3 223.3 414.4 224.9 413.4 226.4 412.4M317.5 413 319.1 414 320.6 415 322.2 416 323.8 417M416.4 414.6 418 412.3M476 413.7 477.6 417.1M213.1 413.1 214.6 412.6 216.2 412.1 217.8 411.6 219.3 411 220.9 410.4 222.5 409.6M326.1 410.6 327.6 411.6 329.2 412.7 330.8 413.7M415.5 412.5 417.1 410.3 418.7 408.1M479.9 410.8 481.5 414.2M204.4 410.6 205.9 409.9 207.5 409.3 209.1 408.8 210.6 408.2 212.2 407.7 213.8 407.2 215.4 406.6M333.1 407.2 334.7 408.2 336.2 409.3 337.8 410.3 339.4 411.3M414.7 410.2 416.3 408.1 417.8 406M483.8 407.8 485.3 411M198.8 407.7 200.4 406.9 202 406.2 203.5 405.4 205.1 404.7 206.7 404M341.7 404.8 343.2 405.8 344.8 406.8 346.4 407.8M413.9 407.6 415.4 405.7 417 403.6M487.6 404.6 489.2 407.8 490.8 410.7M194.8 404.4 196.4 403.6 198 402.8 199.5 402 201.1 401.2M348.7 401.3 350.2 402.3 351.8 403.3 353.4 404.3 354.9 405.3M413 404.6 414.6 402.9 416.2 401M491.5 401.3 493.1 404.4 494.7 407.2M189.3 401.8 190.9 401 192.4 400.2 194 399.4 195.6 398.6 197.1 397.8M357.2 398.7 358.8 399.7 360.4 400.7 362 401.6 363.5 402.5M412.2 401.2 413.8 399.7 415.3 398.1M497 400.9 498.5 403.8M186.9 398.4 188.4 397.2 190 396.2 191.6 395.2M365.8 395.9 367.4 396.8 369 397.7 370.5 398.5 372.1 399.2M409.8 398.3 411.3 397.2 412.9 395.9 414.5 394.5M500.8 397.3 502.4 400.3" stroke="#9b3054" stroke-width="1.5" fill="none" stroke-linejoin="round"/>
<path d="M417.8 444.1 419.3 443.1 420.9 442.4 422.5 442 424.1 441.9 425.6 442.2 427.2 442.8 428.8 443.6 430.3 444.8 431.9 446.3M416.9 440.9 418.5 439.2 420.1 437.8M432.6 438.6 434.2 440.2 435.8 442.1 437.3 444.2M416.1 438.8 417.7 436.6 419.2 434.6M438.1 435.9 439.6 438.1 441.2 440.4M416.8 434.9 418.4 432.4M443.5 434.3 445.1 436.9M417.6 431.1 419.1 428.5M447.4 430.7 448.9 433.6M416.7 430.2 418.3 427.4 419.9 424.7M451.2 427.3 452.8 430.5M244.8 427.2 246.3 426.9 247.9 426.6 249.5 426.4 251.1 426.3 252.6 426.2 254.2 426.2 255.8 426.2 257.3 426.3 258.9 426.4 260.5 426.6 262 426.7 263.6 426.9 265.2 427.1 266.7 427.4 268.3 427.7M417.4 426.6 419 423.8M455.1 424.2 456.7 427.5 458.3 430.9M237.7 424.1 239.2 423.3 240.8 422.7 242.4 422.1 243.9 421.5 245.5 421.1 247.1 420.7M270.6 421.3 272.2 421.6 273.8 422 275.3 422.5 276.9 423 278.5 423.5 280 424.1 281.6 424.7M418.2 422.9 419.7 420.1M459 421.2 460.6 424.7M233.7 421.3 235.2 420.3 236.8 419.3 238.4 418.4 240 417.5M283.9 418.2 285.5 418.8 287 419.5 288.6 420.2 290.2 420.8 291.8 421.6 293.3 422.3M418.9 419.1 420.5 416.4M462.9 418.3 464.4 421.9M231.3 418.2 232.8 417.1 234.4 415.9 236 414.8M295.6 415.8 297.2 416.6 298.8 417.5 300.3 418.3 301.9 419.2M418.1 417.9 419.6 415.3 421.2 412.5M466.7 415.5 468.3 419.2M228.9 415.4 230.4 414.2 232 412.9 233.6 411.7M304.2 412.7 305.8 413.6 307.3 414.6 308.9 415.6 310.5 416.6M418.8 414 420.4 411.4M470.6 412.7 472.2 416.5M226.4 412.4 228 411.2 229.6 410 231.2 408.8M312.8 410 314.4 411 315.9 412 317.5 413M418 412.3 419.5 409.9 421.1 407.3M474.5 410 476 413.7M222.5 409.6 224 408.8 225.6 407.9 227.2 406.9 228.7 405.7M319.8 406.4 321.4 407.5 322.9 408.5 324.5 409.6 326.1 410.6M418.7 408.1 420.3 405.7M478.3 407.2 479.9 410.8M215.4 406.6 216.9 406.1 218.5 405.6 220.1 405 221.6 404.4 223.2 403.8 224.8 403M328.4 404 329.9 405.1 331.5 406.1 333.1 407.2M417.8 406 419.4 403.7 421 401.3M482.2 404.3 483.8 407.8M206.7 404 208.2 403.4 209.8 402.8 211.4 402.2 212.9 401.6 214.5 401 216.1 400.5M335.4 400.5 337 401.6 338.5 402.7 340.1 403.7 341.7 404.8M417 403.6 418.6 401.5 420.1 399.2M486.1 401.3 487.6 404.6M201.1 401.2 202.7 400.3 204.3 399.5 205.8 398.8 207.4 398 209 397.3M344 398.1 345.5 399.2 347.1 400.2 348.7 401.3M416.2 401 417.7 399 419.3 396.9M489.9 398 491.5 401.3M197.1 397.8 198.7 397 200.3 396.1 201.8 395.3 203.4 394.4M352.5 395.6 354.1 396.7 355.7 397.7 357.2 398.7M415.3 398.1 416.9 396.3 418.5 394.3M493.8 394.7 495.4 397.9 497 400.9M191.6 395.2 193.2 394.3 194.7 393.5 196.3 392.6 197.9 391.8 199.4 391M359.5 392 361.1 393 362.7 394 364.3 395 365.8 395.9M414.5 394.5 416.1 393 417.6 391.3M499.3 394.3 500.8 397.3" stroke="#a22e50" stroke-width="1.5" fill="none" stroke-linejoin="round"/>
<path d="M420.1 437.8 421.6 436.8 423.2 436.1 424.8 435.7 426.4 435.6 427.9 435.9 429.5 436.5 431.1 437.4 432.6 438.6M419.2 434.6 420.8 432.8 422.4 431.4M434.9 432.3 436.5 433.9 438.1 435.9M418.4 432.4 420 430.1 421.5 428.1M440.4 429.5 441.9 431.8 443.5 434.3M419.1 428.5 420.7 426M445.8 427.9 447.4 430.7M419.9 424.7 421.4 421.9M449.7 424.3 451.2 427.3M419 423.8 420.6 420.9 422.2 418M453.5 420.9 455.1 424.2M247.1 420.7 248.6 420.4 250.2 420.1 251.8 419.9 253.4 419.8 254.9 419.7 256.5 419.7 258.1 419.7 259.6 419.8 261.2 419.9 262.8 420.1 264.3 420.2 265.9 420.4 267.5 420.7 269 420.9 270.6 421.3M419.7 420.1 421.3 417.2M457.4 417.7 459 421.2M240 417.5 241.5 416.8 243.1 416.1 244.7 415.4 246.2 414.9 247.8 414.4 249.4 414M272.9 414.6 274.5 415 276.1 415.4 277.6 415.9 279.2 416.4 280.8 417 282.3 417.5 283.9 418.2M420.5 416.4 422 413.4M461.3 414.6 462.9 418.3M236 414.8 237.5 413.7 239.1 412.7 240.7 411.7 242.3 410.8M286.2 411.5 287.8 412.1 289.3 412.8 290.9 413.5 292.5 414.3 294.1 415 295.6 415.8M421.2 412.5 422.8 409.6M465.2 411.7 466.7 415.5M233.6 411.7 235.1 410.4 236.7 409.2 238.3 408.1M297.9 409.1 299.5 409.9 301.1 410.8 302.6 411.7 304.2 412.7M420.4 411.4 421.9 408.6 423.5 405.7M469 408.9 470.6 412.7M231.2 408.8 232.7 407.5 234.3 406.2 235.9 404.9M306.5 405.9 308.1 406.9 309.6 408 311.2 409 312.8 410M421.1 407.3 422.7 404.6M472.9 406.1 474.5 410M228.7 405.7 230.3 404.6 231.9 403.3 233.5 402M315.1 403.3 316.7 404.3 318.2 405.4 319.8 406.4M420.3 405.7 421.8 403.1 423.4 400.4M476.8 403.4 478.3 407.2M224.8 403 226.3 402.1 227.9 401.2 229.5 400.1 231 398.9M323.7 400.7 325.2 401.8 326.8 402.9 328.4 404M421 401.3 422.6 398.8M480.6 400.5 482.2 404.3M216.1 400.5 217.7 399.9 219.2 399.4 220.8 398.9 222.4 398.3 223.9 397.7 225.5 397 227.1 396.2M330.7 397.2 332.2 398.3 333.8 399.4 335.4 400.5M420.1 399.2 421.7 396.9 423.3 394.4M484.5 397.6 486.1 401.3M209 397.3 210.5 396.6 212.1 396 213.7 395.4 215.2 394.8 216.8 394.2 218.4 393.6M339.3 394.8 340.8 395.9 342.4 397 344 398.1M419.3 396.9 420.9 394.7 422.4 392.3M488.4 394.5 489.9 398M203.4 394.4 205 393.5 206.6 392.7 208.1 391.9 209.7 391.1 211.3 390.4M346.3 391.2 347.8 392.4 349.4 393.5 351 394.6 352.5 395.6M418.5 394.3 420 392.2 421.6 390M492.2 391.3 493.8 394.7M199.4 391 201 390.1 202.6 389.2 204.1 388.3 205.7 387.4M354.8 388.7 356.4 389.9 358 390.9 359.5 392M417.6 391.3 419.2 389.4 420.8 387.3M497.7 391.2 499.3 394.3" stroke="#a82c4c" stroke-width="1.5" fill="none" stroke-linejoin="round"/>
<path d="M422.4 431.4 423.9 430.3 425.5 429.6 427.1 429.2 428.7 429.1 430.2 429.4 431.8 430 433.4 431 434.9 432.3M421.5 428.1 423.1 426.3 424.7 424.8M437.2 425.7 438.8 427.4 440.4 429.5M420.7 426 422.3 423.6 423.8 421.4M442.7 422.9 444.2 425.3 445.8 427.9M421.4 421.9 423 419.3M448.1 421.4 449.7 424.3M422.2 418 423.7 415.1M452 417.7 453.5 420.9M421.3 417.2 422.9 414.2 424.5 411.2M455.8 414.2 457.4 417.7M249.4 414 250.9 413.7 252.5 413.4 254.1 413.2 255.7 413.1 257.2 413 258.8 413 260.4 413 261.9 413.1 263.5 413.2 265.1 413.4 266.6 413.5 268.2 413.7 269.8 414 271.3 414.3 272.9 414.6M422 413.4 423.6 410.4M459.7 411 461.3 414.6M242.3 410.8 243.8 410 245.4 409.3 247 408.6 248.5 408.1 250.1 407.6M276.8 408.1 278.4 408.6 279.9 409.1 281.5 409.6 283.1 410.2 284.6 410.8 286.2 411.5M422.8 409.6 424.3 406.6M463.6 407.9 465.2 411.7M238.3 408.1 239.8 406.9 241.4 405.8 243 404.8M290.1 405.3 291.6 406 293.2 406.7 294.8 407.5 296.4 408.3 297.9 409.1M423.5 405.7 425.1 402.7M467.5 404.9 469 408.9M235.9 404.9 237.4 403.6 239 402.3 240.6 401.1M300.2 402.2 301.8 403.1 303.4 404 304.9 405 306.5 405.9M422.7 404.6 424.2 401.7M471.3 402.1 472.9 406.1M233.5 402 235 400.7 236.6 399.3 238.2 397.9M310.4 400 311.9 401.1 313.5 402.2 315.1 403.3M423.4 400.4 425 397.6M475.2 399.3 476.8 403.4M231 398.9 232.6 397.7 234.2 396.4 235.8 395M317.4 396.3 319 397.4 320.5 398.5 322.1 399.6 323.7 400.7M422.6 398.8 424.1 396.2 425.7 393.4M479.1 396.5 480.6 400.5M227.1 396.2 228.6 395.2 230.2 394.2 231.8 393.1M326 393.7 327.5 394.9 329.1 396 330.7 397.2M423.3 394.4 424.9 391.8M482.9 393.7 484.5 397.6M218.4 393.6 220 393 221.5 392.5 223.1 391.9 224.7 391.3 226.2 390.7 227.8 389.9M334.5 391.3 336.1 392.5 337.7 393.7 339.3 394.8M422.4 392.3 424 389.8M486.8 390.7 488.4 394.5M211.3 390.4 212.8 389.7 214.4 389 216 388.3 217.5 387.7 219.1 387.1M341.6 387.8 343.1 388.9 344.7 390.1 346.3 391.2M421.6 390 423.2 387.6 424.7 385.2M490.7 387.6 492.2 391.3M205.7 387.4 207.3 386.5 208.9 385.6 210.4 384.8 212 384M350.1 385.3 351.7 386.5 353.3 387.6 354.8 388.7M420.8 387.3 422.3 385.1 423.9 382.8M496.1 387.8 497.7 391.2" stroke="#ad2a48" stroke-width="1.5" fill="none" stroke-linejoin="round"/>
<path d="M424.7 424.8 426.2 423.6 427.8 422.9 429.4 422.5 431 422.4 432.5 422.7 434.1 423.4 435.7 424.4 437.2 425.7M423.8 421.4 425.4 419.5 427 418M439.5 419 441.1 420.8 442.7 422.9M423 419.3 424.6 416.8 426.1 414.5M445 416.1 446.5 418.6 448.1 421.4M423.7 415.1 425.3 412.4M450.4 414.6 452 417.7M424.5 411.2 426 408.2M454.3 410.9 455.8 414.2M423.6 410.4 425.2 407.2 426.8 404.1M458.1 407.3 459.7 411M250.1 407.6 251.7 407.1 253.2 406.8 254.8 406.5 256.4 406.3 258 406.2 259.5 406.1 261.1 406.1 262.7 406.1 264.2 406.2 265.8 406.3 267.4 406.5 268.9 406.6 270.5 406.9 272.1 407.1 273.6 407.4 275.2 407.7 276.8 408.1M424.3 406.6 425.9 403.4M243 404.8 244.6 403.9 246.1 403 247.7 402.3 249.3 401.6 250.8 401M280.7 401.5 282.2 402.1 283.8 402.6 285.4 403.2 286.9 403.9 288.5 404.6 290.1 405.3M425.1 402.7 426.6 399.5M240.6 401.1 242.1 399.9 243.7 398.8 245.3 397.7M293.9 398.9 295.5 399.7 297.1 400.5 298.7 401.3 300.2 402.2M424.2 401.7 425.8 398.7 427.4 395.5M238.2 397.9 239.7 396.6 241.3 395.2M304.1 396 305.7 397 307.2 398 308.8 399 310.4 400M425 397.6 426.5 394.6M235.8 395 237.3 393.6 238.9 392.2M312.7 392.9 314.2 394 315.8 395.2 317.4 396.3M425.7 393.4 427.3 390.4M231.8 393.1 233.3 391.9 234.9 390.6 236.5 389.2M321.3 390.3 322.8 391.4 324.4 392.6 326 393.7M424.9 391.8 426.4 389M227.8 389.9 229.4 389.1 230.9 388.1 232.5 387.1 234.1 385.9M329.8 387.7 331.4 388.9 333 390.1 334.5 391.3M424 389.8 425.6 387.2 427.2 384.5M219.1 387.1 220.7 386.5 222.3 385.9 223.8 385.3 225.4 384.7 227 384.1 228.5 383.4M336.8 384.1 338.4 385.4 340 386.6 341.6 387.8M424.7 385.2 426.3 382.6M212 384 213.6 383.2 215.1 382.5 216.7 381.8 218.3 381.1 219.8 380.4M345.4 381.7 347 383 348.6 384.1 350.1 385.3M423.9 382.8 425.5 380.3M494.5 384.2 496.1 387.8" stroke="#b32944" stroke-width="1.5" fill="none" stroke-linejoin="round"/>
<path d="M427 418 428.5 416.8 430.1 416 431.7 415.5 433.3 415.5 434.8 415.8 436.4 416.5 438 417.6 439.5 419M426.1 414.5 427.7 412.5 429.3 410.9M443.4 413.9 445 416.1M425.3 412.4 426.9 409.7 428.4 407.4M448.8 411.8 450.4 414.6M426 408.2 427.6 405.2M452.7 407.7 454.3 410.9M426.8 404.1 428.3 401M456.6 403.9 458.1 407.3M425.9 403.4 427.5 400.1M462 404 463.6 407.9M250.8 401 252.4 400.5 254 400 255.5 399.7 257.1 399.4 258.7 399.2 260.3 399 261.8 399 263.4 398.9 265 399 266.5 399.1 268.1 399.2 269.7 399.3 271.2 399.5 272.8 399.8 274.4 400 275.9 400.3 277.5 400.7 279.1 401.1 280.7 401.5M426.6 399.5 428.2 396.1M465.9 400.9 467.5 404.9M245.3 397.7 246.9 396.7 248.4 395.9 250 395.1 251.6 394.3M284.5 394.8 286.1 395.4 287.7 396.1 289.2 396.7 290.8 397.4 292.4 398.2 293.9 398.9M427.4 395.5 428.9 392.2M469.8 397.9 471.3 402.1M241.3 395.2 242.9 393.9 244.4 392.7 246 391.5M297.8 392.5 299.4 393.3 301 394.2 302.5 395.1 304.1 396M426.5 394.6 428.1 391.5M473.6 395 475.2 399.3M238.9 392.2 240.5 390.7 242 389.3 243.6 387.9M308 389.7 309.5 390.7 311.1 391.8 312.7 392.9M427.3 390.4 428.8 387.3M477.5 392.2 479.1 396.5M236.5 389.2 238.1 387.8 239.6 386.3 241.2 384.8M316.5 386.7 318.1 387.9 319.7 389.1 321.3 390.3M426.4 389 428 386.1 429.6 383M481.4 389.4 482.9 393.7M234.1 385.9 235.6 384.6 237.2 383.3 238.8 381.8M325.1 384.1 326.7 385.3 328.3 386.5 329.8 387.7M427.2 384.5 428.7 381.6M485.2 386.6 486.8 390.7M228.5 383.4 230.1 382.7 231.7 381.8 233.2 380.8 234.8 379.7M332.1 380.4 333.7 381.6 335.3 382.9 336.8 384.1M426.3 382.6 427.9 379.9M489.1 383.5 490.7 387.6M219.8 380.4 221.4 379.8 223 379.2 224.6 378.6 226.1 378 227.7 377.3 229.3 376.7M340.7 378 342.3 379.3 343.9 380.5 345.4 381.7M425.5 380.3 427 377.8 428.6 375.1M493 380.4 494.5 384.2" stroke="#b82740" stroke-width="1.5" fill="none" stroke-linejoin="round"/>
<path d="M429.3 410.9 430.8 409.7 432.4 408.8 434 408.4M437.1 408.7 438.7 409.4 440.3 410.5 441.8 412 443.4 413.9M428.4 407.4 430 405.3M445.7 406.8 447.3 409.1 448.8 411.8M427.6 405.2 429.2 402.5M451.1 404.7 452.7 407.7M428.3 401 429.9 397.9M455 400.5 456.6 403.9M427.5 400.1 429.1 396.8M460.4 400.3 462 404M428.2 396.1 429.8 392.7M464.3 396.9 465.9 400.9M251.6 394.3 253.1 393.7 254.7 393.2 256.3 392.7 257.8 392.3 259.4 392 261 391.8 262.6 391.7 264.1 391.6 265.7 391.6 267.3 391.6 268.8 391.7 270.4 391.8 272 392 273.5 392.2 275.1 392.4 276.7 392.7 278.2 393 279.8 393.4 281.4 393.8 283 394.3 284.5 394.8M428.9 392.2 430.5 388.7M468.2 393.7 469.8 397.9M246 391.5 247.6 390.4 249.2 389.4 250.7 388.4 252.3 387.6M290 388.6 291.5 389.3 293.1 390.1 294.7 390.9 296.2 391.7 297.8 392.5M428.1 391.5 429.7 388.1 431.2 384.6M472.1 390.7 473.6 395M243.6 387.9 245.2 386.5 246.7 385.2 248.3 384M301.7 385.9 303.3 386.8 304.8 387.7 306.4 388.7 308 389.7M428.8 387.3 430.4 384M475.9 387.8 477.5 392.2M241.2 384.8 242.8 383.3 244.3 381.8M311.8 383.3 313.4 384.4 315 385.6 316.5 386.7M429.6 383 431.1 379.7M479.8 385 481.4 389.4M238.8 381.8 240.4 380.3 241.9 378.8M320.4 380.4 322 381.7 323.6 382.9 325.1 384.1M428.7 381.6 430.3 378.5M483.7 382.1 485.2 386.6M234.8 379.7 236.4 378.5 237.9 377.2 239.5 375.7M327.4 376.6 329 377.8 330.6 379.1 332.1 380.4M427.9 379.9 429.5 377 431 374M487.5 379.2 489.1 383.5M229.3 376.7 230.8 376 232.4 375.2 234 374.3 235.5 373.2M336 374.1 337.6 375.4 339.1 376.7 340.7 378M428.6 375.1 430.2 372.2M491.4 376.2 493 380.4" stroke="#be253b" stroke-width="1.5" fill="none" stroke-linejoin="round"/>
<path d="M434 408.4 435.6 408.3 437.1 408.7M430 405.3 431.6 403.6 433.1 402.3 434.7 401.5M441 402.1 442.6 403.3 444.1 404.8 445.7 406.8M429.2 402.5 430.7 400 432.3 397.9M448 399.5 449.6 401.9 451.1 404.7M429.9 397.9 431.5 395M453.4 397.4 455 400.5M429.1 396.8 430.6 393.5 432.2 390.3M458.9 396.6 460.4 400.3M429.8 392.7 431.4 389.2M462.7 393 464.3 396.9M430.5 388.7 432.1 385.1M466.6 389.5 468.2 393.7M252.3 387.6 253.9 386.8 255.4 386.2 257 385.6 258.6 385.1 260.1 384.8 261.7 384.4M275.8 384.6 277.4 384.8 279 385.1 280.5 385.4 282.1 385.8 283.7 386.3 285.3 386.8 286.8 387.3 288.4 388 290 388.6M431.2 384.6 432.8 380.9M470.5 386.3 472.1 390.7M248.3 384 249.9 382.8 251.5 381.7 253 380.8M293.8 381.7 295.4 382.5 297 383.3 298.5 384.1 300.1 385 301.7 385.9M430.4 384 432 380.5M474.4 383.2 475.9 387.8M244.3 381.8 245.9 380.3 247.5 378.9 249 377.5M305.6 379.1 307.1 380.1 308.7 381.1 310.3 382.2 311.8 383.3M431.1 379.7 432.7 376.2M478.2 380.3 479.8 385M241.9 378.8 243.5 377.2 245.1 375.6M315.7 376.8 317.3 378 318.8 379.2 320.4 380.4M430.3 378.5 431.9 375.3M482.1 377.4 483.7 382.1M239.5 375.7 241.1 374.2 242.7 372.6M324.3 374 325.9 375.3 327.4 376.6M431 374 432.6 370.7M486 374.6 487.5 379.2M235.5 373.2 237.1 372.1 238.7 370.8 240.2 369.4M331.3 370.1 332.9 371.4 334.4 372.7 336 374.1M430.2 372.2 431.8 369.2M489.8 371.6 491.4 376.2" stroke="#c42337" stroke-width="1.5" fill="none" stroke-linejoin="round"/>
<path d="M434.7 401.5 436.3 401 437.9 401 439.4 401.3 441 402.1M432.3 397.9 433.9 396.1 435.4 394.8M444.9 395.8 446.4 397.4 448 399.5M431.5 395 433 392.4M451.9 394.5 453.4 397.4M432.2 390.3 433.8 387.3M455.7 389.8 457.3 393.1 458.9 396.6M431.4 389.2 432.9 385.8M461.2 389.1 462.7 393M432.1 385.1 433.7 381.5M465 385.4 466.6 389.5M261.7 384.4 263.3 384.2 264.9 384.1 266.4 384 268 384 269.6 384 271.1 384.1 272.7 384.2 274.3 384.4 275.8 384.6M432.8 380.9 434.4 377.2M468.9 381.9 470.5 386.3M253 380.8 254.6 379.9 256.2 379.1 257.7 378.4 259.3 377.8M284.4 378 286 378.5 287.6 379 289.1 379.6 290.7 380.3 292.3 381 293.8 381.7M432 380.5 433.5 376.8M472.8 378.6 474.4 383.2M249 377.5 250.6 376.2 252.2 375M299.3 375.5 300.8 376.3 302.4 377.3 304 378.2 305.6 379.1M432.7 376.2 434.3 372.6M476.7 375.5 478.2 380.3M245.1 375.6 246.6 374 248.2 372.5 249.8 371M309.4 372.2 311 373.3 312.6 374.4 314.1 375.6 315.7 376.8M431.9 375.3 433.4 371.9M480.5 372.6 482.1 377.4M242.7 372.6 244.2 371 245.8 369.4 247.4 367.7M319.6 370.1 321.1 371.4 322.7 372.7 324.3 374M432.6 370.7 434.2 367.3M484.4 369.7 486 374.6M240.2 369.4 241.8 367.9 243.4 366.3 245 364.7M328.2 367.4 329.7 368.8 331.3 370.1M431.8 369.2 433.3 366M488.3 366.8 489.8 371.6" stroke="#c82234" stroke-width="1.5" fill="none" stroke-linejoin="round"/>
<path d="M435.4 394.8 437 393.9 438.6 393.4 440.2 393.4 441.7 393.7 443.3 394.6 444.9 395.8M433 392.4 434.6 390.2 436.2 388.4M448.7 389.8 450.3 391.9 451.9 394.5M433.8 387.3 435.3 384.6M454.2 386.8 455.7 389.8M432.9 385.8 434.5 382.5M459.6 385.5 461.2 389.1M433.7 381.5 435.2 377.9M463.5 381.4 465 385.4M434.4 377.2 436 373.4M467.3 377.6 468.9 381.9M259.3 377.8 260.9 377.3 262.4 376.9 264 376.6 265.6 376.3 267.2 376.2 268.7 376.1 270.3 376.1 271.9 376.1 273.4 376.2 275 376.4 276.6 376.5 278.1 376.8 279.7 377 281.3 377.3 282.8 377.6 284.4 378M433.5 376.8 435.1 373M252.2 375 253.8 373.8 255.3 372.8 256.9 371.9 258.5 371.1M291.4 371.6 293 372.3 294.6 373 296.1 373.8 297.7 374.6 299.3 375.5M434.3 372.6 435.8 368.7M249.8 371 251.3 369.5 252.9 368.2M304.7 369.3 306.3 370.2 307.9 371.2 309.4 372.2M433.4 371.9 435 368.2M247.4 367.7 248.9 366 250.5 364.4M314.9 366.4 316.4 367.6 318 368.8 319.6 370.1M434.2 367.3 435.7 363.7M245 364.7 246.5 363 248.1 361.2M323.4 363.4 325 364.7 326.6 366.1 328.2 367.4M433.3 366 434.9 362.7 436.5 359.1" stroke="#cb2132" stroke-width="1.5" fill="none" stroke-linejoin="round"/>
<path d="M436.2 388.4 437.7 387 439.3 386 440.9 385.5 442.5 385.5 444 385.9 445.6 386.7 447.2 388 448.7 389.8M435.3 384.6 436.9 382.2M452.6 384.1 454.2 386.8M434.5 382.5 436.1 379.3M458 382 459.6 385.5M435.2 377.9 436.8 374.3M461.9 377.5 463.5 381.4M435.1 373 436.7 369M471.2 374 472.8 378.6M258.5 371.1 260 370.4 261.6 369.7 263.2 369.2 264.7 368.8 266.3 368.5 267.9 368.2 269.5 368 271 368 272.6 367.9 274.2 368 275.7 368.1 277.3 368.2 278.9 368.4 280.4 368.6 282 368.9 283.6 369.2 285.1 369.5 286.7 370 288.3 370.4 289.9 371 291.4 371.6M435.8 368.7 437.4 364.7M475.1 370.7 476.7 375.5M252.9 368.2 254.5 366.9 256.1 365.7 257.6 364.6M296.9 364.8 298.4 365.6 300 366.5 301.6 367.4 303.1 368.3 304.7 369.3M435 368.2 436.6 364.4M479 367.6 480.5 372.6M250.5 364.4 252.1 362.8 253.6 361.3M308.6 362 310.2 363 311.7 364.1 313.3 365.2 314.9 366.4M435.7 363.7 437.3 359.9M482.8 364.6 484.4 369.7M248.1 361.2 249.7 359.5 251.2 357.7M318.7 359.4 320.3 360.7 321.9 362 323.4 363.4M436.5 359.1 438 355.4M486.7 361.6 488.3 366.8" stroke="#ce2030" stroke-width="1.5" fill="none" stroke-linejoin="round"/>
<path d="M436.9 382.2 438.5 380.3 440 378.9 441.6 377.9M447.9 378.7 449.5 380 451 381.8 452.6 384.1M436.1 379.3 437.6 376.5 439.2 374M454.9 376 456.5 378.8 458 382M436.8 374.3 438.4 371M460.3 373.9 461.9 377.5M436 373.4 437.5 369.6M465.8 373.4 467.3 377.6M436.7 369 438.3 365M469.6 369.5 471.2 374M437.4 364.7 439 360.6M473.5 365.9 475.1 370.7M257.6 364.6 259.2 363.6 260.8 362.8 262.3 362 263.9 361.4 265.5 360.8M287.4 361.2 289 361.6 290.6 362.1 292.2 362.7 293.7 363.3 295.3 364 296.9 364.8M436.6 364.4 438.1 360.4M477.4 362.5 479 367.6M253.6 361.3 255.2 359.8 256.8 358.5 258.4 357.2M303.9 359 305.4 360 307 361 308.6 362M437.3 359.9 438.9 355.9M481.3 359.3 482.8 364.6M251.2 357.7 252.8 356 254.4 354.3M314 355.7 315.6 356.9 317.2 358.1 318.7 359.4M438 355.4 439.6 351.4M485.1 356.3 486.7 361.6" stroke="#d01f2f" stroke-width="1.5" fill="none" stroke-linejoin="round"/>
<path d="M441.6 377.9 443.2 377.4 444.8 377.3 446.3 377.8 447.9 378.7M439.2 374 440.8 372M453.3 373.6 454.9 376M438.4 371 439.9 368.1M458.8 370.6 460.3 373.9M437.5 369.6 439.1 365.9M464.2 369.4 465.8 373.4M438.3 365 439.8 361.1M468.1 365.1 469.6 369.5M439 360.6 440.6 356.4M471.9 361.1 473.5 365.9M265.5 360.8 267 360.4 268.6 360.1 270.2 359.8 271.8 359.6 273.3 359.5 274.9 359.5 276.5 359.6 278 359.7 279.6 359.8 281.2 360 282.7 360.2 284.3 360.5 285.9 360.8 287.4 361.2M438.1 360.4 439.7 356.1M258.4 357.2 259.9 356.1 261.5 355.1 263.1 354.2M296 354.8 297.6 355.5 299.2 356.3 300.7 357.2 302.3 358.1 303.9 359M438.9 355.9 440.4 351.7M254.4 354.3 255.9 352.7 257.5 351.2M309.3 352.4 310.9 353.5 312.5 354.6 314 355.7" stroke="#d21e2d" stroke-width="1.5" fill="none" stroke-linejoin="round"/>
<path d="M440.8 372 442.3 370.5 443.9 369.5 445.5 368.9 447.1 368.9 448.6 369.4 450.2 370.3 451.8 371.7 453.3 373.6M439.9 368.1 441.5 365.5M457.2 367.7 458.8 370.6M439.1 365.9 440.7 362.5M462.6 365.6 464.2 369.4M439.8 361.1 441.4 357.2M466.5 360.9 468.1 365.1M439.7 356.1 441.3 351.8M475.8 357.5 477.4 362.5M263.1 354.2 264.6 353.4 266.2 352.7 267.8 352.2 269.3 351.7 270.9 351.3 272.5 351.1 274.1 350.9M280.3 350.9 281.9 351.1 283.5 351.3 285 351.5 286.6 351.8 288.2 352.1 289.7 352.5 291.3 353 292.9 353.5 294.5 354.1 296 354.8M440.4 351.7 442 347.3M479.7 354 481.3 359.3M257.5 351.2 259.1 349.8 260.7 348.5 262.2 347.3M303 348.4 304.6 349.4 306.2 350.3 307.7 351.4 309.3 352.4M439.6 351.4 441.2 347.2M483.6 350.8 485.1 356.3" stroke="#d51d2b" stroke-width="1.5" fill="none" stroke-linejoin="round"/>
<path d="M441.5 365.5 443.1 363.4 444.6 361.8M454.1 363.2 455.6 365.2 457.2 367.7M440.7 362.5 442.2 359.4 443.8 356.7M459.5 359 461.1 362.1 462.6 365.6M441.4 357.2 443 353.6M464.9 356.9 466.5 360.9M440.6 356.4 442.1 352.2M470.4 356.5 471.9 361.1M441.3 351.8 442.9 347.4M474.2 352.5 475.8 357.5M274.1 350.9 275.6 350.8 277.2 350.8 278.8 350.8 280.3 350.9M442 347.3 443.6 342.7M478.1 348.7 479.7 354M262.2 347.3 263.8 346.2 265.4 345.3 266.9 344.5 268.5 343.8M295.2 344.5 296.8 345.2 298.3 345.9 299.9 346.7 301.5 347.5 303 348.4M441.2 347.2 442.7 342.7M482 345.2 483.6 350.8" stroke="#d81c2a" stroke-width="1.5" fill="none" stroke-linejoin="round"/>
<path d="M444.6 361.8 446.2 360.7 447.8 360.2 449.4 360.2 450.9 360.7 452.5 361.7 454.1 363.2M443.8 356.7 445.4 354.5M457.9 356.4 459.5 359M443 353.6 444.5 350.3M463.4 353.3 464.9 356.9M442.1 352.2 443.7 348.2M468.8 352.1 470.4 356.5M442.9 347.4 444.4 343.1M472.7 347.6 474.2 352.5M268.5 343.8 270.1 343.2 271.6 342.7 273.2 342.3 274.8 342 276.4 341.8 277.9 341.7 279.5 341.7 281.1 341.8 282.6 341.9 284.2 342.1 285.8 342.3 287.3 342.5 288.9 342.8 290.5 343.1 292 343.5 293.6 344 295.2 344.5M442.7 342.7 444.3 338.1" stroke="#da1b28" stroke-width="1.5" fill="none" stroke-linejoin="round"/>
<path d="M445.4 354.5 446.9 352.8 448.5 351.7 450.1 351.1M454.8 352.7 456.4 354.3 457.9 356.4M444.5 350.3 446.1 347.5M461.8 350 463.4 353.3M443.7 348.2 445.3 344.4M467.2 347.9 468.8 352.1M444.4 343.1 446 338.8M471.1 343 472.7 347.6M443.6 342.7 445.2 338.1M476.5 343.5 478.1 348.7M444.3 338.1 445.9 333.3M480.4 339.7 482 345.2" stroke="#dc1a26" stroke-width="1.5" fill="none" stroke-linejoin="round"/>
<path d="M450.1 351.1 451.7 351.1 453.2 351.6 454.8 352.7M446.1 347.5 447.7 345.2 449.2 343.5M460.2 347.2 461.8 350M445.3 344.4 446.8 341M465.7 344.1 467.2 347.9M445.2 338.1 446.7 333.6M475 338.4 476.5 343.5M478.8 334.2 480.4 339.7" stroke="#df1925" stroke-width="1.5" fill="none" stroke-linejoin="round"/>
<path d="M449.2 343.5 450.8 342.3 452.4 341.7 454 341.7 455.5 342.3 457.1 343.4 458.7 345 460.2 347.2M446.8 341 448.4 338M464.1 340.7 465.7 344.1M446 338.8 447.6 334.9M469.5 338.6 471.1 343M446.7 333.6 448.3 329.1M473.4 333.6 475 338.4M445.9 333.3 447.5 328.5" stroke="#e01924" stroke-width="1.5" fill="none" stroke-linejoin="round"/>
<path d="M448.4 338 450 335.6 451.5 333.8M461 335.5 462.5 337.8 464.1 340.7M447.6 334.9 449.1 331.3M468 334.6 469.5 338.6M448.3 329.1 449.9 324.9M447.5 328.5 449 323.7M477.3 328.9 478.8 334.2" stroke="#e11823" stroke-width="1.5" fill="none" stroke-linejoin="round"/>
<path d="M451.5 333.8 453.1 332.6 454.7 332 456.3 332 457.8 332.6 459.4 333.7 461 335.5M449.1 331.3 450.7 328.2M466.4 331 468 334.6M471.8 329 473.4 333.6M449 323.7 450.6 319M475.7 323.7 477.3 328.9" stroke="#e21822" stroke-width="1.5" fill="none" stroke-linejoin="round"/>
<path d="M450.7 328.2 452.3 325.6 453.8 323.7M463.3 325.5 464.8 328 466.4 331M449.9 324.9 451.4 321.2M470.3 324.7 471.8 329M450.6 319 452.2 314.6M474.1 318.9 475.7 323.7" stroke="#e31721" stroke-width="1.5" fill="none" stroke-linejoin="round"/>
<path d="M453.8 323.7 455.4 322.5 457 321.9 458.6 321.9 460.1 322.5 461.7 323.7 463.3 325.5M451.4 321.2 453 317.9M468.7 321 470.3 324.7" stroke="#e41720" stroke-width="1.5" fill="none" stroke-linejoin="round"/>
<path d="M453 317.9 454.6 315.3 456.1 313.3M465.6 315.2 467.1 317.8 468.7 321M452.2 314.6 453.7 310.7M472.6 314.5 474.1 318.9" stroke="#e5161f" stroke-width="1.5" fill="none" stroke-linejoin="round"/>
<path d="M456.1 313.3 457.7 312 459.3 311.3 460.9 311.3 462.4 312 464 313.3 465.6 315.2M453.7 310.7 455.3 307.3M471 310.5 472.6 314.5" stroke="#e6161e" stroke-width="1.5" fill="none" stroke-linejoin="round"/>
<path d="M455.3 307.3 456.9 304.5 458.4 302.4M467.9 304.5 469.4 307.2 471 310.5" stroke="#e6151e" stroke-width="1.5" fill="none" stroke-linejoin="round"/>
<path d="M458.4 302.4 460 301.1 461.6 300.4M464.7 301.1 466.3 302.4 467.9 304.5" stroke="#e7151d" stroke-width="1.5" fill="none" stroke-linejoin="round"/>
<path d="M461.6 300.4 463.2 300.4 464.7 301.1" stroke="#e8141c" stroke-width="1.5" fill="none" stroke-linejoin="round"/>
<linearGradient id="ge" gradientUnits="userSpaceOnUse" x1="0" y1="634" x2="0" y2="430"><stop offset="0" stop-color="#3a7ab6"/><stop offset="0.5" stop-color="#4470ae"/><stop offset="1" stop-color="#6a5a94"/></linearGradient>
<path d="M34 632.5 36.3 629.5 38.6 626.4 40.9 623.4 43.2 620.4 45.5 617.3 47.8 614.2 50.1 611.2 52.4 608.1 54.7 605 57 601.9 59.3 598.8 61.6 595.7 63.9 592.5 66.2 589.4 68.5 586.2 70.8 583.1 73.1 579.9 75.4 576.7 77.7 573.5 80 570.3 82.3 567 84.6 563.8 86.9 560.5 89.2 557.2 91.5 553.9 93.8 550.5 96.1 547.2 98.4 543.8 100.7 540.4 103 536.9 105.3 533.4 107.6 529.9 109.9 526.4 112.2 522.8 114.5 519.2 116.8 515.6 119.1 511.9 121.4 508.2 123.7 504.4 126 500.6 128.3 496.8 130.6 492.9 132.9 488.9 135.2 484.9 137.5 480.8 139.8 476.6 142.1 472.4 144.4 468.1 146.7 463.8 149 459.3 151.3 454.8 153.6 450.2 155.9 445.5 158.2 440.7 160.5 435.7 162.8 430.7" stroke="url(#ge)" stroke-width="2.6" fill="none" stroke-linejoin="round"/>
<path d="M31.5 637.3V452.3L161.9 286.8H570.8V471.8L440.4 637.3Z" stroke="#58595b" stroke-width="1.1" fill="none"/>
<path d="M31.5 637.3V644.3M89.9 637.3V644.3M148.3 637.3V644.3M206.7 637.3V644.3M265.2 637.3V644.3M323.6 637.3V644.3M382 637.3V644.3M440.4 637.3V644.3" stroke="#58595b" stroke-width="1.1" fill="none"/>
<text x="16.6" y="660.9" font-size="16.5" fill="#231f20" font-family="Liberation Sans, Arial, sans-serif" textLength="29.8" lengthAdjust="spacingAndGlyphs">400</text>
<text x="75" y="660.9" font-size="16.5" fill="#231f20" font-family="Liberation Sans, Arial, sans-serif" textLength="29.8" lengthAdjust="spacingAndGlyphs">600</text>
<text x="133.4" y="660.9" font-size="16.5" fill="#231f20" font-family="Liberation Sans, Arial, sans-serif" textLength="29.8" lengthAdjust="spacingAndGlyphs">800</text>
<text x="186.9" y="660.9" font-size="16.5" fill="#231f20" font-family="Liberation Sans, Arial, sans-serif" textLength="39.6" lengthAdjust="spacingAndGlyphs">1,000</text>
<text x="245.4" y="660.9" font-size="16.5" fill="#231f20" font-family="Liberation Sans, Arial, sans-serif" textLength="39.6" lengthAdjust="spacingAndGlyphs">1,200</text>
<text x="303.8" y="660.9" font-size="16.5" fill="#231f20" font-family="Liberation Sans, Arial, sans-serif" textLength="39.6" lengthAdjust="spacingAndGlyphs">1,400</text>
<text x="362.2" y="660.9" font-size="16.5" fill="#231f20" font-family="Liberation Sans, Arial, sans-serif" textLength="39.6" lengthAdjust="spacingAndGlyphs">1,600</text>
<text x="420.6" y="660.9" font-size="16.5" fill="#231f20" font-family="Liberation Sans, Arial, sans-serif" textLength="39.6" lengthAdjust="spacingAndGlyphs">1,800</text>
<text x="169" y="680.9" font-size="16" fill="#231f20" font-family="Liberation Sans, Arial, sans-serif" textLength="119" lengthAdjust="spacingAndGlyphs">Wavelength (nm)</text>
<text transform="translate(22.2,583.8) rotate(-90)" font-size="16" fill="#231f20" font-family="Liberation Sans, Arial, sans-serif" textLength="68.5" lengthAdjust="spacingAndGlyphs">EQE (a.u.)</text>
<text x="530.7" y="542.7" font-size="16.8" fill="#231f20" font-family="Liberation Sans, Arial, sans-serif" textLength="52.3" lengthAdjust="spacingAndGlyphs">Optical</text>
<text x="530.7" y="560.2" font-size="16.8" fill="#231f20" font-family="Liberation Sans, Arial, sans-serif" textLength="44.2" lengthAdjust="spacingAndGlyphs">power</text>
<text x="530.7" y="577.7" font-size="16.8" fill="#231f20" font-family="Liberation Sans, Arial, sans-serif" textLength="50.8" lengthAdjust="spacingAndGlyphs">density</text>
<text x="530.7" y="595.2" font-size="16.8" fill="#231f20" font-family="Liberation Sans, Arial, sans-serif" textLength="35.6" lengthAdjust="spacingAndGlyphs">(a.u.)</text>
</svg></body></html>
